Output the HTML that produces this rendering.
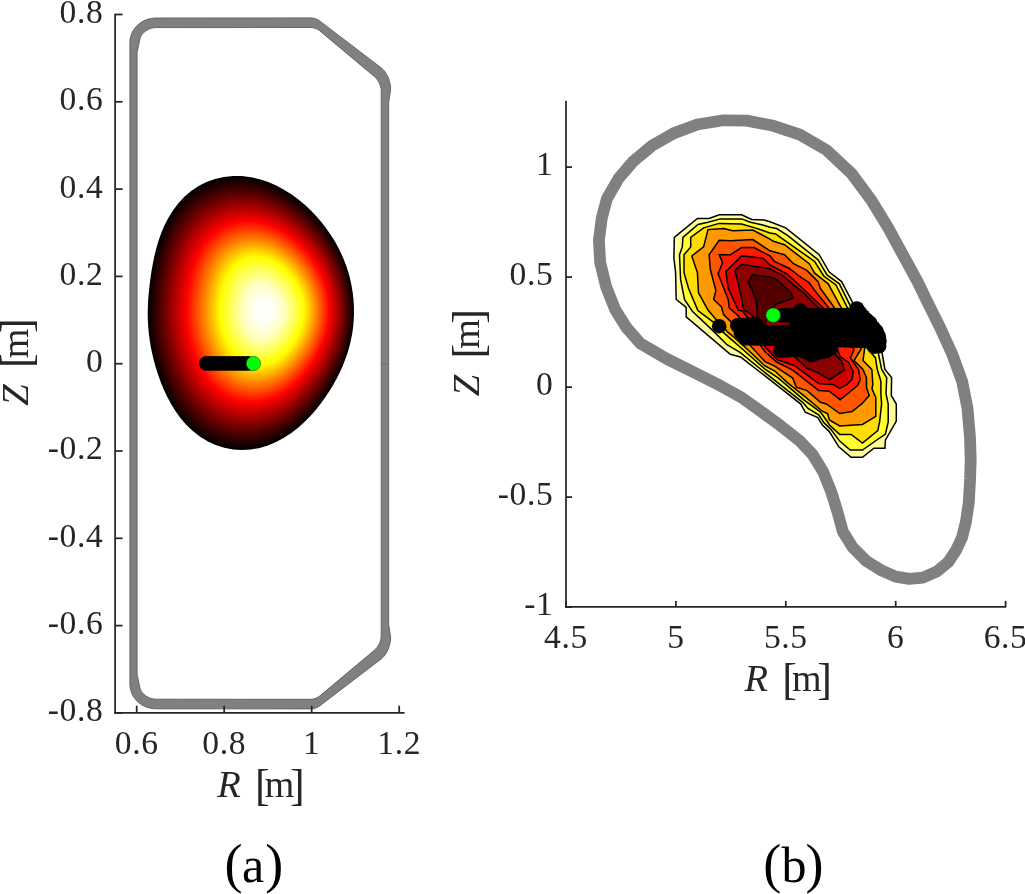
<!DOCTYPE html>
<html><head><meta charset="utf-8"><title>figure</title>
<style>
html,body{margin:0;padding:0;background:#fff;}
svg{display:block}
text{font-family:"Liberation Serif",serif;fill:#262626}
.tk{font-size:33.6px;letter-spacing:0.6px}
.lb{font-size:37px}
.it{font-style:italic;font-size:38.5px}
.mm{font-size:38px}
.br{font-size:44px}
.cap{font-size:50px;fill:#000}
.pr{font-size:54px}
</style></head><body>
<svg width="1025" height="894" viewBox="0 0 1025 894">
<rect width="1025" height="894" fill="#fff"/>
<path d="M129.90,363.40 L129.90,43.00 C129.90,29.00 141.38,18.00 156.00,18.00 L311.40,17.90 C314.54,17.96 318.76,19.72 321.00,21.90 L381.80,68.30 C386.56,72.05 390.48,81.16 390.70,89.00 L388.70,102.50 L388.70,624.30 L390.70,637.80 C390.48,645.64 386.56,654.75 381.80,658.50 L321.00,704.90 C318.76,707.08 314.54,708.84 311.40,708.90 L156.00,708.80 C141.38,708.80 129.90,697.80 129.90,683.80 L129.90,363.40 Z M137.10,363.40 L137.10,52.40 L140.00,38.50 C141.68,32.45 148.72,27.66 156.00,27.60 L311.00,27.50 C313.80,27.56 317.58,28.96 319.60,30.70 L374.30,76.50 C378.16,79.58 381.20,85.74 381.20,90.50 L381.20,636.30 C381.20,641.06 378.16,647.22 374.30,650.30 L319.60,696.10 C317.58,697.84 313.80,699.24 311.00,699.30 L156.00,699.20 C148.72,699.14 141.68,694.35 140.00,688.30 L137.10,674.40 L137.10,363.40 Z" fill="#808080" fill-rule="evenodd" stroke="#5e5e5e" stroke-width="0.9"/>
<line x1="381.2" y1="363.6" x2="388.7" y2="363.6" stroke="#6a6a6a" stroke-width="0.8"/>
<path d="M354.0,313.0 353.9,306.3 353.5,299.5 352.7,292.8 351.6,286.0 350.2,279.3 348.4,272.6 346.3,266.0 343.8,259.4 340.9,252.9 337.7,246.5 334.1,240.1 330.1,233.9 325.8,227.7 321.1,221.7 315.9,215.8 310.4,210.1 304.5,204.6 298.1,199.3 291.3,194.3 284.0,189.7 276.3,185.6 268.2,182.0 259.8,179.2 251.0,177.2 242.0,176.1 233.0,175.9 223.9,176.9 215.1,178.9 206.5,182.0 198.5,186.1 190.9,191.2 184.1,197.1 178.0,203.7 172.6,210.9 168.0,218.4 164.1,226.1 160.9,234.0 158.2,241.8 156.0,249.5 154.2,257.1 152.7,264.5 151.4,271.7 150.4,278.8 149.5,285.8 148.8,292.7 148.2,299.5 147.9,306.2 147.7,313.0 147.8,319.8 148.2,326.5 148.8,333.3 149.7,340.1 150.8,347.0 152.3,353.9 154.0,360.9 155.9,367.9 158.2,375.0 160.8,382.2 163.8,389.5 167.2,396.8 171.1,404.1 175.6,411.3 180.6,418.3 186.4,424.9 192.8,431.1 199.8,436.6 207.5,441.3 215.6,445.1 224.2,447.8 233.0,449.5 242.0,450.1 251.0,449.5 259.8,447.9 268.4,445.3 276.6,441.8 284.4,437.6 291.7,432.8 298.4,427.5 304.7,421.8 310.4,415.9 315.7,409.9 320.6,403.7 325.1,397.5 329.3,391.3 333.1,385.0 336.6,378.7 339.8,372.3 342.7,365.9 345.2,359.5 347.5,353.0 349.4,346.4 351.0,339.8 352.3,333.1 353.2,326.4 353.7,319.7Z" fill="#040000"/>
<path d="M353.2,313.0 353.1,306.3 352.7,299.6 351.9,293.0 350.8,286.4 349.4,279.7 347.7,273.1 345.6,266.6 343.1,260.1 340.3,253.7 337.1,247.3 333.5,241.1 329.6,234.9 325.3,228.8 320.6,222.9 315.5,217.1 310.1,211.5 304.2,206.0 297.9,200.8 291.1,195.9 284.0,191.3 276.4,187.3 268.3,183.8 260.0,181.0 251.3,179.0 242.4,177.9 233.4,177.7 224.5,178.7 215.7,180.7 207.3,183.7 199.3,187.8 191.8,192.8 185.1,198.6 179.0,205.2 173.7,212.2 169.2,219.6 165.3,227.2 162.1,235.0 159.4,242.7 157.2,250.3 155.4,257.8 154.0,265.1 152.7,272.3 151.7,279.3 150.8,286.1 150.1,292.9 149.6,299.6 149.2,306.3 149.1,313.0 149.2,319.6 149.5,326.3 150.1,333.0 151.0,339.7 152.2,346.5 153.6,353.3 155.2,360.2 157.2,367.1 159.4,374.1 162.0,381.2 164.9,388.4 168.3,395.7 172.2,402.9 176.6,410.0 181.6,416.8 187.3,423.4 193.7,429.4 200.6,434.9 208.2,439.5 216.3,443.2 224.7,446.0 233.5,447.6 242.4,448.2 251.3,447.6 260.0,446.0 268.5,443.5 276.6,440.0 284.3,435.9 291.5,431.1 298.2,425.9 304.4,420.3 310.1,414.5 315.3,408.5 320.2,402.5 324.6,396.3 328.7,390.2 332.5,384.0 336.0,377.7 339.1,371.5 342.0,365.2 344.5,358.8 346.8,352.4 348.7,345.9 350.2,339.4 351.5,332.8 352.4,326.2 352.9,319.6Z" fill="#0d0000"/>
<path d="M352.4,312.9 352.3,306.3 351.9,299.8 351.1,293.2 350.1,286.7 348.7,280.1 346.9,273.6 344.8,267.2 342.4,260.8 339.6,254.4 336.4,248.2 332.9,242.0 329.0,235.9 324.8,229.9 320.1,224.1 315.1,218.3 309.7,212.8 303.9,207.4 297.7,202.2 291.0,197.4 283.9,192.9 276.4,188.9 268.4,185.5 260.1,182.7 251.5,180.7 242.8,179.6 233.9,179.5 225.0,180.4 216.4,182.4 208.0,185.4 200.1,189.4 192.7,194.4 186.0,200.1 180.1,206.6 174.8,213.5 170.3,220.8 166.5,228.4 163.3,236.0 160.7,243.6 158.5,251.1 156.7,258.5 155.3,265.7 154.0,272.8 153.0,279.7 152.1,286.4 151.4,293.1 150.9,299.7 150.6,306.3 150.4,312.9 150.5,319.5 150.9,326.1 151.5,332.7 152.4,339.3 153.5,346.0 154.9,352.7 156.5,359.5 158.4,366.3 160.7,373.3 163.2,380.3 166.1,387.4 169.5,394.5 173.3,401.6 177.7,408.6 182.6,415.4 188.3,421.8 194.5,427.8 201.4,433.2 208.9,437.7 216.9,441.4 225.3,444.1 233.9,445.8 242.7,446.3 251.5,445.8 260.2,444.2 268.6,441.7 276.6,438.3 284.2,434.2 291.4,429.5 298.0,424.3 304.1,418.8 309.7,413.1 314.9,407.2 319.7,401.2 324.1,395.1 328.2,389.1 331.9,383.0 335.3,376.8 338.5,370.6 341.3,364.4 343.8,358.1 346.0,351.8 347.9,345.4 349.5,339.0 350.7,332.5 351.6,326.0 352.1,319.5Z" fill="#160000"/>
<path d="M351.6,312.9 351.5,306.4 351.1,299.9 350.3,293.4 349.3,287.0 347.9,280.5 346.2,274.1 344.1,267.7 341.7,261.4 338.9,255.2 335.8,249.0 332.3,242.9 328.5,236.9 324.3,231.0 319.7,225.2 314.7,219.6 309.4,214.1 303.6,208.8 297.4,203.7 290.8,198.9 283.8,194.5 276.4,190.5 268.5,187.1 260.3,184.4 251.8,182.5 243.1,181.4 234.3,181.3 225.6,182.2 217.0,184.1 208.7,187.1 200.9,191.1 193.6,195.9 187.0,201.6 181.1,208.0 175.9,214.8 171.4,222.0 167.6,229.4 164.5,237.0 161.9,244.5 159.8,251.9 158.0,259.2 156.6,266.3 155.3,273.3 154.3,280.1 153.5,286.7 152.8,293.3 152.2,299.9 151.9,306.4 151.8,312.9 151.9,319.4 152.2,325.9 152.8,332.4 153.7,338.9 154.8,345.5 156.2,352.1 157.8,358.8 159.7,365.6 161.9,372.4 164.4,379.3 167.3,386.3 170.6,393.4 174.4,400.4 178.7,407.3 183.7,414.0 189.2,420.3 195.4,426.2 202.2,431.5 209.6,436.0 217.5,439.7 225.8,442.3 234.4,443.9 243.1,444.5 251.8,443.9 260.4,442.4 268.7,439.9 276.6,436.6 284.2,432.5 291.2,427.9 297.8,422.8 303.8,417.4 309.4,411.7 314.5,405.9 319.2,400.0 323.6,394.0 327.6,388.0 331.3,382.0 334.7,375.9 337.8,369.8 340.6,363.7 343.1,357.5 345.3,351.2 347.2,344.9 348.7,338.6 349.9,332.2 350.8,325.8 351.3,319.3Z" fill="#1e0000"/>
<path d="M350.8,312.8 350.7,306.4 350.3,300.0 349.5,293.7 348.5,287.3 347.1,280.9 345.4,274.6 343.4,268.3 341.0,262.1 338.3,255.9 335.2,249.8 331.7,243.8 327.9,237.9 323.7,232.0 319.2,226.4 314.3,220.8 309.0,215.4 303.3,210.1 297.2,205.1 290.7,200.4 283.7,196.0 276.4,192.1 268.6,188.8 260.5,186.1 252.1,184.2 243.5,183.1 234.8,183.0 226.1,183.9 217.6,185.8 209.5,188.7 201.7,192.7 194.5,197.5 188.0,203.1 182.1,209.3 177.0,216.1 172.6,223.2 168.8,230.5 165.7,237.9 163.1,245.4 161.0,252.7 159.3,259.9 157.8,266.9 156.6,273.7 155.6,280.5 154.8,287.1 154.1,293.6 153.6,300.0 153.2,306.4 153.1,312.8 153.2,319.2 153.6,325.6 154.1,332.1 155.0,338.5 156.1,345.0 157.5,351.6 159.1,358.2 161.0,364.8 163.1,371.6 165.6,378.4 168.5,385.3 171.7,392.2 175.5,399.1 179.8,406.0 184.6,412.6 190.1,418.8 196.3,424.7 203.0,429.9 210.3,434.3 218.2,437.9 226.4,440.5 234.9,442.1 243.5,442.7 252.1,442.1 260.6,440.6 268.8,438.1 276.6,434.8 284.1,430.9 291.0,426.3 297.5,421.3 303.5,415.9 309.0,410.3 314.1,404.6 318.8,398.7 323.1,392.9 327.1,386.9 330.7,381.0 334.1,375.0 337.1,369.0 339.9,362.9 342.4,356.8 344.5,350.7 346.4,344.5 347.9,338.2 349.1,331.9 350.0,325.6 350.5,319.2Z" fill="#270000"/>
<path d="M349.9,312.8 349.9,306.5 349.5,300.2 348.7,293.9 347.7,287.6 346.4,281.3 344.7,275.1 342.7,268.9 340.3,262.7 337.6,256.6 334.5,250.6 331.1,244.7 327.4,238.8 323.2,233.1 318.7,227.5 313.9,222.0 308.6,216.6 303.0,211.5 297.0,206.5 290.5,201.9 283.7,197.6 276.4,193.7 268.7,190.4 260.7,187.8 252.3,185.9 243.8,184.8 235.2,184.7 226.7,185.6 218.3,187.5 210.2,190.4 202.5,194.2 195.4,199.0 188.9,204.5 183.1,210.7 178.0,217.3 173.7,224.4 170.0,231.6 166.9,238.9 164.4,246.2 162.3,253.4 160.5,260.5 159.1,267.5 157.9,274.2 156.9,280.9 156.1,287.4 155.4,293.8 154.9,300.1 154.6,306.5 154.5,312.8 154.6,319.1 154.9,325.4 155.5,331.8 156.3,338.1 157.4,344.5 158.7,351.0 160.3,357.5 162.2,364.1 164.4,370.7 166.8,377.5 169.6,384.3 172.9,391.1 176.6,397.9 180.8,404.7 185.6,411.2 191.1,417.4 197.1,423.1 203.8,428.2 211.1,432.6 218.8,436.2 226.9,438.8 235.3,440.3 243.8,440.9 252.3,440.3 260.7,438.8 268.8,436.4 276.6,433.2 284.0,429.2 290.9,424.7 297.3,419.8 303.2,414.5 308.7,409.0 313.7,403.3 318.3,397.5 322.6,391.7 326.5,385.9 330.1,380.0 333.5,374.1 336.5,368.2 339.2,362.2 341.7,356.2 343.8,350.1 345.6,344.0 347.1,337.8 348.3,331.6 349.2,325.3 349.7,319.1Z" fill="#300000"/>
<path d="M349.1,312.7 349.0,306.5 348.7,300.3 347.9,294.1 346.9,287.9 345.6,281.7 343.9,275.5 341.9,269.4 339.6,263.3 336.9,257.3 333.9,251.4 330.5,245.5 326.8,239.8 322.7,234.1 318.3,228.6 313.5,223.2 308.3,217.9 302.7,212.8 296.8,207.9 290.4,203.3 283.6,199.1 276.4,195.3 268.8,192.0 260.8,189.4 252.6,187.5 244.2,186.5 235.7,186.4 227.2,187.2 218.9,189.1 210.9,192.0 203.3,195.8 196.3,200.5 189.9,205.9 184.1,212.0 179.1,218.6 174.8,225.5 171.1,232.6 168.1,239.9 165.6,247.1 163.5,254.2 161.8,261.2 160.4,268.0 159.2,274.7 158.2,281.2 157.4,287.7 156.7,294.0 156.2,300.3 155.9,306.5 155.8,312.7 155.9,319.0 156.2,325.2 156.8,331.5 157.6,337.8 158.7,344.1 160.0,350.4 161.6,356.9 163.5,363.3 165.6,369.9 168.0,376.6 170.8,383.3 174.0,390.0 177.7,396.7 181.9,403.4 186.6,409.8 192.0,415.9 198.0,421.6 204.6,426.6 211.8,431.0 219.4,434.5 227.5,437.0 235.7,438.6 244.2,439.1 252.6,438.6 260.9,437.1 268.9,434.7 276.6,431.5 283.9,427.6 290.7,423.2 297.1,418.3 302.9,413.1 308.3,407.6 313.3,402.0 317.9,396.4 322.1,390.6 326.0,384.9 329.5,379.1 332.8,373.3 335.8,367.4 338.5,361.5 340.9,355.6 343.1,349.6 344.9,343.5 346.4,337.4 347.5,331.3 348.4,325.1 348.9,318.9Z" fill="#390000"/>
<path d="M348.3,312.7 348.2,306.6 347.8,300.4 347.1,294.3 346.1,288.2 344.8,282.1 343.2,276.0 341.2,270.0 338.9,264.0 336.2,258.0 333.2,252.2 329.9,246.4 326.2,240.7 322.2,235.1 317.8,229.7 313.0,224.3 307.9,219.1 302.4,214.1 296.5,209.3 290.2,204.8 283.5,200.6 276.4,196.8 268.8,193.6 261.0,191.0 252.9,189.2 244.5,188.1 236.1,188.0 227.8,188.9 219.5,190.7 211.6,193.6 204.1,197.3 197.2,201.9 190.8,207.3 185.2,213.3 180.2,219.8 175.9,226.6 172.3,233.7 169.3,240.8 166.8,247.9 164.8,254.9 163.1,261.8 161.7,268.6 160.5,275.2 159.5,281.6 158.7,288.0 158.1,294.2 157.6,300.4 157.2,306.5 157.1,312.7 157.2,318.8 157.5,325.0 158.1,331.2 158.9,337.4 160.0,343.6 161.3,349.9 162.9,356.2 164.7,362.6 166.8,369.1 169.2,375.6 172.0,382.3 175.1,388.9 178.8,395.6 182.9,402.1 187.6,408.5 192.9,414.5 198.9,420.1 205.4,425.1 212.5,429.3 220.0,432.8 228.0,435.3 236.2,436.8 244.5,437.3 252.9,436.8 261.1,435.4 269.0,433.0 276.6,429.9 283.8,426.0 290.6,421.6 296.8,416.8 302.6,411.7 308.0,406.3 312.9,400.8 317.4,395.2 321.6,389.5 325.4,383.9 328.9,378.1 332.2,372.4 335.2,366.6 337.8,360.8 340.2,355.0 342.3,349.0 344.1,343.1 345.6,337.1 346.7,331.0 347.6,324.9 348.1,318.8Z" fill="#410000"/>
<path d="M347.5,312.6 347.4,306.6 347.0,300.5 346.3,294.5 345.3,288.5 344.0,282.4 342.4,276.4 340.5,270.5 338.2,264.6 335.6,258.7 332.6,253.0 329.3,247.3 325.6,241.7 321.7,236.1 317.3,230.7 312.6,225.5 307.6,220.3 302.1,215.4 296.3,210.6 290.0,206.2 283.4,202.0 276.3,198.3 268.9,195.2 261.1,192.6 253.1,190.8 244.9,189.8 236.6,189.7 228.3,190.5 220.2,192.3 212.3,195.1 204.9,198.8 198.1,203.4 191.8,208.7 186.2,214.6 181.3,221.0 177.0,227.8 173.5,234.7 170.5,241.7 168.0,248.8 166.0,255.7 164.3,262.5 163.0,269.1 161.8,275.6 160.9,282.0 160.0,288.2 159.4,294.4 158.9,300.5 158.6,306.6 158.5,312.6 158.5,318.7 158.9,324.8 159.4,330.9 160.2,337.0 161.3,343.1 162.6,349.3 164.2,355.6 166.0,361.9 168.0,368.3 170.4,374.8 173.1,381.3 176.3,387.9 179.8,394.4 183.9,400.9 188.6,407.1 193.9,413.1 199.7,418.6 206.2,423.5 213.2,427.7 220.7,431.1 228.5,433.6 236.6,435.1 244.9,435.6 253.1,435.1 261.2,433.7 269.1,431.3 276.6,428.2 283.7,424.4 290.4,420.1 296.6,415.4 302.3,410.3 307.6,405.0 312.4,399.6 316.9,394.0 321.0,388.5 324.8,382.9 328.3,377.2 331.5,371.6 334.5,365.9 337.1,360.1 339.5,354.3 341.6,348.5 343.3,342.6 344.8,336.7 345.9,330.7 346.8,324.7 347.3,318.7Z" fill="#4a0000"/>
<path d="M346.7,312.6 346.6,306.6 346.2,300.7 345.5,294.7 344.5,288.7 343.3,282.8 341.6,276.9 339.7,271.0 337.5,265.2 334.9,259.4 331.9,253.7 328.7,248.1 325.1,242.6 321.1,237.1 316.8,231.8 312.2,226.6 307.2,221.5 301.8,216.7 296.0,212.0 289.9,207.6 283.3,203.5 276.3,199.8 269.0,196.7 261.3,194.2 253.4,192.4 245.2,191.4 237.0,191.3 228.8,192.1 220.8,193.9 213.1,196.7 205.7,200.3 198.9,204.8 192.7,210.1 187.2,215.9 182.3,222.2 178.2,228.9 174.6,235.7 171.7,242.6 169.2,249.6 167.2,256.4 165.6,263.1 164.2,269.7 163.1,276.1 162.2,282.4 161.4,288.5 160.7,294.6 160.2,300.6 159.9,306.6 159.8,312.6 159.9,318.6 160.2,324.6 160.7,330.6 161.6,336.6 162.6,342.7 163.9,348.8 165.4,355.0 167.2,361.2 169.2,367.5 171.6,373.9 174.3,380.3 177.4,386.8 180.9,393.3 185.0,399.6 189.6,405.8 194.8,411.7 200.6,417.1 207.0,422.0 213.9,426.1 221.3,429.5 229.1,431.9 237.1,433.4 245.2,433.9 253.4,433.4 261.4,432.0 269.1,429.7 276.6,426.6 283.6,422.9 290.2,418.6 296.3,413.9 302.0,408.9 307.2,403.7 312.0,398.3 316.4,392.9 320.5,387.4 324.3,381.9 327.7,376.3 330.9,370.7 333.8,365.1 336.4,359.4 338.8,353.7 340.8,348.0 342.5,342.2 344.0,336.3 345.1,330.4 345.9,324.5 346.5,318.6Z" fill="#530000"/>
<path d="M345.9,312.6 345.8,306.7 345.4,300.8 344.7,294.9 343.7,289.0 342.5,283.2 340.9,277.3 339.0,271.5 336.7,265.8 334.2,260.1 331.3,254.5 328.1,248.9 324.5,243.5 320.6,238.1 316.4,232.9 311.8,227.7 306.8,222.7 301.5,217.9 295.8,213.3 289.7,208.9 283.2,204.9 276.3,201.3 269.1,198.2 261.5,195.7 253.6,194.0 245.6,193.0 237.4,192.9 229.3,193.7 221.4,195.5 213.8,198.2 206.5,201.8 199.8,206.2 193.7,211.4 188.2,217.2 183.4,223.4 179.3,229.9 175.8,236.7 172.9,243.6 170.5,250.4 168.5,257.1 166.9,263.8 165.5,270.2 164.4,276.5 163.4,282.7 162.7,288.8 162.0,294.8 161.5,300.8 161.2,306.7 161.1,312.6 161.2,318.5 161.5,324.4 162.1,330.3 162.9,336.3 163.9,342.2 165.2,348.3 166.7,354.3 168.4,360.5 170.5,366.7 172.8,373.0 175.5,379.4 178.5,385.8 182.0,392.1 186.0,398.4 190.6,404.5 195.7,410.3 201.4,415.6 207.8,420.4 214.6,424.6 221.9,427.9 229.6,430.3 237.5,431.8 245.6,432.2 253.6,431.8 261.5,430.3 269.2,428.1 276.6,425.0 283.5,421.4 290.0,417.2 296.1,412.5 301.7,407.6 306.8,402.4 311.6,397.1 316.0,391.8 320.0,386.3 323.7,380.9 327.1,375.4 330.3,369.9 333.1,364.4 335.7,358.8 338.0,353.1 340.0,347.5 341.8,341.7 343.2,336.0 344.3,330.1 345.1,324.3 345.6,318.4Z" fill="#5b0000"/>
<path d="M345.0,312.5 344.9,306.7 344.6,300.9 343.9,295.1 342.9,289.3 341.7,283.5 340.1,277.8 338.2,272.1 336.0,266.4 333.5,260.8 330.6,255.2 327.4,249.8 323.9,244.4 320.1,239.1 315.9,233.9 311.3,228.8 306.4,223.9 301.2,219.1 295.6,214.6 289.5,210.3 283.1,206.3 276.3,202.8 269.1,199.7 261.6,197.3 253.9,195.5 245.9,194.6 237.9,194.5 229.9,195.3 222.0,197.0 214.5,199.7 207.3,203.3 200.7,207.6 194.6,212.7 189.2,218.4 184.5,224.6 180.4,231.0 176.9,237.7 174.0,244.4 171.7,251.2 169.7,257.8 168.1,264.4 166.8,270.8 165.7,277.0 164.7,283.1 164.0,289.1 163.3,295.0 162.8,300.9 162.5,306.7 162.4,312.5 162.5,318.3 162.8,324.2 163.4,330.0 164.2,335.9 165.2,341.8 166.4,347.7 167.9,353.7 169.7,359.8 171.7,365.9 174.0,372.1 176.6,378.4 179.6,384.7 183.1,391.0 187.0,397.2 191.6,403.2 196.6,408.9 202.3,414.2 208.5,418.9 215.3,423.0 222.5,426.3 230.1,428.7 237.9,430.1 245.9,430.6 253.9,430.1 261.7,428.7 269.3,426.5 276.5,423.5 283.4,419.8 289.9,415.7 295.8,411.1 301.4,406.3 306.5,401.2 311.2,396.0 315.5,390.7 319.5,385.3 323.1,379.9 326.5,374.5 329.6,369.1 332.5,363.6 335.0,358.1 337.3,352.5 339.3,346.9 341.0,341.3 342.4,335.6 343.5,329.9 344.3,324.1 344.8,318.3Z" fill="#640000"/>
<path d="M344.2,312.5 344.1,306.8 343.7,301.0 343.1,295.3 342.1,289.6 340.9,283.9 339.3,278.2 337.5,272.6 335.3,267.0 332.8,261.4 330.0,256.0 326.8,250.6 323.3,245.3 319.5,240.0 315.4,234.9 310.9,229.9 306.1,225.1 300.9,220.4 295.3,215.9 289.3,211.7 283.0,207.7 276.3,204.2 269.2,201.2 261.8,198.8 254.1,197.1 246.2,196.1 238.3,196.0 230.4,196.8 222.7,198.6 215.2,201.2 208.1,204.7 201.5,209.0 195.6,214.0 190.2,219.7 185.5,225.7 181.5,232.1 178.1,238.7 175.2,245.3 172.9,252.0 171.0,258.5 169.4,265.0 168.1,271.3 167.0,277.4 166.0,283.5 165.3,289.4 164.6,295.2 164.2,301.0 163.9,306.7 163.7,312.5 163.8,318.2 164.1,324.0 164.7,329.8 165.5,335.5 166.5,341.4 167.7,347.2 169.2,353.1 170.9,359.1 172.9,365.2 175.2,371.3 177.8,377.5 180.7,383.7 184.2,389.9 188.1,396.0 192.5,401.9 197.5,407.6 203.1,412.8 209.3,417.5 216.0,421.5 223.1,424.7 230.6,427.0 238.4,428.5 246.2,428.9 254.1,428.5 261.8,427.1 269.3,424.9 276.5,421.9 283.3,418.4 289.7,414.3 295.6,409.7 301.1,404.9 306.1,399.9 310.7,394.8 315.0,389.6 318.9,384.3 322.6,379.0 325.9,373.6 329.0,368.3 331.8,362.9 334.3,357.4 336.6,352.0 338.5,346.4 340.2,340.9 341.6,335.2 342.7,329.6 343.5,323.9 344.0,318.2Z" fill="#6d0000"/>
<path d="M343.4,312.4 343.3,306.8 342.9,301.1 342.3,295.5 341.3,289.9 340.1,284.2 338.6,278.6 336.7,273.1 334.6,267.5 332.1,262.1 329.3,256.7 326.2,251.4 322.8,246.1 319.0,241.0 314.9,235.9 310.5,231.0 305.7,226.2 300.6,221.6 295.1,217.2 289.2,213.0 282.9,209.1 276.2,205.7 269.2,202.7 261.9,200.3 254.3,198.6 246.6,197.7 238.7,197.6 230.9,198.4 223.3,200.1 215.9,202.7 208.9,206.1 202.4,210.4 196.5,215.3 191.2,220.9 186.6,226.9 182.6,233.1 179.2,239.6 176.4,246.2 174.1,252.8 172.2,259.2 170.6,265.6 169.3,271.8 168.2,277.9 167.3,283.8 166.6,289.6 165.9,295.4 165.5,301.1 165.2,306.8 165.1,312.4 165.1,318.1 165.4,323.8 166.0,329.5 166.7,335.2 167.7,340.9 169.0,346.7 170.4,352.5 172.1,358.4 174.1,364.4 176.3,370.5 178.9,376.6 181.9,382.7 185.2,388.8 189.1,394.8 193.5,400.7 198.5,406.2 204.0,411.4 210.1,416.0 216.7,419.9 223.7,423.1 231.1,425.4 238.8,426.8 246.6,427.3 254.3,426.8 262.0,425.5 269.4,423.3 276.5,420.4 283.2,416.9 289.5,412.8 295.3,408.4 300.7,403.6 305.7,398.7 310.3,393.6 314.5,388.5 318.4,383.3 322.0,378.0 325.3,372.8 328.3,367.5 331.1,362.2 333.6,356.8 335.8,351.4 337.8,345.9 339.4,340.4 340.8,334.9 341.9,329.3 342.7,323.7 343.2,318.1Z" fill="#760000"/>
<path d="M342.5,312.4 342.4,306.8 342.1,301.3 341.4,295.7 340.5,290.1 339.3,284.6 337.8,279.1 336.0,273.6 333.8,268.1 331.4,262.7 328.6,257.4 325.6,252.2 322.2,247.0 318.4,241.9 314.4,236.9 310.0,232.1 305.3,227.4 300.2,222.8 294.8,218.4 289.0,214.3 282.8,210.5 276.2,207.1 269.3,204.2 262.1,201.8 254.6,200.1 246.9,199.2 239.2,199.1 231.4,199.9 223.9,201.6 216.6,204.1 209.7,207.6 203.3,211.7 197.4,216.6 192.2,222.1 187.6,228.0 183.7,234.2 180.4,240.6 177.6,247.1 175.3,253.5 173.4,259.9 171.9,266.2 170.6,272.3 169.5,278.3 168.6,284.2 167.9,289.9 167.2,295.6 166.8,301.2 166.5,306.8 166.4,312.4 166.5,318.0 166.8,323.6 167.3,329.2 168.0,334.8 169.0,340.5 170.2,346.2 171.7,352.0 173.4,357.8 175.3,363.7 177.5,369.6 180.0,375.6 183.0,381.7 186.3,387.7 190.1,393.7 194.5,399.4 199.4,404.9 204.8,410.0 210.9,414.5 217.4,418.4 224.3,421.6 231.7,423.9 239.2,425.2 246.9,425.7 254.6,425.2 262.1,423.9 269.4,421.8 276.5,418.9 283.1,415.4 289.3,411.4 295.1,407.0 300.4,402.4 305.3,397.5 309.9,392.5 314.0,387.4 317.9,382.3 321.4,377.1 324.7,371.9 327.7,366.7 330.4,361.4 332.9,356.1 335.1,350.8 337.0,345.4 338.6,340.0 340.0,334.6 341.1,329.1 341.8,323.5 342.3,318.0Z" fill="#7e0000"/>
<path d="M341.7,312.4 341.6,306.9 341.3,301.4 340.6,295.9 339.7,290.4 338.5,284.9 337.0,279.5 335.2,274.1 333.1,268.7 330.7,263.4 328.0,258.1 324.9,252.9 321.6,247.9 317.9,242.8 313.9,237.9 309.6,233.1 304.9,228.5 299.9,224.0 294.5,219.7 288.8,215.6 282.7,211.9 276.2,208.5 269.3,205.6 262.2,203.3 254.8,201.6 247.2,200.7 239.6,200.6 232.0,201.4 224.5,203.0 217.3,205.6 210.5,208.9 204.1,213.1 198.4,217.9 193.2,223.3 188.7,229.1 184.8,235.2 181.5,241.5 178.8,247.9 176.5,254.3 174.6,260.6 173.1,266.8 171.8,272.8 170.8,278.7 169.9,284.5 169.1,290.2 168.5,295.8 168.1,301.3 167.8,306.9 167.7,312.4 167.8,317.9 168.1,323.4 168.6,328.9 169.3,334.5 170.3,340.1 171.5,345.7 172.9,351.4 174.6,357.1 176.5,362.9 178.7,368.8 181.2,374.7 184.1,380.7 187.4,386.7 191.1,392.5 195.4,398.2 200.3,403.6 205.7,408.6 211.6,413.1 218.1,416.9 224.9,420.0 232.2,422.3 239.6,423.7 247.2,424.1 254.8,423.7 262.3,422.3 269.5,420.2 276.4,417.4 283.0,414.0 289.1,410.0 294.8,405.7 300.1,401.1 304.9,396.3 309.4,391.3 313.5,386.3 317.3,381.3 320.8,376.2 324.0,371.0 327.0,365.9 329.7,360.7 332.1,355.5 334.3,350.3 336.2,344.9 337.8,339.6 339.2,334.2 340.2,328.8 341.0,323.3 341.5,317.9Z" fill="#870000"/>
<path d="M340.8,312.3 340.8,306.9 340.4,301.5 339.8,296.1 338.9,290.7 337.7,285.3 336.2,279.9 334.4,274.5 332.4,269.3 330.0,264.0 327.3,258.8 324.3,253.7 321.0,248.7 317.4,243.8 313.4,238.9 309.1,234.2 304.5,229.6 299.6,225.2 294.3,220.9 288.6,216.9 282.6,213.2 276.2,209.9 269.4,207.0 262.3,204.7 255.0,203.1 247.6,202.2 240.0,202.1 232.5,202.9 225.1,204.5 218.0,207.0 211.2,210.3 205.0,214.4 199.3,219.2 194.2,224.5 189.7,230.2 185.9,236.2 182.6,242.5 179.9,248.8 177.7,255.1 175.8,261.3 174.3,267.4 173.1,273.3 172.0,279.2 171.2,284.9 170.4,290.5 169.8,296.0 169.4,301.4 169.1,306.9 169.0,312.3 169.1,317.8 169.4,323.2 169.9,328.7 170.6,334.2 171.6,339.7 172.8,345.2 174.2,350.8 175.8,356.5 177.7,362.2 179.9,368.0 182.3,373.8 185.2,379.7 188.4,385.6 192.2,391.4 196.4,397.0 201.2,402.3 206.5,407.3 212.4,411.7 218.7,415.5 225.5,418.5 232.7,420.7 240.1,422.1 247.5,422.5 255.0,422.1 262.4,420.8 269.5,418.7 276.4,415.9 282.9,412.5 288.9,408.6 294.6,404.4 299.8,399.8 304.6,395.1 309.0,390.2 313.0,385.3 316.8,380.3 320.2,375.2 323.4,370.2 326.3,365.1 329.0,360.0 331.4,354.9 333.6,349.7 335.4,344.5 337.0,339.2 338.4,333.9 339.4,328.5 340.2,323.1 340.6,317.7Z" fill="#900000"/>
<path d="M340.0,312.3 339.9,306.9 339.6,301.6 339.0,296.2 338.1,290.9 336.9,285.6 335.4,280.3 333.7,275.0 331.6,269.8 329.3,264.6 326.6,259.5 323.7,254.5 320.4,249.5 316.8,244.7 312.9,239.9 308.7,235.2 304.1,230.7 299.3,226.3 294.0,222.1 288.4,218.2 282.4,214.5 276.1,211.3 269.4,208.5 262.5,206.2 255.3,204.6 247.9,203.7 240.4,203.6 233.0,204.3 225.7,206.0 218.7,208.4 212.0,211.7 205.8,215.7 200.2,220.4 195.2,225.6 190.8,231.3 187.0,237.3 183.8,243.4 181.1,249.6 178.9,255.8 177.1,261.9 175.6,268.0 174.3,273.8 173.3,279.6 172.4,285.2 171.7,290.7 171.1,296.2 170.7,301.6 170.4,306.9 170.3,312.3 170.4,317.7 170.7,323.0 171.2,328.4 171.9,333.8 172.8,339.2 174.0,344.7 175.4,350.2 177.0,355.8 178.9,361.5 181.0,367.2 183.5,373.0 186.3,378.8 189.5,384.6 193.2,390.3 197.4,395.8 202.1,401.0 207.3,405.9 213.1,410.3 219.4,414.0 226.1,417.0 233.2,419.2 240.5,420.5 247.9,421.0 255.3,420.5 262.5,419.3 269.6,417.2 276.3,414.4 282.7,411.1 288.7,407.3 294.3,403.1 299.4,398.6 304.2,393.9 308.5,389.1 312.5,384.2 316.2,379.3 319.7,374.3 322.8,369.4 325.7,364.4 328.3,359.3 330.7,354.3 332.8,349.1 334.7,344.0 336.2,338.8 337.6,333.5 338.6,328.3 339.3,323.0 339.8,317.6Z" fill="#980000"/>
<path d="M339.2,312.3 339.1,307.0 338.7,301.7 338.1,296.4 337.2,291.2 336.1,285.9 334.6,280.7 332.9,275.5 330.9,270.4 328.6,265.3 325.9,260.2 323.0,255.3 319.8,250.4 316.2,245.6 312.4,240.9 308.2,236.3 303.8,231.8 298.9,227.5 293.8,223.3 288.2,219.4 282.3,215.8 276.1,212.6 269.5,209.9 262.6,207.6 255.5,206.0 248.2,205.2 240.8,205.1 233.5,205.8 226.3,207.4 219.4,209.8 212.8,213.1 206.7,217.0 201.1,221.6 196.2,226.8 191.8,232.4 188.1,238.3 184.9,244.3 182.3,250.4 180.1,256.6 178.3,262.6 176.8,268.5 175.6,274.3 174.6,280.0 173.7,285.5 173.0,291.0 172.4,296.4 172.0,301.7 171.7,307.0 171.6,312.3 171.7,317.5 172.0,322.8 172.5,328.1 173.2,333.5 174.1,338.8 175.3,344.2 176.6,349.7 178.2,355.2 180.1,360.7 182.2,366.4 184.6,372.1 187.4,377.8 190.6,383.5 194.2,389.1 198.3,394.6 203.0,399.8 208.2,404.6 213.9,408.9 220.1,412.6 226.7,415.5 233.7,417.7 240.9,419.0 248.2,419.4 255.5,419.0 262.7,417.7 269.6,415.7 276.3,413.0 282.6,409.7 288.5,405.9 294.0,401.8 299.1,397.4 303.8,392.7 308.1,388.0 312.0,383.2 315.7,378.3 319.1,373.4 322.2,368.5 325.0,363.6 327.6,358.6 330.0,353.6 332.1,348.6 333.9,343.5 335.4,338.4 336.7,333.2 337.8,328.0 338.5,322.8 339.0,317.5Z" fill="#a10000"/>
<path d="M338.3,312.2 338.2,307.0 337.9,301.8 337.3,296.6 336.4,291.4 335.3,286.3 333.8,281.1 332.1,276.0 330.1,270.9 327.8,265.9 325.3,260.9 322.4,256.0 319.2,251.2 315.7,246.5 311.9,241.8 307.8,237.3 303.4,232.9 298.6,228.6 293.5,224.5 288.0,220.7 282.2,217.2 276.0,214.0 269.5,211.2 262.7,209.0 255.7,207.5 248.5,206.6 241.2,206.5 234.0,207.3 226.9,208.8 220.0,211.2 213.6,214.4 207.5,218.3 202.1,222.9 197.1,228.0 192.8,233.5 189.1,239.3 186.0,245.2 183.4,251.3 181.3,257.3 179.5,263.3 178.0,269.1 176.8,274.8 175.8,280.4 175.0,285.9 174.3,291.2 173.7,296.5 173.3,301.8 173.0,307.0 172.9,312.2 173.0,317.4 173.2,322.7 173.7,327.9 174.5,333.1 175.4,338.4 176.5,343.7 177.9,349.1 179.4,354.5 181.3,360.0 183.3,365.6 185.7,371.2 188.5,376.9 191.6,382.5 195.2,388.0 199.3,393.4 203.9,398.5 209.0,403.3 214.7,407.5 220.8,411.1 227.3,414.0 234.2,416.2 241.3,417.5 248.5,417.9 255.7,417.5 262.8,416.2 269.7,414.2 276.3,411.6 282.5,408.3 288.3,404.6 293.7,400.5 298.8,396.1 303.4,391.6 307.6,386.9 311.5,382.2 315.1,377.4 318.5,372.6 321.5,367.7 324.3,362.8 326.9,358.0 329.2,353.0 331.3,348.0 333.1,343.0 334.6,338.0 335.9,332.9 336.9,327.7 337.6,322.6 338.1,317.4Z" fill="#aa0000"/>
<path d="M337.4,312.2 337.4,307.1 337.0,301.9 336.4,296.8 335.6,291.7 334.5,286.6 333.0,281.5 331.4,276.5 329.4,271.4 327.1,266.5 324.6,261.6 321.7,256.8 318.6,252.0 315.1,247.3 311.4,242.8 307.3,238.3 303.0,234.0 298.3,229.8 293.2,225.7 287.8,221.9 282.1,218.4 276.0,215.3 269.6,212.6 262.9,210.5 255.9,208.9 248.8,208.1 241.6,208.0 234.5,208.7 227.5,210.2 220.7,212.6 214.3,215.7 208.4,219.6 203.0,224.1 198.1,229.1 193.9,234.5 190.2,240.2 187.1,246.1 184.6,252.1 182.4,258.0 180.7,263.9 179.3,269.7 178.1,275.3 177.1,280.8 176.3,286.2 175.6,291.5 175.0,296.7 174.6,301.9 174.3,307.0 174.2,312.2 174.3,317.3 174.5,322.5 175.0,327.6 175.7,332.8 176.6,338.0 177.8,343.3 179.1,348.6 180.7,353.9 182.4,359.3 184.5,364.8 186.9,370.3 189.6,375.9 192.7,381.5 196.2,386.9 200.2,392.2 204.8,397.3 209.8,401.9 215.4,406.1 221.5,409.7 227.9,412.6 234.7,414.7 241.7,416.0 248.8,416.4 255.9,416.0 262.9,414.7 269.7,412.8 276.2,410.1 282.4,406.9 288.1,403.3 293.5,399.2 298.4,394.9 303.0,390.4 307.2,385.8 311.0,381.1 314.6,376.4 317.9,371.7 320.9,366.9 323.7,362.1 326.2,357.3 328.5,352.4 330.5,347.5 332.3,342.6 333.8,337.6 335.1,332.6 336.1,327.5 336.8,322.4 337.3,317.3Z" fill="#b30000"/>
<path d="M336.6,312.1 336.5,307.1 336.2,302.0 335.6,297.0 334.8,291.9 333.6,286.9 332.3,281.9 330.6,276.9 328.6,272.0 326.4,267.1 323.9,262.3 321.1,257.5 318.0,252.8 314.6,248.2 310.9,243.7 306.9,239.3 302.6,235.0 297.9,230.9 292.9,226.9 287.6,223.2 282.0,219.7 275.9,216.6 269.6,214.0 263.0,211.9 256.1,210.3 249.1,209.5 242.0,209.4 235.0,210.1 228.1,211.6 221.4,214.0 215.1,217.1 209.2,220.9 203.9,225.3 199.1,230.2 194.9,235.6 191.3,241.2 188.3,247.0 185.7,252.9 183.6,258.8 181.9,264.6 180.5,270.2 179.3,275.8 178.3,281.2 177.5,286.5 176.8,291.8 176.3,296.9 175.8,302.0 175.6,307.1 175.5,312.1 175.5,317.2 175.8,322.3 176.3,327.4 177.0,332.5 177.9,337.6 179.0,342.8 180.3,348.0 181.9,353.3 183.6,358.6 185.7,364.0 188.0,369.5 190.6,375.0 193.7,380.5 197.2,385.8 201.2,391.1 205.7,396.0 210.7,400.6 216.2,404.8 222.1,408.3 228.5,411.1 235.2,413.2 242.1,414.5 249.1,414.9 256.1,414.5 263.1,413.3 269.8,411.3 276.2,408.7 282.2,405.5 287.9,401.9 293.2,398.0 298.1,393.7 302.6,389.3 306.7,384.8 310.5,380.1 314.0,375.5 317.3,370.8 320.3,366.1 323.0,361.4 325.5,356.6 327.8,351.8 329.8,347.0 331.5,342.1 333.0,337.2 334.3,332.2 335.2,327.2 336.0,322.2 336.4,317.2Z" fill="#bb0000"/>
<path d="M335.7,312.1 335.7,307.1 335.3,302.1 334.8,297.2 333.9,292.2 332.8,287.2 331.4,282.3 329.8,277.4 327.9,272.5 325.7,267.7 323.2,262.9 320.4,258.2 317.4,253.6 314.0,249.1 310.4,244.6 306.4,240.3 302.1,236.1 297.6,232.0 292.7,228.1 287.4,224.4 281.8,221.0 275.9,218.0 269.6,215.3 263.1,213.2 256.4,211.7 249.4,210.9 242.4,210.8 235.5,211.5 228.7,213.0 222.1,215.3 215.9,218.4 210.1,222.1 204.8,226.5 200.1,231.4 195.9,236.6 192.4,242.2 189.4,247.9 186.9,253.7 184.8,259.5 183.1,265.2 181.7,270.8 180.6,276.3 179.6,281.6 178.8,286.9 178.1,292.0 177.5,297.1 177.1,302.1 176.9,307.1 176.8,312.1 176.8,317.1 177.1,322.1 177.6,327.1 178.3,332.2 179.2,337.2 180.3,342.3 181.6,347.5 183.1,352.7 184.8,357.9 186.8,363.3 189.1,368.6 191.7,374.1 194.8,379.4 198.2,384.8 202.1,389.9 206.5,394.8 211.5,399.4 216.9,403.4 222.8,406.9 229.1,409.7 235.7,411.7 242.5,413.0 249.4,413.4 256.4,413.0 263.2,411.8 269.8,409.9 276.1,407.3 282.1,404.2 287.7,400.6 292.9,396.7 297.7,392.5 302.2,388.2 306.3,383.7 310.0,379.1 313.5,374.6 316.7,369.9 319.6,365.3 322.3,360.6 324.8,355.9 327.0,351.2 329.0,346.4 330.7,341.6 332.2,336.8 333.4,331.9 334.4,327.0 335.1,322.0 335.5,317.1Z" fill="#c40000"/>
<path d="M334.9,312.1 334.8,307.2 334.5,302.2 333.9,297.3 333.1,292.4 332.0,287.5 330.6,282.7 329.0,277.8 327.1,273.0 325.0,268.3 322.5,263.6 319.8,259.0 316.7,254.4 313.4,250.0 309.8,245.6 305.9,241.3 301.7,237.1 297.2,233.1 292.4,229.2 287.2,225.6 281.7,222.3 275.8,219.3 269.7,216.7 263.2,214.6 256.6,213.1 249.7,212.3 242.8,212.2 236.0,212.9 229.2,214.4 222.8,216.7 216.6,219.7 210.9,223.4 205.7,227.7 201.0,232.5 197.0,237.7 193.5,243.1 190.5,248.8 188.0,254.5 186.0,260.2 184.3,265.8 182.9,271.3 181.8,276.7 180.8,282.0 180.0,287.2 179.4,292.3 178.8,297.3 178.4,302.2 178.1,307.1 178.0,312.1 178.1,317.0 178.4,321.9 178.9,326.9 179.5,331.8 180.4,336.8 181.5,341.9 182.8,346.9 184.3,352.1 186.0,357.2 188.0,362.5 190.2,367.8 192.8,373.1 195.8,378.5 199.2,383.7 203.1,388.8 207.4,393.6 212.3,398.1 217.6,402.1 223.5,405.5 229.7,408.3 236.2,410.3 242.9,411.5 249.7,411.9 256.6,411.5 263.3,410.3 269.8,408.4 276.1,405.9 282.0,402.8 287.5,399.3 292.6,395.5 297.4,391.4 301.8,387.1 305.8,382.6 309.5,378.2 312.9,373.6 316.1,369.1 319.0,364.5 321.6,359.9 324.1,355.3 326.3,350.6 328.2,345.9 329.9,341.2 331.4,336.4 332.6,331.6 333.6,326.7 334.3,321.9 334.7,317.0Z" fill="#cd0000"/>
<path d="M334.0,312.0 333.9,307.2 333.6,302.4 333.1,297.5 332.2,292.7 331.2,287.9 329.8,283.1 328.2,278.3 326.4,273.6 324.2,268.9 321.8,264.3 319.1,259.7 316.1,255.2 312.9,250.8 309.3,246.5 305.5,242.3 301.3,238.2 296.9,234.2 292.1,230.4 287.0,226.8 281.6,223.5 275.8,220.6 269.7,218.0 263.4,216.0 256.8,214.5 250.0,213.7 243.2,213.6 236.5,214.3 229.8,215.8 223.4,218.0 217.4,221.0 211.7,224.6 206.6,228.8 202.0,233.6 198.0,238.7 194.5,244.1 191.6,249.7 189.2,255.3 187.2,260.9 185.5,266.5 184.2,271.9 183.0,277.2 182.1,282.4 181.3,287.5 180.6,292.5 180.1,297.4 179.7,302.3 179.4,307.2 179.3,312.0 179.4,316.9 179.7,321.8 180.1,326.6 180.8,331.5 181.7,336.4 182.7,341.4 184.0,346.4 185.5,351.4 187.2,356.6 189.1,361.7 191.3,367.0 193.9,372.2 196.8,377.5 200.2,382.6 204.0,387.6 208.3,392.4 213.1,396.8 218.4,400.8 224.1,404.1 230.2,406.9 236.7,408.8 243.3,410.0 250.0,410.5 256.8,410.1 263.4,408.9 269.8,407.0 276.0,404.5 281.8,401.5 287.3,398.0 292.3,394.2 297.0,390.2 301.3,385.9 305.3,381.6 309.0,377.2 312.4,372.7 315.5,368.2 318.3,363.7 321.0,359.2 323.4,354.6 325.5,350.0 327.5,345.4 329.1,340.7 330.6,336.0 331.8,331.3 332.7,326.5 333.4,321.7 333.8,316.9Z" fill="#d50000"/>
<path d="M333.1,312.0 333.1,307.2 332.8,302.5 332.2,297.7 331.4,292.9 330.3,288.2 329.0,283.5 327.5,278.8 325.6,274.1 323.5,269.5 321.1,264.9 318.4,260.4 315.5,256.0 312.3,251.7 308.8,247.4 305.0,243.2 300.9,239.2 296.5,235.3 291.8,231.5 286.8,228.0 281.4,224.8 275.7,221.8 269.7,219.3 263.5,217.3 257.0,215.9 250.3,215.1 243.6,215.0 237.0,215.7 230.4,217.1 224.1,219.3 218.1,222.2 212.6,225.8 207.5,230.0 203.0,234.7 199.0,239.7 195.6,245.0 192.7,250.5 190.3,256.1 188.3,261.6 186.7,267.1 185.4,272.4 184.3,277.7 183.3,282.8 182.5,287.8 181.9,292.8 181.4,297.6 181.0,302.4 180.7,307.2 180.6,312.0 180.7,316.8 180.9,321.6 181.4,326.4 182.1,331.2 182.9,336.1 184.0,340.9 185.2,345.9 186.7,350.8 188.3,355.9 190.3,361.0 192.5,366.1 195.0,371.3 197.9,376.5 201.2,381.6 204.9,386.5 209.2,391.2 213.9,395.5 219.1,399.4 224.8,402.8 230.8,405.4 237.1,407.4 243.7,408.6 250.3,409.0 257.0,408.6 263.5,407.5 269.9,405.6 275.9,403.2 281.7,400.2 287.1,396.8 292.1,393.0 296.7,389.0 300.9,384.8 304.9,380.6 308.5,376.2 311.8,371.8 314.9,367.4 317.7,362.9 320.3,358.5 322.6,354.0 324.8,349.4 326.7,344.9 328.3,340.3 329.8,335.6 330.9,331.0 331.9,326.3 332.5,321.5 333.0,316.8Z" fill="#de0000"/>
<path d="M332.3,312.0 332.2,307.3 331.9,302.6 331.3,297.9 330.5,293.2 329.5,288.5 328.2,283.8 326.7,279.2 324.8,274.6 322.8,270.1 320.4,265.6 317.8,261.1 314.9,256.8 311.7,252.5 308.3,248.3 304.5,244.2 300.5,240.2 296.2,236.4 291.5,232.7 286.6,229.2 281.3,226.0 275.7,223.1 269.8,220.7 263.6,218.7 257.2,217.3 250.6,216.5 244.0,216.4 237.4,217.1 231.0,218.5 224.8,220.6 218.9,223.5 213.4,227.1 208.4,231.2 203.9,235.8 200.0,240.8 196.7,246.0 193.8,251.4 191.5,256.9 189.5,262.3 187.9,267.7 186.6,273.0 185.5,278.2 184.6,283.2 183.8,288.1 183.2,293.0 182.6,297.8 182.2,302.5 182.0,307.3 181.9,312.0 182.0,316.7 182.2,321.4 182.7,326.1 183.3,330.9 184.2,335.7 185.2,340.5 186.4,345.3 187.9,350.2 189.5,355.2 191.4,360.2 193.6,365.3 196.1,370.4 198.9,375.5 202.2,380.5 205.9,385.4 210.1,390.0 214.7,394.3 219.9,398.1 225.4,401.4 231.4,404.1 237.6,406.0 244.1,407.2 250.6,407.5 257.2,407.2 263.6,406.0 269.9,404.2 275.9,401.8 281.5,398.9 286.8,395.5 291.8,391.8 296.3,387.9 300.5,383.7 304.4,379.5 307.9,375.2 311.2,370.9 314.2,366.5 317.0,362.2 319.6,357.8 321.9,353.3 324.0,348.9 325.9,344.4 327.5,339.8 328.9,335.3 330.1,330.7 331.0,326.0 331.7,321.3 332.1,316.7Z" fill="#e70000"/>
<path d="M331.4,311.9 331.3,307.3 331.0,302.7 330.5,298.0 329.7,293.4 328.7,288.8 327.4,284.2 325.9,279.7 324.1,275.1 322.0,270.6 319.7,266.2 317.1,261.9 314.3,257.6 311.1,253.4 307.7,249.2 304.0,245.2 300.1,241.2 295.8,237.5 291.2,233.8 286.3,230.4 281.1,227.2 275.6,224.4 269.8,222.0 263.7,220.0 257.4,218.6 250.9,217.8 244.4,217.8 237.9,218.4 231.6,219.8 225.4,221.9 219.6,224.8 214.2,228.3 209.3,232.3 204.9,236.9 201.1,241.8 197.7,246.9 194.9,252.2 192.6,257.6 190.7,263.0 189.1,268.3 187.8,273.5 186.7,278.6 185.8,283.6 185.0,288.5 184.4,293.2 183.9,298.0 183.5,302.6 183.3,307.3 183.2,311.9 183.2,316.6 183.5,321.2 183.9,325.9 184.6,330.6 185.4,335.3 186.4,340.0 187.6,344.8 189.0,349.7 190.7,354.5 192.5,359.5 194.7,364.5 197.1,369.5 199.9,374.5 203.2,379.5 206.8,384.3 210.9,388.8 215.5,393.1 220.6,396.8 226.1,400.1 231.9,402.7 238.1,404.6 244.5,405.7 250.9,406.1 257.4,405.7 263.7,404.6 269.9,402.8 275.8,400.4 281.4,397.5 286.6,394.2 291.5,390.6 296.0,386.7 300.1,382.7 303.9,378.5 307.4,374.3 310.6,370.0 313.6,365.7 316.4,361.4 318.9,357.0 321.2,352.7 323.3,348.3 325.1,343.9 326.7,339.4 328.1,334.9 329.3,330.3 330.2,325.8 330.8,321.2 331.2,316.6Z" fill="#ef0000"/>
<path d="M330.5,311.9 330.5,307.3 330.2,302.8 329.6,298.2 328.8,293.7 327.8,289.1 326.6,284.6 325.1,280.1 323.3,275.6 321.3,271.2 319.0,266.9 316.4,262.6 313.6,258.3 310.5,254.2 307.2,250.1 303.6,246.1 299.7,242.3 295.4,238.5 290.9,234.9 286.1,231.6 281.0,228.5 275.5,225.7 269.8,223.3 263.8,221.3 257.6,220.0 251.2,219.2 244.8,219.1 238.4,219.8 232.1,221.1 226.1,223.2 220.4,226.0 215.0,229.5 210.2,233.5 205.9,237.9 202.1,242.8 198.8,247.9 196.0,253.1 193.7,258.4 191.8,263.7 190.3,268.9 189.0,274.1 187.9,279.1 187.0,284.0 186.3,288.8 185.7,293.5 185.2,298.1 184.8,302.7 184.5,307.3 184.4,311.9 184.5,316.5 184.8,321.1 185.2,325.7 185.8,330.3 186.6,334.9 187.6,339.6 188.8,344.3 190.2,349.1 191.8,353.9 193.7,358.8 195.8,363.7 198.2,368.6 201.0,373.6 204.1,378.5 207.7,383.2 211.8,387.7 216.3,391.8 221.3,395.5 226.7,398.7 232.5,401.3 238.6,403.2 244.8,404.3 251.2,404.7 257.6,404.3 263.8,403.2 269.9,401.5 275.7,399.1 281.2,396.2 286.4,393.0 291.2,389.4 295.6,385.6 299.7,381.6 303.4,377.5 306.9,373.3 310.1,369.1 313.0,364.9 315.7,360.6 318.2,356.3 320.5,352.1 322.5,347.7 324.3,343.4 325.9,339.0 327.3,334.5 328.4,330.0 329.3,325.5 329.9,321.0 330.3,316.5Z" fill="#f80000"/>
<path d="M329.6,311.9 329.6,307.4 329.3,302.9 328.8,298.4 328.0,293.9 327.0,289.4 325.8,285.0 324.3,280.5 322.5,276.2 320.5,271.8 318.3,267.5 315.8,263.3 313.0,259.1 310.0,255.0 306.7,251.0 303.1,247.1 299.2,243.3 295.1,239.6 290.6,236.1 285.9,232.7 280.8,229.7 275.5,226.9 269.8,224.6 263.9,222.7 257.8,221.3 251.5,220.6 245.2,220.5 238.9,221.1 232.7,222.5 226.7,224.5 221.1,227.3 215.9,230.7 211.1,234.6 206.8,239.0 203.1,243.8 199.9,248.8 197.1,253.9 194.9,259.2 193.0,264.4 191.5,269.5 190.2,274.6 189.1,279.5 188.3,284.4 187.5,289.1 186.9,293.7 186.4,298.3 186.0,302.9 185.8,307.4 185.7,311.9 185.8,316.4 186.0,320.9 186.5,325.4 187.1,330.0 187.9,334.5 188.9,339.1 190.0,343.8 191.4,348.5 193.0,353.2 194.8,358.0 196.9,362.9 199.3,367.8 202.0,372.6 205.1,377.4 208.7,382.1 212.7,386.5 217.1,390.6 222.0,394.3 227.4,397.4 233.1,399.9 239.1,401.8 245.2,402.9 251.5,403.3 257.8,402.9 263.9,401.8 269.9,400.1 275.7,397.8 281.1,395.0 286.1,391.7 290.9,388.2 295.2,384.4 299.2,380.5 302.9,376.5 306.4,372.4 309.5,368.2 312.4,364.0 315.0,359.9 317.5,355.7 319.7,351.4 321.7,347.2 323.5,342.9 325.1,338.5 326.5,334.1 327.6,329.7 328.4,325.3 329.1,320.8 329.5,316.4Z" fill="#ff0200"/>
<path d="M328.8,311.8 328.7,307.4 328.4,303.0 327.9,298.6 327.1,294.1 326.2,289.7 324.9,285.3 323.5,281.0 321.8,276.7 319.8,272.4 317.6,268.1 315.1,264.0 312.4,259.9 309.4,255.8 306.1,251.9 302.6,248.0 298.8,244.3 294.7,240.6 290.3,237.2 285.7,233.9 280.7,230.9 275.4,228.2 269.8,225.8 264.0,224.0 258.0,222.6 251.8,221.9 245.6,221.8 239.3,222.5 233.3,223.8 227.4,225.8 221.8,228.5 216.7,231.9 212.0,235.8 207.8,240.1 204.1,244.8 200.9,249.7 198.2,254.8 196.0,259.9 194.1,265.1 192.6,270.1 191.4,275.1 190.4,280.0 189.5,284.8 188.8,289.4 188.2,294.0 187.7,298.5 187.3,303.0 187.1,307.4 187.0,311.8 187.0,316.3 187.3,320.7 187.7,325.2 188.3,329.7 189.1,334.2 190.1,338.7 191.2,343.3 192.6,347.9 194.2,352.6 195.9,357.3 198.0,362.1 200.3,366.9 203.0,371.7 206.1,376.4 209.6,381.0 213.5,385.3 217.9,389.4 222.8,393.0 228.0,396.1 233.6,398.6 239.5,400.4 245.6,401.5 251.8,401.8 258.0,401.5 264.0,400.4 269.9,398.7 275.6,396.4 280.9,393.7 285.9,390.5 290.6,387.0 294.9,383.3 298.8,379.4 302.5,375.5 305.8,371.4 308.9,367.3 311.8,363.2 314.4,359.1 316.8,355.0 319.0,350.8 321.0,346.6 322.7,342.4 324.3,338.1 325.6,333.8 326.7,329.4 327.6,325.1 328.2,320.7 328.6,316.3Z" fill="#ff0b00"/>
<path d="M327.9,311.8 327.8,307.4 327.5,303.1 327.0,298.7 326.3,294.4 325.3,290.0 324.1,285.7 322.7,281.4 321.0,277.2 319.0,272.9 316.9,268.8 314.4,264.7 311.7,260.6 308.8,256.7 305.6,252.8 302.1,249.0 298.4,245.3 294.3,241.7 290.0,238.3 285.4,235.1 280.5,232.1 275.3,229.4 269.8,227.1 264.1,225.3 258.1,224.0 252.1,223.3 245.9,223.2 239.8,223.8 233.8,225.1 228.0,227.1 222.6,229.8 217.5,233.1 212.9,236.9 208.7,241.1 205.1,245.8 202.0,250.6 199.3,255.6 197.1,260.7 195.3,265.8 193.8,270.8 192.6,275.7 191.6,280.5 190.7,285.1 190.0,289.7 189.4,294.2 188.9,298.7 188.6,303.1 188.3,307.4 188.2,311.8 188.3,316.2 188.5,320.6 189.0,325.0 189.6,329.4 190.3,333.8 191.3,338.3 192.4,342.8 193.8,347.3 195.3,351.9 197.1,356.6 199.1,361.3 201.4,366.0 204.0,370.7 207.1,375.4 210.5,379.9 214.4,384.2 218.7,388.2 223.5,391.7 228.7,394.8 234.2,397.2 240.0,399.0 246.0,400.1 252.1,400.4 258.1,400.1 264.1,399.0 269.9,397.4 275.5,395.1 280.8,392.4 285.7,389.3 290.3,385.8 294.5,382.2 298.4,378.4 302.0,374.5 305.3,370.5 308.3,366.5 311.1,362.4 313.7,358.3 316.1,354.3 318.3,350.2 320.2,346.0 322.0,341.9 323.5,337.7 324.8,333.4 325.9,329.1 326.7,324.8 327.3,320.5 327.7,316.2Z" fill="#ff1400"/>
<path d="M327.0,311.8 326.9,307.5 326.6,303.2 326.1,298.9 325.4,294.6 324.5,290.3 323.3,286.1 321.9,281.9 320.2,277.7 318.3,273.5 316.1,269.4 313.7,265.4 311.1,261.4 308.2,257.5 305.0,253.7 301.6,249.9 297.9,246.3 294.0,242.8 289.7,239.4 285.2,236.2 280.4,233.3 275.2,230.7 269.8,228.4 264.2,226.6 258.3,225.3 252.3,224.6 246.3,224.5 240.3,225.1 234.4,226.4 228.7,228.4 223.3,231.0 218.3,234.2 213.7,238.0 209.7,242.2 206.1,246.8 203.0,251.5 200.4,256.5 198.2,261.5 196.5,266.4 195.0,271.4 193.8,276.2 192.8,280.9 191.9,285.5 191.2,290.0 190.7,294.5 190.2,298.8 189.8,303.2 189.6,307.5 189.5,311.8 189.6,316.1 189.8,320.4 190.2,324.7 190.8,329.1 191.6,333.4 192.5,337.8 193.6,342.2 194.9,346.7 196.5,351.3 198.2,355.9 200.2,360.5 202.4,365.2 205.1,369.8 208.0,374.4 211.4,378.8 215.3,383.0 219.5,386.9 224.2,390.4 229.3,393.4 234.7,395.9 240.5,397.6 246.4,398.7 252.3,399.0 258.3,398.7 264.2,397.7 269.9,396.0 275.4,393.8 280.6,391.1 285.4,388.0 289.9,384.7 294.1,381.1 298.0,377.3 301.5,373.5 304.7,369.5 307.7,365.6 310.5,361.6 313.0,357.6 315.4,353.6 317.5,349.5 319.4,345.5 321.2,341.4 322.7,337.2 323.9,333.0 325.0,328.8 325.8,324.6 326.4,320.3 326.8,316.1Z" fill="#ff1d00"/>
<path d="M326.1,311.7 326.0,307.5 325.8,303.3 325.3,299.1 324.5,294.9 323.6,290.6 322.4,286.5 321.0,282.3 319.4,278.2 317.5,274.1 315.4,270.0 313.1,266.1 310.4,262.2 307.6,258.3 304.5,254.5 301.1,250.8 297.5,247.3 293.6,243.8 289.4,240.5 285.0,237.4 280.2,234.5 275.1,231.9 269.8,229.7 264.3,227.9 258.5,226.6 252.6,225.9 246.7,225.8 240.7,226.4 234.9,227.7 229.3,229.6 224.0,232.2 219.1,235.4 214.6,239.1 210.6,243.3 207.1,247.7 204.1,252.4 201.5,257.3 199.4,262.2 197.6,267.1 196.2,272.0 195.0,276.7 194.0,281.4 193.2,285.9 192.5,290.3 191.9,294.7 191.4,299.0 191.1,303.3 190.8,307.5 190.7,311.7 190.8,316.0 191.0,320.2 191.5,324.5 192.0,328.8 192.8,333.1 193.7,337.4 194.8,341.7 196.1,346.2 197.6,350.6 199.3,355.1 201.3,359.7 203.5,364.3 206.1,368.9 209.0,373.4 212.3,377.7 216.1,381.9 220.3,385.7 224.9,389.2 229.9,392.1 235.3,394.5 240.9,396.3 246.7,397.3 252.6,397.7 258.5,397.3 264.3,396.3 269.9,394.7 275.3,392.5 280.4,389.8 285.2,386.8 289.6,383.5 293.7,380.0 297.5,376.3 301.0,372.5 304.2,368.6 307.1,364.7 309.9,360.8 312.4,356.9 314.7,352.9 316.8,348.9 318.7,344.9 320.4,340.9 321.8,336.8 323.1,332.7 324.1,328.5 325.0,324.4 325.6,320.2 325.9,316.0Z" fill="#ff2700"/>
<path d="M325.2,311.7 325.1,307.6 324.9,303.4 324.4,299.2 323.7,295.1 322.8,290.9 321.6,286.8 320.2,282.7 318.6,278.7 316.8,274.6 314.7,270.7 312.4,266.8 309.8,262.9 307.0,259.1 303.9,255.4 300.6,251.8 297.1,248.2 293.2,244.8 289.1,241.6 284.7,238.5 280.0,235.7 275.1,233.1 269.8,230.9 264.4,229.2 258.7,227.9 252.9,227.2 247.0,227.2 241.2,227.7 235.5,229.0 230.0,230.9 224.8,233.5 219.9,236.6 215.5,240.2 211.5,244.3 208.1,248.7 205.1,253.3 202.6,258.1 200.5,263.0 198.7,267.8 197.3,272.6 196.2,277.2 195.2,281.8 194.4,286.3 193.7,290.6 193.1,294.9 192.7,299.2 192.3,303.4 192.1,307.5 192.0,311.7 192.1,315.9 192.3,320.1 192.7,324.3 193.3,328.5 194.0,332.7 194.9,336.9 196.0,341.2 197.3,345.6 198.8,350.0 200.4,354.4 202.3,358.9 204.6,363.4 207.1,367.9 210.0,372.4 213.3,376.7 217.0,380.8 221.1,384.5 225.6,387.9 230.6,390.8 235.8,393.2 241.4,394.9 247.1,395.9 252.9,396.3 258.7,395.9 264.4,394.9 269.9,393.3 275.2,391.2 280.3,388.6 285.0,385.6 289.3,382.3 293.4,378.9 297.1,375.2 300.5,371.5 303.7,367.7 306.6,363.8 309.2,360.0 311.7,356.1 314.0,352.2 316.0,348.3 317.9,344.4 319.6,340.4 321.0,336.4 322.3,332.3 323.3,328.2 324.1,324.1 324.7,320.0 325.0,315.9Z" fill="#ff3000"/>
<path d="M324.3,311.7 324.2,307.6 324.0,303.5 323.5,299.4 322.8,295.3 321.9,291.2 320.8,287.2 319.4,283.2 317.8,279.2 316.0,275.2 314.0,271.3 311.7,267.4 309.2,263.7 306.4,259.9 303.4,256.3 300.1,252.7 296.6,249.2 292.8,245.9 288.8,242.7 284.5,239.6 279.9,236.9 275.0,234.3 269.8,232.2 264.4,230.5 258.9,229.2 253.2,228.6 247.4,228.5 241.7,229.1 236.0,230.3 230.6,232.2 225.5,234.7 220.7,237.8 216.4,241.4 212.5,245.4 209.1,249.7 206.1,254.2 203.7,258.9 201.6,263.7 199.9,268.5 198.5,273.1 197.3,277.8 196.4,282.3 195.6,286.6 194.9,291.0 194.4,295.2 193.9,299.3 193.6,303.5 193.3,307.6 193.3,311.7 193.3,315.8 193.5,319.9 193.9,324.0 194.5,328.2 195.2,332.3 196.1,336.5 197.2,340.7 198.5,345.0 199.9,349.3 201.5,353.7 203.4,358.1 205.6,362.6 208.1,367.0 210.9,371.4 214.2,375.6 217.8,379.6 221.9,383.4 226.3,386.7 231.2,389.5 236.4,391.9 241.8,393.5 247.5,394.6 253.2,394.9 258.9,394.6 264.5,393.6 269.9,392.0 275.2,389.9 280.1,387.3 284.7,384.4 289.0,381.2 293.0,377.8 296.6,374.2 300.0,370.5 303.1,366.8 306.0,363.0 308.6,359.2 311.0,355.4 313.2,351.5 315.3,347.7 317.1,343.8 318.7,339.9 320.2,335.9 321.4,332.0 322.4,328.0 323.2,323.9 323.8,319.9 324.1,315.8Z" fill="#ff3900"/>
<path d="M323.4,311.7 323.3,307.6 323.1,303.6 322.6,299.6 321.9,295.6 321.0,291.6 319.9,287.6 318.6,283.6 317.0,279.7 315.3,275.8 313.2,271.9 311.0,268.1 308.5,264.4 305.8,260.7 302.8,257.1 299.6,253.6 296.2,250.2 292.5,246.9 288.5,243.8 284.2,240.8 279.7,238.0 274.9,235.6 269.8,233.5 264.5,231.8 259.0,230.5 253.4,229.9 247.8,229.8 242.1,230.4 236.6,231.6 231.3,233.4 226.2,235.9 221.5,238.9 217.2,242.5 213.4,246.4 210.1,250.7 207.2,255.1 204.7,259.8 202.7,264.5 201.0,269.1 199.7,273.7 198.5,278.3 197.6,282.7 196.8,287.0 196.1,291.3 195.6,295.4 195.1,299.5 194.8,303.6 194.6,307.6 194.5,311.7 194.6,315.7 194.8,319.7 195.2,323.8 195.7,327.9 196.4,332.0 197.3,336.1 198.4,340.2 199.6,344.4 201.0,348.7 202.7,353.0 204.5,357.4 206.6,361.7 209.1,366.1 211.9,370.4 215.1,374.5 218.7,378.5 222.7,382.2 227.1,385.5 231.8,388.3 236.9,390.5 242.3,392.2 247.8,393.2 253.4,393.5 259.0,393.2 264.6,392.2 269.9,390.7 275.1,388.6 279.9,386.1 284.5,383.2 288.7,380.0 292.6,376.7 296.2,373.1 299.5,369.5 302.6,365.8 305.4,362.1 308.0,358.4 310.3,354.6 312.5,350.9 314.5,347.1 316.3,343.3 317.9,339.4 319.4,335.5 320.6,331.6 321.5,327.7 322.3,323.7 322.9,319.7 323.3,315.7Z" fill="#ff4200"/>
<path d="M322.5,311.6 322.4,307.7 322.2,303.7 321.7,299.7 321.1,295.8 320.2,291.9 319.1,287.9 317.8,284.0 316.2,280.2 314.5,276.3 312.5,272.5 310.3,268.8 307.8,265.1 305.2,261.5 302.3,258.0 299.1,254.6 295.7,251.2 292.1,247.9 288.2,244.8 284.0,241.9 279.5,239.2 274.8,236.8 269.8,234.7 264.6,233.0 259.2,231.8 253.7,231.2 248.1,231.1 242.6,231.7 237.1,232.9 231.9,234.7 226.9,237.1 222.3,240.1 218.1,243.6 214.3,247.4 211.0,251.6 208.2,256.0 205.8,260.6 203.8,265.2 202.2,269.8 200.8,274.3 199.7,278.8 198.8,283.1 198.0,287.4 197.4,291.6 196.8,295.7 196.4,299.7 196.0,303.7 195.8,307.7 195.8,311.6 195.8,315.6 196.0,319.6 196.4,323.6 197.0,327.6 197.7,331.6 198.5,335.7 199.6,339.7 200.8,343.9 202.2,348.1 203.8,352.3 205.6,356.6 207.7,360.9 210.1,365.2 212.8,369.4 216.0,373.5 219.5,377.4 223.4,381.0 227.8,384.2 232.5,387.0 237.5,389.2 242.7,390.8 248.2,391.8 253.7,392.1 259.2,391.8 264.6,390.9 269.9,389.3 275.0,387.3 279.7,384.8 284.2,382.0 288.4,378.9 292.2,375.6 295.7,372.1 299.0,368.5 302.0,364.9 304.8,361.3 307.3,357.6 309.7,353.9 311.8,350.2 313.8,346.5 315.5,342.7 317.1,338.9 318.5,335.1 319.7,331.3 320.7,327.4 321.4,323.5 322.0,319.5 322.4,315.6Z" fill="#ff4b00"/>
<path d="M321.6,311.6 321.5,307.7 321.3,303.8 320.8,299.9 320.2,296.0 319.3,292.2 318.2,288.3 317.0,284.5 315.4,280.7 313.7,276.9 311.8,273.2 309.6,269.5 307.2,265.9 304.6,262.3 301.7,258.9 298.6,255.5 295.3,252.2 291.7,249.0 287.8,245.9 283.7,243.0 279.3,240.4 274.7,238.0 269.8,236.0 264.7,234.3 259.4,233.1 254.0,232.5 248.5,232.4 243.0,233.0 237.7,234.1 232.5,235.9 227.6,238.3 223.1,241.3 219.0,244.7 215.3,248.5 212.0,252.6 209.2,256.9 206.9,261.4 204.9,265.9 203.3,270.5 202.0,274.9 200.9,279.3 200.0,283.6 199.2,287.8 198.6,291.9 198.0,295.9 197.6,299.9 197.3,303.8 197.1,307.7 197.0,311.6 197.1,315.5 197.3,319.4 197.6,323.3 198.2,327.3 198.9,331.2 199.7,335.2 200.8,339.2 201.9,343.3 203.3,347.4 204.9,351.6 206.7,355.8 208.7,360.0 211.1,364.2 213.8,368.4 216.9,372.4 220.3,376.3 224.2,379.8 228.5,383.0 233.1,385.7 238.0,387.9 243.2,389.5 248.5,390.5 254.0,390.8 259.4,390.5 264.7,389.5 269.9,388.0 274.9,386.0 279.6,383.6 283.9,380.8 288.0,377.7 291.8,374.5 295.3,371.1 298.5,367.6 301.4,364.0 304.2,360.4 306.7,356.8 309.0,353.2 311.1,349.5 313.0,345.9 314.8,342.2 316.3,338.4 317.7,334.7 318.8,330.9 319.8,327.1 320.6,323.2 321.1,319.4 321.4,315.5Z" fill="#ff5400"/>
<path d="M320.7,311.6 320.6,307.7 320.4,303.9 319.9,300.1 319.3,296.3 318.4,292.5 317.4,288.7 316.1,284.9 314.6,281.1 312.9,277.4 311.0,273.8 308.9,270.2 306.5,266.6 303.9,263.1 301.1,259.7 298.1,256.4 294.8,253.1 291.3,250.0 287.5,247.0 283.5,244.2 279.2,241.6 274.6,239.2 269.8,237.2 264.8,235.6 259.5,234.4 254.2,233.8 248.8,233.7 243.5,234.3 238.2,235.4 233.1,237.2 228.3,239.5 223.9,242.4 219.8,245.8 216.2,249.5 213.0,253.6 210.3,257.8 208.0,262.2 206.0,266.7 204.4,271.1 203.1,275.5 202.1,279.8 201.2,284.0 200.4,288.1 199.8,292.2 199.3,296.1 198.8,300.0 198.5,303.9 198.3,307.7 198.2,311.6 198.3,315.4 198.5,319.3 198.9,323.1 199.4,327.0 200.1,330.9 200.9,334.8 201.9,338.8 203.1,342.8 204.4,346.8 206.0,350.9 207.7,355.0 209.8,359.2 212.1,363.3 214.7,367.4 217.8,371.4 221.2,375.1 225.0,378.6 229.2,381.7 233.7,384.4 238.5,386.6 243.6,388.2 248.9,389.1 254.2,389.4 259.5,389.1 264.8,388.2 269.9,386.7 274.8,384.7 279.4,382.3 283.7,379.6 287.7,376.6 291.4,373.4 294.8,370.0 298.0,366.6 300.9,363.1 303.5,359.6 306.0,356.0 308.3,352.5 310.4,348.9 312.3,345.3 314.0,341.6 315.5,338.0 316.8,334.3 318.0,330.5 318.9,326.8 319.7,323.0 320.2,319.2 320.5,315.4Z" fill="#ff5e00"/>
<path d="M319.8,311.5 319.7,307.8 319.5,304.0 319.0,300.3 318.4,296.5 317.6,292.8 316.5,289.0 315.3,285.3 313.8,281.6 312.2,278.0 310.3,274.4 308.2,270.9 305.9,267.4 303.3,263.9 300.6,260.6 297.6,257.3 294.4,254.1 290.9,251.0 287.2,248.1 283.2,245.3 279.0,242.7 274.5,240.4 269.8,238.4 264.8,236.9 259.7,235.7 254.5,235.1 249.2,235.0 243.9,235.6 238.7,236.7 233.8,238.4 229.1,240.7 224.7,243.6 220.7,246.9 217.1,250.6 214.0,254.5 211.3,258.7 209.0,263.0 207.1,267.4 205.6,271.8 204.3,276.1 203.2,280.3 202.3,284.5 201.6,288.5 201.0,292.5 200.5,296.4 200.1,300.2 199.8,304.0 199.6,307.8 199.5,311.5 199.5,315.3 199.7,319.1 200.1,322.9 200.6,326.7 201.3,330.5 202.1,334.4 203.1,338.3 204.2,342.2 205.6,346.2 207.1,350.2 208.8,354.3 210.8,358.3 213.1,362.4 215.7,366.4 218.7,370.3 222.0,374.0 225.7,377.5 229.9,380.5 234.3,383.2 239.1,385.3 244.1,386.8 249.2,387.8 254.5,388.1 259.7,387.8 264.9,386.9 269.9,385.4 274.7,383.5 279.2,381.1 283.4,378.4 287.4,375.5 291.0,372.3 294.4,369.0 297.5,365.6 300.3,362.2 302.9,358.7 305.4,355.2 307.6,351.7 309.6,348.2 311.5,344.7 313.2,341.1 314.7,337.5 316.0,333.9 317.1,330.2 318.0,326.5 318.8,322.8 319.3,319.1 319.6,315.3Z" fill="#ff6700"/>
<path d="M318.9,311.5 318.8,307.8 318.6,304.1 318.1,300.4 317.5,296.7 316.7,293.1 315.7,289.4 314.5,285.7 313.0,282.1 311.4,278.6 309.5,275.0 307.5,271.5 305.2,268.1 302.7,264.7 300.0,261.4 297.1,258.2 293.9,255.1 290.5,252.1 286.9,249.2 282.9,246.4 278.8,243.9 274.4,241.6 269.7,239.7 264.9,238.1 259.9,237.0 254.7,236.4 249.5,236.3 244.4,236.9 239.3,238.0 234.4,239.7 229.8,241.9 225.5,244.7 221.5,248.0 218.0,251.6 215.0,255.5 212.3,259.6 210.1,263.9 208.2,268.2 206.7,272.5 205.4,276.7 204.4,280.9 203.5,284.9 202.8,288.9 202.2,292.8 201.7,296.6 201.3,300.4 201.0,304.1 200.8,307.8 200.7,311.5 200.8,315.2 201.0,318.9 201.3,322.7 201.8,326.4 202.5,330.2 203.3,334.0 204.3,337.8 205.4,341.6 206.7,345.5 208.2,349.5 209.9,353.5 211.8,357.5 214.1,361.5 216.6,365.5 219.6,369.3 222.8,372.9 226.5,376.3 230.5,379.3 234.9,381.9 239.6,384.0 244.5,385.5 249.6,386.4 254.7,386.7 259.9,386.4 264.9,385.5 269.8,384.1 274.5,382.2 279.0,379.9 283.2,377.2 287.0,374.3 290.6,371.2 293.9,368.0 297.0,364.7 299.7,361.3 302.3,357.9 304.7,354.4 306.9,351.0 308.9,347.5 310.7,344.1 312.4,340.5 313.9,337.0 315.1,333.4 316.3,329.8 317.2,326.2 317.9,322.6 318.4,318.9 318.7,315.2Z" fill="#ff7000"/>
<path d="M317.9,311.5 317.9,307.9 317.7,304.2 317.2,300.6 316.6,297.0 315.8,293.4 314.8,289.8 313.6,286.2 312.2,282.6 310.6,279.1 308.8,275.6 306.8,272.2 304.5,268.9 302.1,265.5 299.4,262.3 296.5,259.1 293.4,256.1 290.1,253.1 286.5,250.2 282.7,247.5 278.6,245.1 274.3,242.8 269.7,240.9 265.0,239.4 260.0,238.3 255.0,237.7 249.9,237.6 244.8,238.1 239.8,239.2 235.0,240.9 230.5,243.1 226.2,245.9 222.4,249.1 219.0,252.6 215.9,256.5 213.3,260.5 211.2,264.7 209.3,268.9 207.8,273.1 206.6,277.3 205.6,281.4 204.7,285.4 204.0,289.3 203.4,293.1 202.9,296.8 202.5,300.5 202.2,304.2 202.0,307.9 201.9,311.5 202.0,315.1 202.2,318.8 202.5,322.4 203.0,326.1 203.7,329.8 204.5,333.5 205.4,337.3 206.5,341.1 207.8,344.9 209.3,348.8 210.9,352.7 212.9,356.7 215.1,360.6 217.6,364.5 220.4,368.2 223.7,371.8 227.3,375.1 231.2,378.1 235.5,380.6 240.1,382.7 244.9,384.2 249.9,385.1 255.0,385.4 260.0,385.1 265.0,384.2 269.8,382.8 274.4,380.9 278.8,378.6 282.9,376.0 286.7,373.2 290.2,370.1 293.5,367.0 296.4,363.7 299.2,360.4 301.7,357.0 304.0,353.7 306.2,350.3 308.2,346.9 310.0,343.5 311.6,340.0 313.0,336.5 314.3,333.0 315.4,329.5 316.3,325.9 317.0,322.3 317.5,318.7 317.8,315.1Z" fill="#ff7900"/>
<path d="M317.0,311.5 317.0,307.9 316.7,304.3 316.3,300.8 315.7,297.2 314.9,293.7 314.0,290.1 312.8,286.6 311.4,283.1 309.8,279.7 308.0,276.3 306.1,272.9 303.9,269.6 301.5,266.3 298.9,263.2 296.0,260.0 293.0,257.0 289.7,254.1 286.2,251.3 282.4,248.7 278.4,246.2 274.2,244.0 269.7,242.2 265.0,240.7 260.2,239.6 255.2,239.0 250.2,238.9 245.2,239.4 240.3,240.5 235.6,242.2 231.2,244.3 227.0,247.0 223.2,250.2 219.9,253.6 216.9,257.4 214.4,261.4 212.2,265.5 210.4,269.6 208.9,273.8 207.7,277.9 206.7,281.9 205.9,285.8 205.2,289.6 204.6,293.4 204.1,297.1 203.7,300.7 203.4,304.3 203.2,307.9 203.2,311.5 203.2,315.0 203.4,318.6 203.8,322.2 204.2,325.8 204.9,329.5 205.7,333.1 206.6,336.8 207.7,340.5 208.9,344.3 210.4,348.1 212.0,352.0 213.9,355.8 216.1,359.7 218.5,363.5 221.3,367.2 224.5,370.7 228.0,374.0 231.9,376.9 236.1,379.4 240.6,381.4 245.4,382.8 250.3,383.7 255.2,384.0 260.2,383.7 265.1,382.9 269.8,381.5 274.3,379.6 278.6,377.4 282.6,374.9 286.4,372.1 289.8,369.1 293.0,365.9 295.9,362.7 298.6,359.5 301.1,356.2 303.4,352.9 305.5,349.6 307.4,346.2 309.2,342.9 310.8,339.5 312.2,336.1 313.4,332.6 314.5,329.1 315.4,325.7 316.1,322.1 316.6,318.6 316.9,315.0Z" fill="#ff8200"/>
<path d="M316.1,311.4 316.1,307.9 315.8,304.4 315.4,300.9 314.8,297.4 314.1,294.0 313.1,290.5 311.9,287.0 310.6,283.6 309.0,280.2 307.3,276.9 305.3,273.6 303.2,270.3 300.8,267.1 298.3,264.0 295.5,261.0 292.5,258.0 289.3,255.1 285.8,252.4 282.2,249.8 278.2,247.4 274.1,245.2 269.7,243.4 265.1,241.9 260.3,240.9 255.5,240.3 250.6,240.2 245.7,240.7 240.9,241.8 236.2,243.4 231.9,245.5 227.8,248.2 224.1,251.2 220.8,254.7 217.9,258.4 215.4,262.3 213.3,266.3 211.5,270.4 210.1,274.4 208.9,278.5 207.9,282.4 207.1,286.3 206.4,290.0 205.8,293.7 205.3,297.3 204.9,300.9 204.7,304.4 204.5,307.9 204.4,311.4 204.4,315.0 204.6,318.5 205.0,322.0 205.5,325.5 206.1,329.1 206.8,332.7 207.8,336.3 208.8,340.0 210.1,343.7 211.5,347.4 213.1,351.2 214.9,355.0 217.0,358.8 219.5,362.5 222.2,366.2 225.3,369.6 228.8,372.8 232.6,375.6 236.7,378.1 241.2,380.1 245.8,381.5 250.6,382.4 255.5,382.7 260.3,382.4 265.1,381.5 269.8,380.2 274.2,378.4 278.4,376.2 282.4,373.7 286.0,370.9 289.4,368.0 292.5,364.9 295.4,361.8 298.0,358.6 300.5,355.3 302.7,352.1 304.8,348.8 306.7,345.6 308.4,342.3 310.0,338.9 311.4,335.6 312.6,332.2 313.6,328.8 314.5,325.4 315.2,321.9 315.7,318.4 316.0,314.9Z" fill="#ff8b00"/>
<path d="M315.2,311.4 315.1,308.0 314.9,304.5 314.5,301.1 313.9,297.7 313.2,294.3 312.2,290.8 311.1,287.5 309.8,284.1 308.3,280.8 306.5,277.5 304.6,274.3 302.5,271.1 300.2,267.9 297.7,264.9 295.0,261.9 292.0,259.0 288.9,256.1 285.5,253.4 281.9,250.9 278.0,248.6 273.9,246.5 269.6,244.6 265.1,243.2 260.5,242.2 255.7,241.6 250.9,241.5 246.1,242.0 241.4,243.0 236.9,244.6 232.6,246.7 228.6,249.3 224.9,252.3 221.7,255.7 218.8,259.3 216.4,263.2 214.3,267.1 212.6,271.1 211.2,275.1 210.0,279.0 209.0,282.9 208.2,286.7 207.6,290.4 207.0,294.0 206.5,297.5 206.2,301.1 205.9,304.5 205.7,308.0 205.6,311.4 205.7,314.9 205.9,318.3 206.2,321.8 206.7,325.3 207.3,328.8 208.0,332.3 208.9,335.8 210.0,339.4 211.2,343.0 212.5,346.7 214.1,350.4 215.9,354.2 218.0,357.9 220.4,361.6 223.1,365.1 226.1,368.5 229.5,371.6 233.3,374.4 237.3,376.8 241.7,378.8 246.2,380.2 250.9,381.0 255.7,381.3 260.5,381.0 265.2,380.2 269.7,378.9 274.1,377.1 278.2,375.0 282.1,372.5 285.7,369.8 289.0,366.9 292.0,363.9 294.9,360.8 297.5,357.7 299.8,354.5 302.0,351.3 304.1,348.1 305.9,344.9 307.6,341.7 309.2,338.4 310.5,335.1 311.7,331.8 312.8,328.5 313.6,325.1 314.3,321.7 314.7,318.3 315.1,314.9Z" fill="#ff9500"/>
<path d="M314.3,311.4 314.2,308.0 314.0,304.6 313.6,301.3 313.0,297.9 312.3,294.6 311.4,291.2 310.2,287.9 309.0,284.6 307.5,281.3 305.8,278.1 303.9,274.9 301.8,271.8 299.6,268.7 297.1,265.7 294.4,262.8 291.6,259.9 288.5,257.2 285.1,254.5 281.6,252.0 277.8,249.7 273.8,247.7 269.6,245.9 265.2,244.5 260.6,243.4 255.9,242.9 251.2,242.8 246.5,243.3 241.9,244.3 237.5,245.9 233.3,247.9 229.3,250.5 225.8,253.4 222.6,256.7 219.8,260.3 217.4,264.1 215.4,267.9 213.7,271.9 212.3,275.8 211.1,279.6 210.2,283.4 209.4,287.1 208.8,290.8 208.2,294.3 207.7,297.8 207.4,301.2 207.1,304.6 206.9,308.0 206.8,311.4 206.9,314.8 207.1,318.2 207.4,321.6 207.9,325.0 208.5,328.4 209.2,331.9 210.1,335.3 211.1,338.9 212.3,342.4 213.6,346.0 215.2,349.7 217.0,353.3 219.0,357.0 221.3,360.6 224.0,364.1 227.0,367.4 230.3,370.5 234.0,373.2 237.9,375.6 242.2,377.5 246.7,378.9 251.3,379.7 255.9,380.0 260.6,379.7 265.2,378.9 269.7,377.6 274.0,375.8 278.0,373.7 281.8,371.3 285.3,368.7 288.6,365.8 291.6,362.9 294.3,359.9 296.9,356.8 299.2,353.7 301.4,350.5 303.4,347.4 305.2,344.2 306.9,341.1 308.4,337.9 309.7,334.6 310.9,331.4 311.9,328.1 312.7,324.8 313.4,321.5 313.8,318.1 314.1,314.8Z" fill="#ff9e00"/>
<path d="M313.3,311.4 313.3,308.1 313.1,304.8 312.7,301.4 312.1,298.1 311.4,294.9 310.5,291.6 309.4,288.3 308.1,285.1 306.7,281.9 305.0,278.7 303.2,275.6 301.2,272.5 298.9,269.5 296.5,266.6 293.9,263.7 291.1,260.9 288.1,258.2 284.8,255.6 281.3,253.1 277.6,250.9 273.7,248.9 269.6,247.1 265.2,245.7 260.8,244.7 256.2,244.2 251.6,244.1 246.9,244.6 242.4,245.6 238.1,247.1 233.9,249.1 230.1,251.6 226.6,254.5 223.5,257.8 220.8,261.3 218.4,264.9 216.4,268.7 214.8,272.6 213.4,276.4 212.3,280.2 211.3,283.9 210.6,287.6 209.9,291.1 209.4,294.6 208.9,298.0 208.6,301.4 208.3,304.7 208.1,308.1 208.1,311.4 208.1,314.7 208.3,318.0 208.6,321.3 209.1,324.7 209.6,328.1 210.4,331.4 211.2,334.9 212.2,338.3 213.4,341.8 214.7,345.3 216.2,348.9 218.0,352.5 220.0,356.1 222.3,359.6 224.8,363.0 227.8,366.3 231.0,369.3 234.6,372.0 238.5,374.3 242.7,376.2 247.1,377.5 251.6,378.4 256.2,378.6 260.8,378.4 265.3,377.6 269.7,376.3 273.8,374.6 277.8,372.5 281.5,370.1 285.0,367.5 288.2,364.8 291.1,361.9 293.8,358.9 296.3,355.9 298.6,352.8 300.7,349.8 302.7,346.7 304.4,343.6 306.1,340.5 307.5,337.3 308.9,334.2 310.0,331.0 311.0,327.8 311.8,324.5 312.4,321.3 312.9,318.0 313.2,314.7Z" fill="#ffa700"/>
<path d="M312.4,311.4 312.3,308.1 312.1,304.9 311.8,301.6 311.2,298.4 310.5,295.2 309.6,291.9 308.5,288.7 307.3,285.6 305.9,282.4 304.3,279.3 302.5,276.3 300.5,273.3 298.3,270.3 295.9,267.4 293.4,264.6 290.6,261.9 287.6,259.2 284.4,256.7 281.0,254.3 277.4,252.0 273.6,250.1 269.5,248.4 265.3,247.0 260.9,246.0 256.4,245.5 251.9,245.4 247.4,245.9 242.9,246.8 238.7,248.3 234.6,250.3 230.9,252.8 227.5,255.6 224.4,258.8 221.7,262.2 219.4,265.8 217.5,269.6 215.8,273.3 214.5,277.1 213.4,280.8 212.5,284.5 211.7,288.0 211.1,291.5 210.6,294.9 210.1,298.3 209.8,301.6 209.5,304.8 209.3,308.1 209.3,311.4 209.3,314.6 209.5,317.9 209.8,321.1 210.2,324.4 210.8,327.7 211.5,331.0 212.4,334.4 213.4,337.8 214.5,341.2 215.8,344.6 217.3,348.2 219.0,351.7 220.9,355.2 223.2,358.6 225.7,362.0 228.6,365.2 231.8,368.1 235.3,370.8 239.1,373.1 243.2,374.9 247.5,376.2 251.9,377.0 256.4,377.3 260.9,377.0 265.3,376.2 269.6,375.0 273.7,373.3 277.6,371.3 281.2,369.0 284.6,366.4 287.7,363.7 290.6,360.9 293.3,357.9 295.7,355.0 298.0,352.0 300.0,349.0 301.9,346.0 303.7,342.9 305.3,339.9 306.7,336.8 308.0,333.7 309.1,330.6 310.1,327.4 310.9,324.2 311.5,321.0 312.0,317.8 312.3,314.6Z" fill="#ffb000"/>
<path d="M311.4,311.3 311.4,308.1 311.2,305.0 310.8,301.8 310.3,298.6 309.6,295.5 308.7,292.3 307.7,289.2 306.5,286.1 305.1,283.0 303.5,280.0 301.7,277.0 299.8,274.0 297.6,271.1 295.3,268.3 292.8,265.5 290.1,262.8 287.2,260.2 284.1,257.7 280.8,255.4 277.2,253.2 273.4,251.3 269.5,249.6 265.3,248.3 261.0,247.3 256.6,246.8 252.2,246.7 247.8,247.2 243.4,248.1 239.3,249.6 235.3,251.5 231.6,253.9 228.3,256.7 225.3,259.8 222.7,263.2 220.4,266.7 218.5,270.4 216.9,274.1 215.6,277.8 214.5,281.4 213.6,285.0 212.9,288.5 212.3,291.9 211.8,295.2 211.3,298.5 211.0,301.7 210.7,304.9 210.5,308.1 210.5,311.3 210.5,314.5 210.7,317.7 211.0,320.9 211.4,324.1 212.0,327.4 212.7,330.6 213.5,333.9 214.5,337.2 215.6,340.6 216.9,344.0 218.3,347.4 220.0,350.8 221.9,354.3 224.1,357.7 226.6,361.0 229.4,364.1 232.5,367.0 236.0,369.6 239.7,371.8 243.7,373.6 247.9,374.9 252.2,375.7 256.6,375.9 261.0,375.7 265.4,374.9 269.6,373.7 273.6,372.1 277.4,370.1 280.9,367.8 284.3,365.3 287.3,362.6 290.1,359.9 292.7,357.0 295.1,354.1 297.3,351.2 299.3,348.2 301.2,345.3 302.9,342.3 304.5,339.3 305.9,336.3 307.2,333.2 308.3,330.2 309.2,327.1 310.0,324.0 310.6,320.8 311.1,317.7 311.3,314.5Z" fill="#ffb900"/>
<path d="M310.5,311.3 310.5,308.2 310.3,305.1 309.9,302.0 309.4,298.9 308.7,295.8 307.8,292.7 306.8,289.6 305.6,286.6 304.3,283.6 302.7,280.6 301.0,277.6 299.1,274.8 297.0,271.9 294.7,269.2 292.3,266.4 289.6,263.8 286.8,261.2 283.7,258.8 280.5,256.5 277.0,254.4 273.3,252.5 269.4,250.8 265.4,249.5 261.2,248.6 256.9,248.1 252.5,248.0 248.2,248.4 244.0,249.4 239.9,250.8 236.0,252.7 232.4,255.1 229.1,257.8 226.2,260.8 223.6,264.1 221.4,267.6 219.5,271.2 218.0,274.8 216.7,278.4 215.6,282.0 214.8,285.5 214.1,288.9 213.4,292.3 212.9,295.5 212.5,298.7 212.2,301.9 211.9,305.1 211.8,308.2 211.7,311.3 211.7,314.4 211.9,317.6 212.2,320.7 212.6,323.8 213.2,327.0 213.9,330.2 214.7,333.4 215.6,336.7 216.7,339.9 217.9,343.3 219.4,346.6 221.0,350.0 222.9,353.4 225.0,356.7 227.5,359.9 230.2,363.0 233.3,365.8 236.6,368.4 240.3,370.5 244.2,372.3 248.3,373.6 252.6,374.3 256.9,374.6 261.2,374.3 265.4,373.6 269.5,372.4 273.4,370.8 277.2,368.8 280.7,366.6 283.9,364.2 286.9,361.6 289.6,358.8 292.2,356.0 294.5,353.2 296.7,350.3 298.7,347.4 300.5,344.5 302.2,341.6 303.7,338.7 305.1,335.7 306.3,332.8 307.4,329.8 308.3,326.7 309.1,323.7 309.7,320.6 310.1,317.5 310.4,314.4Z" fill="#ffc200"/>
<path d="M309.6,311.3 309.5,308.2 309.3,305.2 309.0,302.1 308.5,299.1 307.8,296.1 307.0,293.0 306.0,290.0 304.8,287.1 303.5,284.1 301.9,281.2 300.3,278.3 298.4,275.5 296.4,272.7 294.1,270.0 291.7,267.3 289.1,264.8 286.4,262.3 283.4,259.9 280.2,257.6 276.8,255.5 273.2,253.7 269.4,252.1 265.4,250.8 261.3,249.9 257.1,249.4 252.8,249.3 248.6,249.7 244.5,250.7 240.5,252.1 236.7,253.9 233.1,256.2 229.9,258.9 227.1,261.9 224.6,265.1 222.4,268.5 220.6,272.0 219.0,275.5 217.8,279.1 216.8,282.6 215.9,286.0 215.2,289.4 214.6,292.6 214.1,295.8 213.7,299.0 213.4,302.1 213.1,305.2 213.0,308.2 212.9,311.3 212.9,314.3 213.1,317.4 213.4,320.5 213.8,323.6 214.4,326.7 215.0,329.8 215.8,332.9 216.7,336.1 217.8,339.3 219.0,342.6 220.4,345.9 222.0,349.2 223.8,352.5 225.9,355.7 228.3,358.9 231.0,361.9 234.0,364.7 237.3,367.2 240.9,369.3 244.7,371.0 248.7,372.2 252.9,373.0 257.1,373.3 261.3,373.0 265.4,372.3 269.5,371.1 273.3,369.5 277.0,367.6 280.4,365.4 283.5,363.0 286.5,360.5 289.2,357.8 291.6,355.1 293.9,352.3 296.0,349.5 298.0,346.7 299.8,343.8 301.4,341.0 302.9,338.1 304.3,335.2 305.5,332.3 306.5,329.4 307.4,326.4 308.2,323.4 308.8,320.4 309.2,317.4 309.5,314.3Z" fill="#ffcc00"/>
<path d="M308.6,311.3 308.6,308.3 308.4,305.3 308.0,302.3 307.5,299.3 306.9,296.4 306.1,293.4 305.1,290.5 304.0,287.6 302.6,284.7 301.2,281.8 299.5,279.0 297.7,276.2 295.7,273.5 293.5,270.9 291.2,268.3 288.7,265.7 285.9,263.3 283.0,260.9 279.9,258.7 276.6,256.7 273.0,254.9 269.3,253.3 265.4,252.1 261.4,251.2 257.3,250.7 253.2,250.6 249.0,251.0 245.0,251.9 241.0,253.3 237.3,255.1 233.9,257.4 230.8,260.0 228.0,262.9 225.5,266.1 223.4,269.4 221.6,272.8 220.1,276.3 218.9,279.7 217.9,283.2 217.0,286.5 216.4,289.8 215.8,293.0 215.3,296.1 214.9,299.2 214.6,302.3 214.3,305.3 214.2,308.3 214.1,311.3 214.1,314.3 214.3,317.3 214.6,320.3 215.0,323.3 215.5,326.3 216.2,329.4 216.9,332.4 217.8,335.6 218.9,338.7 220.1,341.9 221.4,345.1 223.0,348.4 224.8,351.6 226.8,354.8 229.2,357.9 231.8,360.8 234.7,363.5 238.0,365.9 241.5,368.0 245.2,369.7 249.1,370.9 253.2,371.7 257.3,371.9 261.4,371.7 265.5,371.0 269.4,369.8 273.2,368.3 276.7,366.4 280.1,364.3 283.2,361.9 286.0,359.4 288.7,356.8 291.1,354.1 293.3,351.4 295.4,348.7 297.3,345.9 299.0,343.1 300.6,340.3 302.1,337.5 303.4,334.7 304.6,331.8 305.7,328.9 306.5,326.0 307.3,323.1 307.8,320.2 308.3,317.2 308.5,314.2Z" fill="#ffd500"/>
<path d="M307.7,311.2 307.6,308.3 307.4,305.4 307.1,302.5 306.6,299.6 306.0,296.7 305.2,293.8 304.2,290.9 303.1,288.1 301.8,285.2 300.4,282.4 298.8,279.7 297.0,277.0 295.0,274.3 292.9,271.7 290.6,269.2 288.2,266.7 285.5,264.3 282.6,262.0 279.6,259.9 276.3,257.9 272.9,256.1 269.3,254.6 265.5,253.3 261.6,252.4 257.5,252.0 253.5,251.9 249.4,252.3 245.5,253.2 241.6,254.5 238.0,256.3 234.7,258.5 231.6,261.1 228.8,263.9 226.4,267.0 224.4,270.3 222.6,273.6 221.2,277.0 220.0,280.4 219.0,283.8 218.2,287.0 217.5,290.3 216.9,293.4 216.5,296.5 216.1,299.5 215.8,302.4 215.5,305.4 215.4,308.3 215.3,311.2 215.3,314.2 215.5,317.1 215.8,320.0 216.2,323.0 216.7,326.0 217.3,328.9 218.1,332.0 219.0,335.0 220.0,338.1 221.1,341.2 222.5,344.4 224.0,347.5 225.8,350.7 227.8,353.8 230.0,356.8 232.6,359.7 235.5,362.3 238.6,364.7 242.0,366.8 245.7,368.4 249.5,369.6 253.5,370.3 257.5,370.6 261.6,370.3 265.5,369.6 269.4,368.5 273.0,367.0 276.5,365.2 279.8,363.1 282.8,360.8 285.6,358.4 288.2,355.8 290.5,353.2 292.7,350.5 294.7,347.8 296.6,345.1 298.3,342.4 299.9,339.7 301.3,336.9 302.6,334.1 303.8,331.4 304.8,328.5 305.6,325.7 306.3,322.8 306.9,320.0 307.3,317.1 307.6,314.2Z" fill="#ffde00"/>
<path d="M306.7,311.2 306.7,308.4 306.5,305.5 306.2,302.7 305.7,299.8 305.1,297.0 304.3,294.1 303.4,291.3 302.3,288.5 301.0,285.8 299.6,283.1 298.0,280.4 296.3,277.7 294.4,275.1 292.3,272.6 290.1,270.1 287.7,267.7 285.1,265.3 282.3,263.1 279.3,261.0 276.1,259.0 272.8,257.3 269.2,255.8 265.5,254.6 261.7,253.7 257.7,253.3 253.8,253.2 249.8,253.6 246.0,254.5 242.2,255.8 238.7,257.5 235.4,259.7 232.4,262.2 229.7,265.0 227.4,268.0 225.4,271.2 223.7,274.5 222.2,277.8 221.1,281.1 220.1,284.4 219.3,287.6 218.7,290.7 218.1,293.8 217.6,296.8 217.3,299.7 216.9,302.6 216.7,305.5 216.6,308.4 216.5,311.2 216.5,314.1 216.7,316.9 217.0,319.8 217.4,322.7 217.9,325.6 218.5,328.5 219.2,331.5 220.1,334.5 221.1,337.5 222.2,340.5 223.5,343.6 225.0,346.7 226.7,349.8 228.7,352.8 230.9,355.8 233.4,358.6 236.2,361.2 239.3,363.5 242.6,365.5 246.2,367.1 249.9,368.3 253.8,369.0 257.7,369.2 261.7,369.0 265.5,368.3 269.3,367.2 272.9,365.7 276.3,364.0 279.5,361.9 282.4,359.7 285.2,357.3 287.7,354.8 290.0,352.2 292.1,349.6 294.1,347.0 295.9,344.3 297.6,341.7 299.1,339.0 300.5,336.3 301.8,333.6 302.9,330.9 303.9,328.1 304.7,325.4 305.4,322.6 306.0,319.7 306.4,316.9 306.6,314.1Z" fill="#ffe700"/>
<path d="M305.8,311.2 305.7,308.4 305.6,305.6 305.2,302.8 304.8,300.1 304.2,297.3 303.4,294.5 302.5,291.8 301.4,289.0 300.2,286.4 298.8,283.7 297.3,281.1 295.6,278.5 293.7,275.9 291.7,273.4 289.5,271.0 287.2,268.7 284.6,266.4 281.9,264.2 279.0,262.1 275.9,260.2 272.6,258.5 269.2,257.0 265.5,255.9 261.8,255.0 258.0,254.6 254.1,254.5 250.2,254.9 246.4,255.7 242.8,257.0 239.4,258.7 236.1,260.8 233.2,263.3 230.6,266.0 228.3,269.0 226.4,272.1 224.7,275.3 223.3,278.5 222.2,281.7 221.2,284.9 220.4,288.1 219.8,291.1 219.3,294.1 218.8,297.1 218.4,300.0 218.1,302.8 217.9,305.6 217.7,308.4 217.7,311.2 217.7,314.0 217.9,316.8 218.1,319.6 218.5,322.4 219.0,325.3 219.6,328.1 220.3,331.0 221.2,333.9 222.2,336.8 223.3,339.8 224.5,342.8 226.0,345.9 227.7,348.9 229.6,351.9 231.7,354.7 234.2,357.5 236.9,360.0 239.9,362.3 243.2,364.2 246.7,365.8 250.3,367.0 254.1,367.7 258.0,367.9 261.8,367.7 265.6,367.0 269.2,365.9 272.7,364.5 276.1,362.7 279.2,360.7 282.0,358.5 284.7,356.2 287.2,353.8 289.4,351.3 291.5,348.7 293.4,346.1 295.2,343.6 296.8,341.0 298.3,338.4 299.7,335.7 300.9,333.1 302.0,330.4 303.0,327.7 303.8,325.0 304.5,322.3 305.0,319.5 305.4,316.8 305.7,314.0Z" fill="#fff000"/>
<path d="M304.8,311.2 304.8,308.5 304.6,305.7 304.3,303.0 303.8,300.3 303.2,297.6 302.5,294.9 301.6,292.2 300.6,289.5 299.4,286.9 298.0,284.3 296.5,281.7 294.9,279.2 293.1,276.7 291.1,274.3 289.0,271.9 286.7,269.6 284.2,267.4 281.5,265.3 278.7,263.2 275.7,261.4 272.5,259.7 269.1,258.3 265.6,257.1 261.9,256.3 258.2,255.9 254.4,255.8 250.6,256.2 246.9,257.0 243.4,258.3 240.0,260.0 236.9,262.0 234.0,264.4 231.5,267.1 229.3,269.9 227.3,273.0 225.7,276.1 224.4,279.3 223.2,282.4 222.3,285.5 221.6,288.6 220.9,291.6 220.4,294.5 220.0,297.4 219.6,300.2 219.3,303.0 219.1,305.7 218.9,308.5 218.9,311.2 218.9,313.9 219.1,316.6 219.3,319.4 219.7,322.1 220.2,324.9 220.8,327.7 221.5,330.5 222.3,333.4 223.2,336.2 224.3,339.1 225.6,342.1 227.0,345.0 228.6,348.0 230.5,350.9 232.6,353.7 235.0,356.4 237.6,358.9 240.6,361.1 243.8,363.0 247.2,364.5 250.7,365.6 254.4,366.3 258.2,366.5 261.9,366.3 265.6,365.7 269.2,364.6 272.6,363.2 275.8,361.5 278.9,359.6 281.7,357.4 284.3,355.1 286.7,352.8 288.9,350.3 290.9,347.8 292.8,345.3 294.5,342.8 296.1,340.2 297.6,337.7 298.9,335.1 300.1,332.6 301.2,329.9 302.1,327.3 302.9,324.7 303.6,322.0 304.1,319.3 304.5,316.6 304.7,313.9Z" fill="#fff900"/>
<path d="M303.9,311.2 303.8,308.5 303.6,305.8 303.3,303.2 302.9,300.5 302.3,297.9 301.6,295.3 300.7,292.6 299.7,290.0 298.6,287.5 297.2,284.9 295.8,282.4 294.2,280.0 292.4,277.6 290.5,275.2 288.4,272.9 286.2,270.6 283.7,268.4 281.2,266.3 278.4,264.4 275.4,262.6 272.3,260.9 269.0,259.5 265.6,258.4 262.0,257.6 258.4,257.2 254.7,257.1 251.0,257.5 247.4,258.3 244.0,259.5 240.7,261.2 237.6,263.2 234.8,265.5 232.4,268.1 230.2,270.9 228.3,273.9 226.7,276.9 225.4,280.0 224.3,283.1 223.4,286.1 222.7,289.1 222.1,292.0 221.6,294.9 221.1,297.7 220.8,300.4 220.5,303.1 220.3,305.8 220.1,308.5 220.1,311.2 220.1,313.8 220.3,316.5 220.5,319.2 220.9,321.9 221.3,324.6 221.9,327.3 222.6,330.0 223.4,332.8 224.3,335.6 225.4,338.4 226.6,341.3 228.0,344.2 229.6,347.1 231.4,349.9 233.4,352.7 235.8,355.3 238.4,357.7 241.2,359.9 244.3,361.7 247.6,363.2 251.1,364.3 254.7,365.0 258.4,365.2 262.0,365.0 265.6,364.3 269.1,363.3 272.4,361.9 275.6,360.3 278.5,358.4 281.3,356.3 283.8,354.1 286.2,351.7 288.3,349.3 290.3,346.9 292.1,344.5 293.8,342.0 295.4,339.5 296.8,337.0 298.1,334.5 299.3,332.0 300.3,329.5 301.2,326.9 302.0,324.3 302.6,321.7 303.2,319.1 303.5,316.5 303.8,313.8Z" fill="#ffff04"/>
<path d="M302.9,311.1 302.9,308.6 302.7,306.0 302.4,303.4 302.0,300.8 301.4,298.2 300.7,295.6 299.8,293.1 298.9,290.5 297.7,288.0 296.5,285.6 295.0,283.1 293.5,280.7 291.7,278.4 289.9,276.0 287.8,273.8 285.6,271.6 283.3,269.5 280.8,267.4 278.1,265.5 275.2,263.7 272.2,262.2 269.0,260.8 265.6,259.7 262.1,258.9 258.6,258.5 255.0,258.4 251.4,258.8 247.9,259.6 244.5,260.8 241.3,262.4 238.4,264.3 235.7,266.6 233.2,269.1 231.1,271.9 229.3,274.8 227.7,277.7 226.5,280.8 225.4,283.8 224.5,286.7 223.8,289.7 223.2,292.5 222.7,295.3 222.3,298.0 221.9,300.7 221.7,303.3 221.4,305.9 221.3,308.5 221.3,311.1 221.3,313.7 221.4,316.3 221.7,319.0 222.0,321.6 222.5,324.2 223.1,326.9 223.7,329.5 224.5,332.2 225.4,335.0 226.4,337.8 227.6,340.6 228.9,343.4 230.5,346.2 232.3,348.9 234.3,351.6 236.6,354.2 239.1,356.5 241.9,358.6 244.9,360.5 248.1,361.9 251.5,363.0 255.0,363.6 258.6,363.8 262.1,363.6 265.6,363.0 269.0,362.0 272.3,360.7 275.3,359.1 278.2,357.2 280.9,355.2 283.4,353.0 285.7,350.7 287.8,348.4 289.7,346.0 291.5,343.6 293.1,341.2 294.6,338.8 296.0,336.4 297.3,333.9 298.4,331.5 299.4,329.0 300.3,326.5 301.1,324.0 301.7,321.4 302.2,318.9 302.6,316.3 302.8,313.7Z" fill="#ffff0e"/>
<path d="M301.9,311.1 301.9,308.6 301.7,306.1 301.4,303.5 301.0,301.0 300.5,298.5 299.8,296.0 299.0,293.5 298.0,291.1 296.9,288.6 295.7,286.2 294.3,283.8 292.7,281.5 291.1,279.2 289.2,276.9 287.3,274.7 285.1,272.6 282.8,270.5 280.4,268.5 277.8,266.7 275.0,264.9 272.0,263.4 268.9,262.1 265.6,261.0 262.2,260.2 258.8,259.8 255.3,259.8 251.8,260.1 248.4,260.9 245.1,262.0 242.0,263.6 239.1,265.5 236.5,267.7 234.1,270.2 232.0,272.9 230.3,275.7 228.8,278.6 227.5,281.5 226.5,284.4 225.6,287.3 224.9,290.2 224.3,293.0 223.9,295.7 223.4,298.3 223.1,300.9 222.8,303.5 222.6,306.1 222.5,308.6 222.4,311.1 222.5,313.7 222.6,316.2 222.9,318.7 223.2,321.3 223.6,323.9 224.2,326.5 224.8,329.1 225.6,331.7 226.5,334.4 227.5,337.1 228.6,339.8 229.9,342.5 231.4,345.3 233.2,348.0 235.1,350.6 237.3,353.1 239.8,355.4 242.5,357.4 245.5,359.2 248.6,360.6 251.9,361.7 255.3,362.3 258.8,362.5 262.2,362.3 265.6,361.7 269.0,360.7 272.1,359.4 275.1,357.8 277.9,356.0 280.5,354.0 282.9,351.9 285.1,349.7 287.2,347.4 289.1,345.1 290.8,342.8 292.4,340.4 293.9,338.1 295.2,335.7 296.5,333.4 297.6,331.0 298.6,328.5 299.4,326.1 300.2,323.6 300.8,321.2 301.3,318.7 301.6,316.2 301.8,313.7Z" fill="#ffff17"/>
<path d="M301.0,311.1 300.9,308.6 300.8,306.2 300.5,303.7 300.1,301.3 299.5,298.8 298.9,296.4 298.1,294.0 297.1,291.6 296.1,289.2 294.9,286.8 293.5,284.5 292.0,282.2 290.4,280.0 288.6,277.8 286.7,275.6 284.6,273.6 282.4,271.5 280.0,269.6 277.5,267.8 274.7,266.1 271.8,264.6 268.8,263.3 265.6,262.3 262.3,261.5 259.0,261.1 255.6,261.1 252.2,261.4 248.9,262.2 245.7,263.3 242.6,264.8 239.8,266.7 237.3,268.8 235.0,271.2 233.0,273.8 231.2,276.6 229.8,279.4 228.5,282.3 227.5,285.1 226.7,287.9 226.0,290.7 225.5,293.4 225.0,296.1 224.6,298.6 224.3,301.2 224.0,303.7 223.8,306.2 223.7,308.6 223.6,311.1 223.7,313.6 223.8,316.0 224.0,318.5 224.4,321.0 224.8,323.5 225.3,326.0 226.0,328.6 226.7,331.1 227.5,333.7 228.5,336.4 229.6,339.0 230.9,341.7 232.4,344.4 234.1,347.0 236.0,349.5 238.1,352.0 240.5,354.2 243.2,356.2 246.0,357.9 249.1,359.3 252.3,360.3 255.6,360.9 259.0,361.1 262.3,360.9 265.7,360.3 268.9,359.4 272.0,358.1 274.9,356.6 277.6,354.8 280.1,352.9 282.5,350.8 284.6,348.7 286.6,346.5 288.4,344.2 290.1,342.0 291.7,339.7 293.1,337.4 294.4,335.1 295.6,332.8 296.7,330.4 297.7,328.1 298.5,325.7 299.2,323.3 299.8,320.9 300.3,318.5 300.7,316.0 300.9,313.6Z" fill="#ffff21"/>
<path d="M300.0,311.1 300.0,308.7 299.8,306.3 299.5,303.9 299.1,301.5 298.6,299.1 298.0,296.8 297.2,294.4 296.3,292.1 295.2,289.7 294.1,287.5 292.7,285.2 291.3,283.0 289.7,280.8 288.0,278.7 286.1,276.6 284.1,274.5 281.9,272.6 279.6,270.7 277.1,268.9 274.5,267.3 271.7,265.8 268.7,264.6 265.6,263.6 262.4,262.8 259.2,262.4 255.9,262.4 252.6,262.7 249.3,263.5 246.2,264.6 243.3,266.0 240.6,267.8 238.1,269.9 235.8,272.3 233.9,274.8 232.2,277.5 230.8,280.2 229.6,283.0 228.6,285.8 227.8,288.5 227.1,291.2 226.6,293.9 226.1,296.4 225.8,299.0 225.4,301.4 225.2,303.9 225.0,306.3 224.8,308.7 224.8,311.1 224.8,313.5 225.0,315.9 225.2,318.3 225.5,320.7 225.9,323.2 226.4,325.6 227.1,328.1 227.8,330.6 228.6,333.1 229.6,335.7 230.6,338.3 231.9,340.9 233.3,343.5 234.9,346.0 236.8,348.5 238.9,350.9 241.2,353.0 243.8,355.0 246.6,356.7 249.5,358.0 252.7,359.0 255.9,359.6 259.2,359.8 262.4,359.6 265.7,359.0 268.8,358.1 271.8,356.9 274.6,355.4 277.3,353.6 279.7,351.8 282.0,349.8 284.1,347.7 286.0,345.5 287.8,343.3 289.5,341.1 291.0,338.9 292.4,336.7 293.6,334.4 294.8,332.2 295.9,329.9 296.8,327.6 297.6,325.3 298.3,323.0 298.9,320.6 299.4,318.2 299.7,315.9 299.9,313.5Z" fill="#ffff2b"/>
<path d="M299.0,311.1 299.0,308.7 298.8,306.4 298.6,304.1 298.2,301.8 297.7,299.4 297.0,297.1 296.3,294.8 295.4,292.6 294.4,290.3 293.3,288.1 292.0,285.9 290.6,283.7 289.0,281.6 287.4,279.5 285.5,277.5 283.6,275.5 281.5,273.6 279.2,271.8 276.8,270.1 274.2,268.5 271.5,267.1 268.7,265.8 265.7,264.9 262.5,264.2 259.4,263.8 256.2,263.7 253.0,264.1 249.8,264.8 246.8,265.8 243.9,267.3 241.3,269.0 238.9,271.0 236.7,273.3 234.8,275.8 233.2,278.4 231.8,281.1 230.6,283.8 229.7,286.5 228.9,289.1 228.2,291.8 227.7,294.3 227.3,296.8 226.9,299.3 226.6,301.7 226.3,304.1 226.1,306.4 226.0,308.7 226.0,311.1 226.0,313.4 226.1,315.8 226.4,318.1 226.7,320.5 227.1,322.8 227.6,325.2 228.2,327.6 228.9,330.0 229.7,332.5 230.6,335.0 231.6,337.5 232.9,340.0 234.2,342.6 235.8,345.0 237.6,347.5 239.7,349.7 241.9,351.9 244.4,353.8 247.1,355.4 250.0,356.7 253.0,357.7 256.2,358.2 259.4,358.4 262.5,358.2 265.7,357.7 268.7,356.8 271.6,355.6 274.4,354.1 276.9,352.5 279.3,350.6 281.6,348.7 283.6,346.6 285.5,344.5 287.2,342.4 288.8,340.3 290.3,338.1 291.6,335.9 292.9,333.8 294.0,331.6 295.0,329.4 295.9,327.1 296.7,324.9 297.4,322.6 298.0,320.3 298.4,318.0 298.7,315.7 298.9,313.4Z" fill="#ffff35"/>
<path d="M298.0,311.1 298.0,308.8 297.9,306.5 297.6,304.3 297.2,302.0 296.7,299.8 296.1,297.5 295.4,295.3 294.5,293.1 293.6,290.9 292.4,288.7 291.2,286.6 289.8,284.5 288.3,282.4 286.7,280.4 285.0,278.4 283.1,276.5 281.0,274.7 278.8,272.9 276.5,271.2 274.0,269.7 271.4,268.3 268.6,267.1 265.7,266.2 262.6,265.5 259.6,265.1 256.4,265.1 253.3,265.4 250.3,266.0 247.4,267.1 244.6,268.5 242.0,270.2 239.6,272.2 237.5,274.4 235.7,276.8 234.1,279.3 232.8,281.9 231.7,284.5 230.7,287.2 230.0,289.7 229.4,292.3 228.8,294.8 228.4,297.2 228.0,299.6 227.7,301.9 227.5,304.2 227.3,306.5 227.2,308.8 227.1,311.1 227.2,313.3 227.3,315.6 227.5,317.9 227.8,320.2 228.2,322.5 228.7,324.8 229.3,327.1 230.0,329.5 230.7,331.9 231.6,334.3 232.7,336.7 233.8,339.2 235.2,341.6 236.7,344.1 238.5,346.4 240.4,348.6 242.6,350.7 245.0,352.5 247.7,354.1 250.5,355.4 253.4,356.3 256.5,356.9 259.6,357.1 262.6,356.9 265.7,356.3 268.6,355.5 271.4,354.3 274.1,352.9 276.6,351.3 278.9,349.5 281.1,347.6 283.1,345.6 284.9,343.6 286.6,341.5 288.1,339.4 289.5,337.3 290.9,335.2 292.1,333.1 293.2,331.0 294.1,328.8 295.0,326.7 295.8,324.5 296.5,322.3 297.0,320.1 297.4,317.8 297.8,315.6 298.0,313.3Z" fill="#ffff3f"/>
<path d="M297.1,311.0 297.0,308.8 296.9,306.6 296.6,304.5 296.3,302.3 295.8,300.1 295.2,297.9 294.5,295.7 293.7,293.6 292.7,291.5 291.6,289.4 290.4,287.3 289.1,285.3 287.7,283.3 286.1,281.3 284.4,279.4 282.5,277.5 280.6,275.7 278.4,274.0 276.2,272.4 273.7,270.9 271.2,269.5 268.5,268.4 265.7,267.4 262.7,266.8 259.7,266.4 256.7,266.4 253.7,266.7 250.8,267.4 247.9,268.4 245.2,269.7 242.7,271.4 240.4,273.3 238.4,275.4 236.6,277.8 235.1,280.2 233.8,282.7 232.7,285.3 231.8,287.8 231.1,290.4 230.5,292.8 230.0,295.2 229.5,297.6 229.2,299.9 228.9,302.2 228.7,304.4 228.5,306.6 228.4,308.8 228.3,311.0 228.3,313.2 228.5,315.5 228.7,317.7 229.0,319.9 229.3,322.1 229.8,324.4 230.4,326.6 231.0,328.9 231.8,331.3 232.7,333.6 233.7,336.0 234.8,338.4 236.1,340.7 237.6,343.1 239.3,345.4 241.2,347.5 243.3,349.5 245.7,351.3 248.2,352.8 250.9,354.1 253.8,355.0 256.7,355.5 259.7,355.7 262.7,355.5 265.7,355.0 268.5,354.2 271.3,353.0 273.9,351.6 276.3,350.1 278.5,348.3 280.6,346.5 282.5,344.6 284.3,342.6 285.9,340.6 287.4,338.6 288.8,336.5 290.1,334.5 291.3,332.4 292.3,330.4 293.3,328.3 294.1,326.2 294.9,324.1 295.5,321.9 296.1,319.8 296.5,317.6 296.8,315.4 297.0,313.2Z" fill="#ffff49"/>
<path d="M296.1,311.0 296.0,308.9 295.9,306.8 295.7,304.6 295.3,302.5 294.9,300.4 294.3,298.3 293.6,296.2 292.8,294.1 291.9,292.0 290.8,290.0 289.7,288.0 288.4,286.0 287.0,284.1 285.4,282.2 283.8,280.3 282.0,278.5 280.1,276.8 278.0,275.1 275.8,273.5 273.5,272.1 271.0,270.8 268.4,269.6 265.7,268.8 262.8,268.1 259.9,267.8 257.0,267.7 254.1,268.0 251.2,268.7 248.5,269.6 245.9,270.9 243.4,272.5 241.2,274.4 239.2,276.5 237.5,278.8 236.0,281.1 234.8,283.6 233.7,286.1 232.9,288.5 232.1,291.0 231.6,293.4 231.1,295.7 230.7,298.0 230.3,300.2 230.0,302.4 229.8,304.6 229.6,306.8 229.5,308.9 229.5,311.0 229.5,313.2 229.6,315.3 229.8,317.5 230.1,319.6 230.5,321.8 230.9,324.0 231.5,326.2 232.1,328.4 232.9,330.6 233.7,332.9 234.7,335.2 235.8,337.5 237.0,339.8 238.5,342.1 240.1,344.3 242.0,346.4 244.0,348.3 246.3,350.1 248.8,351.6 251.4,352.8 254.2,353.6 257.0,354.2 259.9,354.3 262.8,354.2 265.7,353.7 268.4,352.8 271.1,351.7 273.6,350.4 276.0,348.9 278.1,347.2 280.2,345.4 282.0,343.6 283.7,341.6 285.3,339.7 286.8,337.7 288.1,335.8 289.3,333.8 290.5,331.8 291.5,329.8 292.4,327.8 293.3,325.7 294.0,323.7 294.6,321.6 295.1,319.5 295.5,317.4 295.8,315.3 296.0,313.2Z" fill="#ffff53"/>
<path d="M295.1,311.0 295.1,309.0 294.9,306.9 294.7,304.8 294.4,302.8 293.9,300.7 293.4,298.7 292.7,296.6 291.9,294.6 291.0,292.6 290.0,290.6 288.9,288.7 287.6,286.8 286.3,284.9 284.8,283.1 283.2,281.3 281.5,279.5 279.6,277.8 277.6,276.2 275.5,274.7 273.2,273.3 270.8,272.0 268.3,270.9 265.7,270.1 262.9,269.4 260.1,269.1 257.3,269.1 254.4,269.3 251.7,270.0 249.0,270.9 246.5,272.2 244.1,273.7 242.0,275.5 240.1,277.6 238.4,279.7 237.0,282.0 235.8,284.4 234.7,286.8 233.9,289.2 233.2,291.6 232.7,293.9 232.2,296.2 231.8,298.4 231.5,300.6 231.2,302.7 231.0,304.8 230.8,306.9 230.7,308.9 230.6,311.0 230.7,313.1 230.8,315.2 231.0,317.2 231.3,319.3 231.6,321.4 232.1,323.5 232.6,325.7 233.2,327.8 233.9,330.0 234.7,332.2 235.6,334.4 236.7,336.7 237.9,338.9 239.3,341.1 240.9,343.3 242.7,345.3 244.7,347.2 246.9,348.8 249.3,350.3 251.9,351.4 254.5,352.3 257.3,352.8 260.1,353.0 262.9,352.8 265.7,352.3 268.4,351.5 270.9,350.5 273.3,349.2 275.6,347.7 277.7,346.1 279.7,344.3 281.5,342.5 283.1,340.7 284.7,338.8 286.1,336.9 287.4,335.0 288.6,333.0 289.7,331.1 290.7,329.2 291.6,327.2 292.4,325.2 293.1,323.3 293.7,321.2 294.2,319.2 294.6,317.2 294.8,315.1 295.0,313.1Z" fill="#ffff5c"/>
<path d="M294.1,311.0 294.1,309.0 293.9,307.0 293.7,305.0 293.4,303.0 293.0,301.0 292.4,299.0 291.8,297.1 291.0,295.1 290.2,293.2 289.2,291.3 288.1,289.4 286.9,287.6 285.6,285.7 284.2,284.0 282.6,282.2 280.9,280.5 279.1,278.9 277.2,277.3 275.2,275.8 273.0,274.5 270.7,273.3 268.2,272.2 265.6,271.4 263.0,270.8 260.3,270.4 257.5,270.4 254.8,270.7 252.1,271.3 249.6,272.2 247.1,273.4 244.9,274.9 242.8,276.7 240.9,278.6 239.3,280.7 237.9,283.0 236.7,285.3 235.8,287.6 235.0,289.9 234.3,292.2 233.7,294.4 233.3,296.6 232.9,298.8 232.6,300.9 232.3,302.9 232.1,305.0 231.9,307.0 231.8,309.0 231.8,311.0 231.8,313.0 231.9,315.0 232.1,317.0 232.4,319.0 232.7,321.1 233.2,323.1 233.7,325.2 234.3,327.3 235.0,329.4 235.7,331.5 236.6,333.7 237.7,335.8 238.9,338.0 240.2,340.1 241.7,342.2 243.5,344.2 245.4,346.0 247.5,347.6 249.8,349.0 252.3,350.1 254.9,350.9 257.6,351.4 260.3,351.6 263.0,351.4 265.7,351.0 268.3,350.2 270.7,349.2 273.1,347.9 275.3,346.5 277.3,344.9 279.2,343.2 280.9,341.5 282.5,339.7 284.0,337.9 285.4,336.0 286.6,334.2 287.8,332.3 288.8,330.5 289.8,328.6 290.7,326.7 291.5,324.8 292.1,322.8 292.7,320.9 293.2,318.9 293.6,317.0 293.9,315.0 294.0,313.0Z" fill="#ffff66"/>
<path d="M293.1,311.0 293.1,309.1 293.0,307.1 292.7,305.2 292.4,303.3 292.0,301.3 291.5,299.4 290.9,297.5 290.1,295.6 289.3,293.8 288.4,291.9 287.3,290.1 286.2,288.3 284.9,286.6 283.5,284.8 282.0,283.2 280.4,281.5 278.7,279.9 276.8,278.4 274.8,277.0 272.7,275.7 270.5,274.5 268.1,273.5 265.6,272.7 263.1,272.1 260.5,271.8 257.8,271.7 255.2,272.0 252.6,272.6 250.1,273.5 247.8,274.7 245.6,276.1 243.6,277.8 241.8,279.7 240.2,281.7 238.9,283.9 237.7,286.1 236.8,288.4 236.0,290.6 235.4,292.8 234.8,295.0 234.4,297.1 234.0,299.2 233.7,301.2 233.5,303.2 233.3,305.2 233.1,307.1 233.0,309.1 233.0,311.0 233.0,312.9 233.1,314.9 233.3,316.8 233.5,318.8 233.9,320.7 234.3,322.7 234.8,324.7 235.3,326.7 236.0,328.7 236.8,330.8 237.6,332.9 238.6,335.0 239.8,337.1 241.1,339.1 242.6,341.1 244.2,343.0 246.1,344.8 248.1,346.4 250.4,347.7 252.8,348.8 255.3,349.6 257.8,350.1 260.5,350.2 263.1,350.1 265.7,349.6 268.2,348.9 270.6,347.9 272.8,346.7 274.9,345.3 276.9,343.8 278.7,342.1 280.4,340.5 282.0,338.7 283.4,337.0 284.7,335.2 285.9,333.4 287.0,331.6 288.0,329.8 289.0,328.0 289.8,326.1 290.6,324.3 291.2,322.4 291.8,320.6 292.2,318.7 292.6,316.8 292.9,314.8 293.0,312.9Z" fill="#ffff70"/>
<path d="M292.1,311.0 292.1,309.1 292.0,307.2 291.8,305.4 291.5,303.5 291.1,301.7 290.6,299.8 290.0,298.0 289.3,296.2 288.5,294.4 287.5,292.6 286.5,290.8 285.4,289.1 284.2,287.4 282.9,285.7 281.4,284.1 279.9,282.5 278.2,281.0 276.4,279.5 274.5,278.2 272.4,276.9 270.3,275.8 268.0,274.8 265.6,274.0 263.2,273.4 260.6,273.1 258.1,273.1 255.5,273.3 253.1,273.9 250.6,274.8 248.4,275.9 246.3,277.3 244.3,278.9 242.6,280.8 241.1,282.7 239.8,284.8 238.7,287.0 237.8,289.1 237.1,291.3 236.4,293.4 235.9,295.5 235.5,297.6 235.1,299.6 234.8,301.5 234.6,303.5 234.4,305.4 234.2,307.2 234.2,309.1 234.1,311.0 234.1,312.8 234.2,314.7 234.4,316.6 234.7,318.5 235.0,320.4 235.4,322.3 235.9,324.2 236.4,326.1 237.1,328.1 237.8,330.1 238.6,332.1 239.6,334.1 240.7,336.2 241.9,338.2 243.4,340.1 245.0,341.9 246.8,343.6 248.8,345.1 250.9,346.4 253.2,347.5 255.6,348.2 258.1,348.7 260.6,348.9 263.2,348.7 265.6,348.3 268.1,347.5 270.4,346.6 272.5,345.4 274.6,344.1 276.5,342.6 278.3,341.1 279.9,339.4 281.4,337.8 282.7,336.0 284.0,334.3 285.2,332.6 286.2,330.9 287.2,329.1 288.1,327.4 288.9,325.6 289.7,323.8 290.3,322.0 290.8,320.2 291.3,318.4 291.6,316.5 291.9,314.7 292.0,312.8Z" fill="#ffff7a"/>
<path d="M291.1,311.0 291.1,309.2 291.0,307.4 290.8,305.6 290.5,303.8 290.1,302.0 289.6,300.2 289.0,298.4 288.4,296.7 287.6,294.9 286.7,293.2 285.7,291.5 284.7,289.9 283.5,288.2 282.2,286.6 280.8,285.1 279.3,283.5 277.7,282.1 276.0,280.7 274.1,279.3 272.2,278.1 270.1,277.0 267.9,276.1 265.6,275.3 263.2,274.8 260.8,274.5 258.3,274.4 255.9,274.7 253.5,275.2 251.2,276.1 249.0,277.2 247.0,278.5 245.1,280.1 243.5,281.8 242.0,283.7 240.8,285.7 239.7,287.8 238.8,289.9 238.1,292.0 237.5,294.0 237.0,296.1 236.6,298.0 236.3,300.0 236.0,301.9 235.7,303.7 235.5,305.5 235.4,307.4 235.3,309.2 235.3,311.0 235.3,312.8 235.4,314.6 235.6,316.4 235.8,318.2 236.1,320.0 236.5,321.9 236.9,323.7 237.5,325.6 238.1,327.5 238.8,329.4 239.6,331.3 240.5,333.3 241.6,335.2 242.8,337.2 244.2,339.0 245.7,340.8 247.5,342.4 249.4,343.9 251.4,345.1 253.6,346.1 256.0,346.9 258.4,347.3 260.8,347.5 263.2,347.3 265.6,346.9 267.9,346.2 270.2,345.3 272.3,344.2 274.2,342.9 276.1,341.5 277.8,340.0 279.3,338.4 280.8,336.8 282.1,335.1 283.3,333.5 284.4,331.8 285.5,330.1 286.4,328.5 287.3,326.8 288.1,325.1 288.8,323.3 289.4,321.6 289.9,319.9 290.3,318.1 290.7,316.3 290.9,314.5 291.1,312.8Z" fill="#ffff84"/>
<path d="M290.1,310.9 290.1,309.2 290.0,307.5 289.8,305.8 289.5,304.0 289.1,302.3 288.7,300.6 288.1,298.9 287.5,297.2 286.7,295.5 285.9,293.9 284.9,292.3 283.9,290.7 282.8,289.1 281.5,287.5 280.2,286.0 278.8,284.6 277.2,283.1 275.6,281.8 273.8,280.5 271.9,279.3 269.9,278.3 267.8,277.4 265.6,276.6 263.3,276.1 261.0,275.8 258.6,275.8 256.3,276.0 253.9,276.6 251.7,277.4 249.6,278.4 247.7,279.7 245.9,281.2 244.3,282.9 242.9,284.8 241.7,286.7 240.7,288.7 239.8,290.7 239.1,292.7 238.6,294.7 238.1,296.6 237.7,298.5 237.4,300.4 237.1,302.2 236.9,304.0 236.7,305.7 236.5,307.5 236.4,309.2 236.4,310.9 236.4,312.7 236.5,314.4 236.7,316.2 236.9,317.9 237.2,319.7 237.6,321.4 238.0,323.2 238.5,325.0 239.1,326.9 239.8,328.7 240.6,330.6 241.5,332.4 242.5,334.3 243.7,336.2 245.0,338.0 246.5,339.7 248.1,341.2 250.0,342.6 252.0,343.8 254.1,344.8 256.3,345.5 258.6,346.0 261.0,346.1 263.3,346.0 265.6,345.5 267.8,344.9 270.0,344.0 272.0,342.9 273.9,341.7 275.7,340.3 277.3,338.9 278.8,337.3 280.2,335.8 281.4,334.2 282.6,332.6 283.7,331.0 284.7,329.4 285.6,327.8 286.4,326.2 287.2,324.5 287.8,322.9 288.4,321.2 288.9,319.5 289.3,317.8 289.7,316.1 289.9,314.4 290.1,312.7Z" fill="#ffff8e"/>
<path d="M289.1,310.9 289.1,309.3 289.0,307.6 288.8,306.0 288.5,304.3 288.2,302.6 287.7,301.0 287.2,299.4 286.6,297.7 285.9,296.1 285.1,294.5 284.2,293.0 283.2,291.4 282.1,289.9 280.9,288.4 279.6,287.0 278.2,285.6 276.7,284.2 275.1,282.9 273.4,281.7 271.6,280.6 269.7,279.5 267.7,278.7 265.6,278.0 263.4,277.5 261.1,277.2 258.9,277.2 256.6,277.4 254.4,277.9 252.3,278.7 250.2,279.7 248.4,280.9 246.7,282.4 245.1,284.0 243.8,285.8 242.6,287.6 241.7,289.5 240.8,291.5 240.2,293.4 239.6,295.3 239.2,297.2 238.8,299.0 238.5,300.8 238.2,302.5 238.0,304.2 237.8,305.9 237.7,307.6 237.6,309.3 237.6,310.9 237.6,312.6 237.7,314.3 237.8,315.9 238.0,317.6 238.3,319.3 238.7,321.0 239.1,322.7 239.6,324.5 240.2,326.2 240.8,328.0 241.6,329.8 242.4,331.6 243.4,333.4 244.5,335.2 245.8,336.9 247.2,338.5 248.8,340.0 250.6,341.4 252.5,342.5 254.5,343.5 256.7,344.2 258.9,344.6 261.1,344.7 263.4,344.6 265.6,344.2 267.7,343.5 269.8,342.7 271.7,341.6 273.5,340.5 275.2,339.2 276.8,337.8 278.2,336.3 279.6,334.8 280.8,333.3 281.9,331.8 282.9,330.2 283.9,328.7 284.8,327.1 285.6,325.6 286.3,324.0 286.9,322.4 287.5,320.8 288.0,319.2 288.4,317.5 288.7,315.9 288.9,314.3 289.1,312.6Z" fill="#ffff97"/>
<path d="M288.1,310.9 288.1,309.3 288.0,307.7 287.8,306.1 287.5,304.6 287.2,303.0 286.8,301.4 286.3,299.8 285.7,298.3 285.0,296.7 284.2,295.2 283.4,293.7 282.4,292.2 281.4,290.8 280.2,289.3 279.0,288.0 277.7,286.6 276.3,285.3 274.7,284.0 273.1,282.9 271.4,281.8 269.5,280.8 267.6,280.0 265.5,279.3 263.4,278.8 261.3,278.6 259.1,278.5 257.0,278.7 254.8,279.2 252.8,280.0 250.9,280.9 249.1,282.1 247.4,283.5 245.9,285.1 244.7,286.8 243.6,288.6 242.6,290.4 241.8,292.2 241.2,294.1 240.7,295.9 240.2,297.7 239.9,299.5 239.6,301.2 239.3,302.8 239.1,304.5 238.9,306.1 238.8,307.7 238.7,309.3 238.7,310.9 238.7,312.5 238.8,314.1 239.0,315.7 239.2,317.3 239.4,319.0 239.8,320.6 240.2,322.2 240.7,323.9 241.2,325.6 241.8,327.3 242.5,329.0 243.4,330.7 244.3,332.5 245.4,334.2 246.6,335.8 248.0,337.4 249.5,338.8 251.2,340.1 253.0,341.3 255.0,342.1 257.0,342.8 259.1,343.2 261.3,343.3 263.4,343.2 265.6,342.8 267.6,342.2 269.6,341.4 271.4,340.4 273.2,339.2 274.8,338.0 276.3,336.7 277.7,335.3 279.0,333.8 280.1,332.4 281.2,330.9 282.2,329.4 283.1,327.9 283.9,326.4 284.7,324.9 285.4,323.4 286.0,321.9 286.6,320.4 287.0,318.8 287.4,317.3 287.7,315.7 287.9,314.1 288.1,312.5Z" fill="#ffffa1"/>
<path d="M287.1,310.9 287.1,309.4 287.0,307.9 286.8,306.3 286.6,304.8 286.2,303.3 285.8,301.8 285.3,300.3 284.8,298.8 284.1,297.3 283.4,295.9 282.6,294.4 281.6,293.0 280.6,291.6 279.6,290.3 278.4,288.9 277.1,287.6 275.8,286.4 274.3,285.2 272.7,284.1 271.1,283.0 269.3,282.1 267.5,281.3 265.5,280.6 263.5,280.2 261.4,279.9 259.4,279.9 257.3,280.1 255.3,280.6 253.3,281.3 251.5,282.2 249.7,283.4 248.2,284.7 246.8,286.2 245.5,287.8 244.5,289.5 243.6,291.2 242.9,293.0 242.2,294.8 241.7,296.5 241.3,298.3 241.0,299.9 240.7,301.6 240.4,303.2 240.2,304.8 240.1,306.3 240.0,307.9 239.9,309.4 239.8,310.9 239.9,312.4 239.9,314.0 240.1,315.5 240.3,317.1 240.6,318.6 240.9,320.2 241.3,321.7 241.7,323.3 242.2,325.0 242.8,326.6 243.5,328.2 244.3,329.9 245.2,331.5 246.2,333.2 247.4,334.8 248.7,336.3 250.2,337.6 251.8,338.9 253.5,339.9 255.4,340.8 257.4,341.4 259.4,341.8 261.4,341.9 263.5,341.8 265.5,341.5 267.5,340.9 269.4,340.1 271.2,339.1 272.8,338.0 274.4,336.8 275.8,335.6 277.1,334.2 278.3,332.8 279.5,331.4 280.5,330.0 281.4,328.6 282.3,327.2 283.1,325.8 283.8,324.3 284.5,322.9 285.1,321.4 285.6,320.0 286.1,318.5 286.4,317.0 286.7,315.5 286.9,314.0 287.0,312.4Z" fill="#ffffab"/>
<path d="M286.1,310.9 286.1,309.4 286.0,308.0 285.8,306.5 285.6,305.1 285.3,303.6 284.9,302.2 284.4,300.7 283.9,299.3 283.2,297.9 282.5,296.5 281.7,295.1 280.9,293.8 279.9,292.5 278.9,291.2 277.8,289.9 276.6,288.7 275.3,287.5 273.9,286.3 272.4,285.2 270.8,284.2 269.1,283.3 267.3,282.6 265.5,282.0 263.6,281.5 261.6,281.3 259.6,281.3 257.6,281.5 255.7,281.9 253.8,282.6 252.1,283.5 250.4,284.6 248.9,285.8 247.6,287.3 246.4,288.8 245.4,290.4 244.6,292.1 243.9,293.8 243.3,295.5 242.8,297.2 242.4,298.8 242.1,300.4 241.8,302.0 241.6,303.5 241.4,305.0 241.2,306.5 241.1,308.0 241.0,309.4 241.0,310.9 241.0,312.4 241.1,313.8 241.2,315.3 241.4,316.8 241.7,318.3 242.0,319.7 242.3,321.3 242.8,322.8 243.3,324.3 243.8,325.9 244.5,327.5 245.2,329.0 246.1,330.6 247.1,332.2 248.2,333.7 249.4,335.1 250.8,336.4 252.4,337.6 254.0,338.6 255.8,339.5 257.7,340.1 259.6,340.4 261.6,340.5 263.6,340.4 265.5,340.1 267.4,339.5 269.2,338.8 270.9,337.9 272.5,336.8 273.9,335.7 275.3,334.4 276.6,333.2 277.7,331.9 278.8,330.5 279.8,329.2 280.7,327.8 281.5,326.5 282.3,325.1 283.0,323.7 283.6,322.4 284.2,321.0 284.7,319.5 285.1,318.1 285.4,316.7 285.7,315.3 285.9,313.8 286.0,312.4Z" fill="#ffffb5"/>
<path d="M285.1,310.9 285.1,309.5 285.0,308.1 284.8,306.7 284.6,305.3 284.3,304.0 283.9,302.6 283.5,301.2 283.0,299.9 282.4,298.5 281.7,297.2 280.9,295.9 280.1,294.6 279.2,293.3 278.2,292.1 277.2,290.9 276.0,289.7 274.8,288.5 273.4,287.5 272.0,286.4 270.5,285.5 268.9,284.6 267.2,283.9 265.5,283.3 263.6,282.9 261.8,282.7 259.9,282.6 258.0,282.8 256.1,283.2 254.4,283.9 252.7,284.7 251.1,285.8 249.7,287.0 248.4,288.4 247.3,289.8 246.3,291.4 245.5,293.0 244.8,294.6 244.3,296.2 243.8,297.8 243.5,299.4 243.1,300.9 242.9,302.4 242.7,303.9 242.5,305.3 242.3,306.7 242.2,308.1 242.1,309.5 242.1,310.9 242.1,312.3 242.2,313.7 242.3,315.1 242.5,316.5 242.8,317.9 243.1,319.3 243.4,320.8 243.8,322.2 244.3,323.7 244.8,325.2 245.5,326.7 246.2,328.2 247.0,329.7 247.9,331.2 249.0,332.6 250.2,334.0 251.5,335.2 253.0,336.4 254.6,337.3 256.3,338.1 258.0,338.7 259.9,339.0 261.8,339.2 263.6,339.0 265.5,338.7 267.3,338.2 269.0,337.5 270.6,336.6 272.1,335.6 273.5,334.5 274.8,333.3 276.0,332.1 277.1,330.9 278.1,329.6 279.1,328.3 279.9,327.0 280.7,325.7 281.5,324.4 282.1,323.1 282.7,321.8 283.3,320.5 283.7,319.1 284.1,317.8 284.5,316.4 284.7,315.0 284.9,313.7 285.0,312.3Z" fill="#ffffbf"/>
<path d="M284.1,310.9 284.0,309.6 284.0,308.2 283.8,306.9 283.6,305.6 283.3,304.3 283.0,303.0 282.5,301.7 282.0,300.4 281.5,299.1 280.8,297.8 280.1,296.6 279.3,295.4 278.5,294.2 277.5,293.0 276.5,291.8 275.4,290.7 274.3,289.6 273.0,288.6 271.7,287.6 270.2,286.7 268.7,285.9 267.1,285.2 265.4,284.7 263.7,284.3 261.9,284.0 260.1,284.0 258.3,284.2 256.6,284.6 254.9,285.2 253.3,286.0 251.8,287.0 250.4,288.2 249.2,289.5 248.2,290.9 247.3,292.3 246.5,293.9 245.8,295.4 245.3,296.9 244.9,298.4 244.5,299.9 244.2,301.4 244.0,302.8 243.8,304.2 243.6,305.6 243.4,306.9 243.3,308.2 243.3,309.6 243.2,310.9 243.3,312.2 243.3,313.5 243.5,314.9 243.6,316.2 243.9,317.6 244.1,318.9 244.5,320.3 244.9,321.6 245.3,323.0 245.8,324.5 246.4,325.9 247.1,327.3 247.9,328.8 248.8,330.2 249.8,331.5 250.9,332.8 252.2,334.0 253.6,335.1 255.1,336.0 256.7,336.8 258.4,337.3 260.1,337.6 261.9,337.8 263.7,337.6 265.4,337.3 267.1,336.8 268.8,336.1 270.3,335.3 271.7,334.4 273.1,333.3 274.3,332.2 275.4,331.1 276.5,329.9 277.5,328.7 278.4,327.5 279.2,326.2 279.9,325.0 280.6,323.8 281.3,322.5 281.8,321.3 282.3,320.0 282.8,318.7 283.2,317.4 283.5,316.1 283.7,314.8 283.9,313.5 284.0,312.2Z" fill="#ffffc5"/>
<path d="M283.0,310.9 283.0,309.6 282.9,308.4 282.8,307.1 282.6,305.9 282.3,304.6 282.0,303.4 281.6,302.1 281.1,300.9 280.6,299.7 280.0,298.5 279.3,297.3 278.6,296.2 277.8,295.0 276.9,293.9 275.9,292.8 274.9,291.8 273.8,290.7 272.6,289.7 271.3,288.8 269.9,288.0 268.5,287.2 267.0,286.5 265.4,286.0 263.7,285.6 262.1,285.4 260.4,285.4 258.7,285.6 257.0,286.0 255.4,286.5 253.9,287.3 252.5,288.2 251.2,289.3 250.0,290.6 249.0,291.9 248.2,293.3 247.4,294.7 246.8,296.2 246.3,297.6 245.9,299.1 245.6,300.5 245.3,301.9 245.1,303.2 244.9,304.5 244.7,305.8 244.6,307.1 244.5,308.4 244.4,309.6 244.4,310.9 244.4,312.1 244.5,313.4 244.6,314.7 244.7,315.9 245.0,317.2 245.2,318.5 245.5,319.8 245.9,321.1 246.3,322.4 246.8,323.7 247.4,325.1 248.0,326.5 248.8,327.8 249.6,329.2 250.5,330.5 251.6,331.7 252.8,332.8 254.1,333.8 255.6,334.7 257.1,335.4 258.7,335.9 260.4,336.3 262.1,336.4 263.7,336.3 265.4,336.0 267.0,335.5 268.5,334.8 270.0,334.0 271.4,333.1 272.6,332.2 273.8,331.1 274.9,330.0 275.9,328.9 276.8,327.7 277.6,326.6 278.4,325.4 279.1,324.3 279.8,323.1 280.4,321.9 280.9,320.7 281.4,319.5 281.8,318.3 282.2,317.1 282.5,315.9 282.7,314.6 282.9,313.4 283.0,312.1Z" fill="#ffffca"/>
<path d="M282.0,310.9 282.0,309.7 281.9,308.5 281.8,307.3 281.6,306.1 281.4,305.0 281.0,303.8 280.7,302.6 280.2,301.5 279.7,300.3 279.1,299.2 278.5,298.1 277.8,297.0 277.0,295.9 276.2,294.8 275.3,293.8 274.3,292.8 273.3,291.8 272.1,290.9 270.9,290.0 269.6,289.2 268.3,288.5 266.8,287.9 265.3,287.4 263.8,287.0 262.2,286.8 260.6,286.8 259.0,287.0 257.4,287.3 255.9,287.9 254.5,288.6 253.2,289.5 251.9,290.5 250.9,291.7 249.9,292.9 249.1,294.2 248.4,295.6 247.8,297.0 247.3,298.4 247.0,299.7 246.6,301.0 246.4,302.3 246.2,303.6 246.0,304.9 245.8,306.1 245.7,307.3 245.6,308.5 245.5,309.7 245.5,310.9 245.5,312.1 245.6,313.2 245.7,314.4 245.8,315.6 246.1,316.8 246.3,318.1 246.6,319.3 246.9,320.5 247.4,321.8 247.8,323.0 248.3,324.3 248.9,325.6 249.6,326.9 250.4,328.1 251.3,329.4 252.3,330.5 253.5,331.6 254.7,332.6 256.1,333.4 257.5,334.1 259.0,334.6 260.6,334.9 262.2,335.0 263.8,334.9 265.4,334.6 266.9,334.1 268.3,333.5 269.7,332.8 271.0,331.9 272.2,331.0 273.3,330.0 274.3,329.0 275.2,327.9 276.1,326.8 276.9,325.7 277.6,324.6 278.3,323.5 278.9,322.4 279.5,321.3 280.0,320.2 280.5,319.0 280.9,317.9 281.2,316.7 281.5,315.6 281.7,314.4 281.9,313.2 282.0,312.1Z" fill="#ffffcf"/>
<path d="M281.0,310.9 281.0,309.7 280.9,308.6 280.8,307.5 280.6,306.4 280.4,305.3 280.1,304.2 279.7,303.1 279.3,302.0 278.8,300.9 278.3,299.8 277.7,298.8 277.0,297.8 276.3,296.7 275.5,295.8 274.7,294.8 273.7,293.8 272.7,292.9 271.7,292.0 270.5,291.2 269.3,290.5 268.1,289.8 266.7,289.2 265.3,288.7 263.8,288.4 262.3,288.2 260.8,288.2 259.3,288.3 257.8,288.7 256.4,289.2 255.1,289.9 253.8,290.7 252.7,291.7 251.7,292.8 250.8,294.0 250.0,295.2 249.4,296.5 248.8,297.8 248.4,299.1 248.0,300.4 247.7,301.6 247.4,302.8 247.2,304.0 247.1,305.2 246.9,306.4 246.8,307.5 246.7,308.6 246.6,309.7 246.6,310.9 246.6,312.0 246.7,313.1 246.8,314.2 246.9,315.4 247.1,316.5 247.4,317.6 247.7,318.8 248.0,319.9 248.4,321.1 248.8,322.3 249.3,323.5 249.9,324.7 250.5,325.9 251.3,327.1 252.1,328.3 253.1,329.4 254.1,330.4 255.3,331.3 256.6,332.1 257.9,332.7 259.4,333.2 260.8,333.5 262.3,333.5 263.8,333.5 265.3,333.2 266.7,332.8 268.1,332.2 269.4,331.5 270.6,330.7 271.7,329.8 272.8,328.9 273.7,327.9 274.6,326.9 275.4,325.9 276.2,324.8 276.9,323.8 277.5,322.8 278.1,321.7 278.6,320.7 279.1,319.6 279.5,318.6 279.9,317.5 280.2,316.4 280.5,315.3 280.7,314.2 280.9,313.1 281.0,312.0Z" fill="#ffffd4"/>
<path d="M280.0,310.9 280.0,309.8 279.9,308.8 279.8,307.7 279.6,306.7 279.4,305.6 279.1,304.6 278.8,303.6 278.4,302.5 277.9,301.5 277.4,300.5 276.9,299.5 276.2,298.6 275.6,297.6 274.8,296.7 274.0,295.8 273.2,294.9 272.2,294.0 271.2,293.2 270.2,292.4 269.0,291.7 267.8,291.1 266.6,290.5 265.2,290.1 263.9,289.8 262.5,289.6 261.1,289.6 259.6,289.7 258.3,290.0 256.9,290.5 255.7,291.2 254.5,291.9 253.4,292.9 252.5,293.9 251.6,295.0 250.9,296.2 250.3,297.4 249.8,298.6 249.4,299.8 249.0,301.0 248.7,302.2 248.5,303.3 248.3,304.4 248.2,305.5 248.0,306.6 247.9,307.7 247.8,308.8 247.8,309.8 247.7,310.9 247.8,311.9 247.8,313.0 247.9,314.0 248.0,315.1 248.2,316.1 248.5,317.2 248.7,318.3 249.0,319.4 249.4,320.5 249.8,321.6 250.2,322.7 250.8,323.9 251.4,325.0 252.1,326.1 252.9,327.2 253.8,328.2 254.8,329.2 255.9,330.0 257.1,330.8 258.3,331.4 259.7,331.8 261.1,332.1 262.5,332.1 263.9,332.1 265.3,331.8 266.6,331.4 267.9,330.9 269.1,330.2 270.2,329.5 271.3,328.6 272.3,327.8 273.2,326.8 274.0,325.9 274.8,324.9 275.5,324.0 276.1,323.0 276.7,322.0 277.2,321.0 277.7,320.1 278.2,319.1 278.6,318.1 279.0,317.1 279.3,316.0 279.5,315.0 279.7,314.0 279.8,312.9 279.9,311.9Z" fill="#ffffd9"/>
<path d="M278.9,310.8 278.9,309.9 278.9,308.9 278.8,307.9 278.6,306.9 278.4,306.0 278.1,305.0 277.8,304.0 277.5,303.1 277.0,302.1 276.6,301.2 276.0,300.3 275.5,299.4 274.8,298.5 274.1,297.6 273.4,296.8 272.6,295.9 271.7,295.1 270.8,294.4 269.8,293.6 268.7,293.0 267.6,292.4 266.4,291.9 265.2,291.4 263.9,291.1 262.6,291.0 261.3,291.0 260.0,291.1 258.7,291.4 257.4,291.8 256.3,292.4 255.2,293.2 254.2,294.0 253.3,295.0 252.5,296.0 251.8,297.1 251.2,298.2 250.8,299.4 250.4,300.5 250.1,301.6 249.8,302.7 249.6,303.8 249.4,304.9 249.2,305.9 249.1,306.9 249.0,307.9 248.9,308.9 248.9,309.9 248.9,310.8 248.9,311.8 248.9,312.8 249.0,313.8 249.1,314.8 249.3,315.8 249.5,316.8 249.8,317.8 250.1,318.8 250.4,319.8 250.8,320.9 251.2,321.9 251.7,323.0 252.3,324.1 252.9,325.1 253.7,326.1 254.5,327.1 255.4,328.0 256.5,328.8 257.6,329.4 258.8,330.0 260.0,330.4 261.3,330.6 262.6,330.7 263.9,330.6 265.2,330.4 266.5,330.0 267.7,329.5 268.8,328.9 269.8,328.2 270.8,327.5 271.7,326.6 272.6,325.8 273.4,324.9 274.1,324.0 274.7,323.1 275.3,322.2 275.9,321.3 276.4,320.4 276.9,319.4 277.3,318.5 277.7,317.6 278.0,316.6 278.3,315.7 278.5,314.7 278.7,313.8 278.8,312.8 278.9,311.8Z" fill="#ffffde"/>
<path d="M277.9,310.8 277.9,309.9 277.8,309.0 277.7,308.1 277.6,307.2 277.4,306.3 277.1,305.4 276.9,304.5 276.5,303.6 276.1,302.7 275.7,301.9 275.2,301.0 274.7,300.2 274.1,299.3 273.4,298.5 272.8,297.7 272.0,297.0 271.2,296.2 270.3,295.5 269.4,294.8 268.4,294.2 267.4,293.7 266.3,293.2 265.1,292.8 264.0,292.5 262.7,292.4 261.5,292.4 260.3,292.5 259.1,292.8 257.9,293.2 256.8,293.7 255.8,294.4 254.9,295.2 254.1,296.1 253.3,297.1 252.7,298.1 252.2,299.1 251.8,300.2 251.4,301.2 251.1,302.3 250.8,303.3 250.6,304.3 250.5,305.3 250.3,306.2 250.2,307.2 250.1,308.1 250.0,309.0 250.0,309.9 250.0,310.8 250.0,311.8 250.0,312.7 250.1,313.6 250.2,314.5 250.4,315.4 250.6,316.4 250.8,317.3 251.1,318.2 251.4,319.2 251.7,320.2 252.1,321.2 252.6,322.1 253.1,323.1 253.7,324.1 254.4,325.0 255.2,325.9 256.1,326.8 257.0,327.5 258.1,328.1 259.2,328.6 260.3,329.0 261.5,329.2 262.7,329.3 264.0,329.2 265.2,329.0 266.3,328.7 267.4,328.2 268.5,327.6 269.5,327.0 270.4,326.3 271.2,325.5 272.0,324.7 272.7,323.9 273.4,323.1 274.0,322.2 274.6,321.4 275.1,320.5 275.5,319.7 276.0,318.8 276.4,318.0 276.7,317.1 277.0,316.2 277.3,315.3 277.5,314.5 277.7,313.6 277.8,312.7 277.9,311.7Z" fill="#ffffe2"/>
<path d="M276.9,310.8 276.9,310.0 276.8,309.2 276.7,308.3 276.6,307.5 276.4,306.6 276.2,305.8 275.9,305.0 275.6,304.2 275.2,303.4 274.8,302.6 274.4,301.8 273.9,301.0 273.3,300.2 272.8,299.5 272.1,298.7 271.4,298.0 270.7,297.3 269.9,296.7 269.0,296.1 268.1,295.5 267.2,295.0 266.1,294.5 265.1,294.2 264.0,293.9 262.9,293.8 261.7,293.8 260.6,293.9 259.5,294.1 258.4,294.5 257.4,295.0 256.5,295.7 255.6,296.4 254.9,297.2 254.2,298.1 253.6,299.1 253.1,300.0 252.7,301.0 252.4,302.0 252.1,302.9 251.9,303.9 251.7,304.8 251.5,305.7 251.4,306.6 251.3,307.4 251.2,308.3 251.1,309.2 251.1,310.0 251.1,310.8 251.1,311.7 251.1,312.5 251.2,313.4 251.3,314.2 251.5,315.1 251.7,315.9 251.9,316.8 252.1,317.7 252.4,318.6 252.7,319.5 253.1,320.4 253.5,321.3 254.0,322.2 254.6,323.1 255.2,323.9 255.9,324.8 256.7,325.5 257.6,326.2 258.6,326.8 259.6,327.3 260.6,327.6 261.7,327.8 262.9,327.9 264.0,327.8 265.1,327.6 266.2,327.3 267.2,326.9 268.2,326.3 269.1,325.7 269.9,325.1 270.7,324.4 271.4,323.6 272.1,322.9 272.7,322.1 273.3,321.4 273.8,320.6 274.3,319.8 274.7,319.0 275.1,318.2 275.5,317.4 275.8,316.6 276.1,315.8 276.3,315.0 276.5,314.2 276.7,313.3 276.8,312.5 276.8,311.7Z" fill="#ffffe7"/>
<path d="M275.8,310.8 275.8,310.1 275.8,309.3 275.7,308.5 275.6,307.8 275.4,307.0 275.2,306.2 274.9,305.5 274.7,304.7 274.3,304.0 274.0,303.2 273.5,302.5 273.1,301.8 272.6,301.1 272.1,300.4 271.5,299.7 270.8,299.1 270.2,298.4 269.4,297.8 268.6,297.3 267.8,296.8 266.9,296.3 266.0,295.9 265.0,295.6 264.0,295.3 263.0,295.2 262.0,295.2 260.9,295.3 259.9,295.5 258.9,295.9 258.0,296.3 257.1,296.9 256.4,297.6 255.7,298.4 255.0,299.2 254.5,300.0 254.1,300.9 253.7,301.8 253.4,302.7 253.1,303.6 252.9,304.4 252.8,305.3 252.6,306.1 252.5,306.9 252.4,307.7 252.3,308.5 252.2,309.3 252.2,310.1 252.2,310.8 252.2,311.6 252.2,312.4 252.3,313.1 252.4,313.9 252.6,314.7 252.7,315.5 252.9,316.3 253.1,317.1 253.4,317.9 253.7,318.7 254.0,319.6 254.4,320.4 254.9,321.2 255.4,322.1 256.0,322.9 256.6,323.6 257.4,324.3 258.2,324.9 259.0,325.5 260.0,325.9 261.0,326.2 262.0,326.4 263.0,326.5 264.0,326.4 265.0,326.2 266.0,325.9 267.0,325.5 267.9,325.1 268.7,324.5 269.5,323.9 270.2,323.3 270.8,322.6 271.4,321.9 272.0,321.2 272.5,320.5 273.0,319.8 273.4,319.0 273.8,318.3 274.2,317.6 274.5,316.9 274.8,316.1 275.1,315.4 275.3,314.6 275.5,313.9 275.6,313.1 275.7,312.4 275.8,311.6Z" fill="#ffffec"/>
<path d="M274.8,310.8 274.8,310.1 274.7,309.4 274.7,308.7 274.5,308.0 274.4,307.3 274.2,306.6 274.0,305.9 273.7,305.3 273.4,304.6 273.1,303.9 272.7,303.3 272.3,302.6 271.8,302.0 271.4,301.3 270.8,300.7 270.2,300.1 269.6,299.6 269.0,299.0 268.3,298.5 267.5,298.0 266.7,297.6 265.9,297.2 265.0,296.9 264.1,296.7 263.1,296.6 262.2,296.6 261.2,296.7 260.3,296.9 259.4,297.2 258.6,297.6 257.8,298.2 257.1,298.8 256.5,299.5 255.9,300.2 255.4,301.0 255.0,301.8 254.7,302.6 254.4,303.4 254.2,304.2 254.0,305.0 253.8,305.8 253.7,306.5 253.6,307.3 253.5,308.0 253.4,308.7 253.4,309.4 253.3,310.1 253.3,310.8 253.3,311.5 253.3,312.2 253.4,312.9 253.5,313.6 253.6,314.4 253.8,315.1 253.9,315.8 254.2,316.5 254.4,317.3 254.7,318.0 255.0,318.8 255.3,319.5 255.7,320.3 256.2,321.0 256.7,321.8 257.3,322.4 258.0,323.1 258.7,323.7 259.5,324.1 260.4,324.5 261.3,324.8 262.2,325.0 263.1,325.1 264.1,325.0 265.0,324.8 265.9,324.6 266.7,324.2 267.5,323.8 268.3,323.3 269.0,322.7 269.6,322.1 270.2,321.5 270.8,320.9 271.3,320.2 271.8,319.6 272.2,319.0 272.6,318.3 273.0,317.6 273.3,317.0 273.6,316.3 273.9,315.7 274.1,315.0 274.3,314.3 274.5,313.6 274.6,312.9 274.7,312.2 274.8,311.5Z" fill="#fffff1"/>
<path d="M273.7,310.8 273.7,310.2 273.7,309.6 273.6,308.9 273.5,308.3 273.4,307.7 273.2,307.0 273.0,306.4 272.8,305.8 272.5,305.2 272.2,304.6 271.9,304.0 271.5,303.4 271.1,302.8 270.7,302.3 270.2,301.7 269.7,301.2 269.1,300.7 268.5,300.2 267.9,299.7 267.2,299.3 266.5,298.9 265.7,298.6 264.9,298.3 264.1,298.1 263.2,298.0 262.4,298.0 261.5,298.1 260.7,298.3 259.9,298.6 259.2,299.0 258.5,299.4 257.8,300.0 257.2,300.6 256.7,301.3 256.3,302.0 255.9,302.7 255.6,303.4 255.4,304.2 255.2,304.9 255.0,305.6 254.9,306.3 254.7,307.0 254.6,307.6 254.6,308.3 254.5,308.9 254.4,309.6 254.4,310.2 254.4,310.8 254.4,311.5 254.4,312.1 254.5,312.7 254.6,313.4 254.7,314.0 254.8,314.6 255.0,315.3 255.2,316.0 255.4,316.6 255.6,317.3 255.9,318.0 256.2,318.7 256.6,319.3 257.0,320.0 257.5,320.7 258.0,321.3 258.6,321.9 259.3,322.4 260.0,322.8 260.8,323.2 261.6,323.4 262.4,323.6 263.2,323.6 264.1,323.6 264.9,323.4 265.7,323.2 266.5,322.9 267.2,322.5 267.9,322.0 268.5,321.5 269.1,321.0 269.7,320.4 270.2,319.9 270.6,319.3 271.0,318.7 271.4,318.1 271.8,317.6 272.1,317.0 272.4,316.4 272.7,315.8 272.9,315.2 273.1,314.6 273.3,313.9 273.5,313.3 273.6,312.7 273.7,312.1 273.7,311.4Z" fill="#fffff6"/>
<path d="M272.7,310.8 272.7,310.3 272.6,309.7 272.6,309.1 272.5,308.6 272.4,308.0 272.2,307.5 272.0,306.9 271.8,306.4 271.6,305.8 271.3,305.3 271.0,304.8 270.7,304.2 270.3,303.7 269.9,303.2 269.5,302.7 269.1,302.3 268.6,301.8 268.0,301.4 267.5,300.9 266.9,300.6 266.2,300.2 265.5,299.9 264.8,299.7 264.1,299.5 263.4,299.4 262.6,299.4 261.9,299.5 261.1,299.7 260.4,299.9 259.7,300.3 259.1,300.7 258.5,301.2 258.0,301.7 257.6,302.3 257.2,302.9 256.9,303.6 256.6,304.2 256.4,304.9 256.2,305.5 256.0,306.2 255.9,306.8 255.8,307.4 255.7,308.0 255.6,308.6 255.6,309.1 255.5,309.7 255.5,310.3 255.5,310.8 255.5,311.4 255.5,311.9 255.6,312.5 255.7,313.1 255.8,313.6 255.9,314.2 256.0,314.8 256.2,315.4 256.4,316.0 256.6,316.6 256.8,317.2 257.1,317.8 257.4,318.4 257.8,319.0 258.2,319.6 258.7,320.1 259.3,320.6 259.8,321.1 260.5,321.5 261.2,321.8 261.9,322.0 262.6,322.2 263.4,322.2 264.1,322.2 264.8,322.0 265.6,321.8 266.2,321.5 266.9,321.2 267.5,320.8 268.1,320.3 268.6,319.9 269.1,319.4 269.5,318.9 269.9,318.4 270.3,317.8 270.6,317.3 270.9,316.8 271.2,316.3 271.5,315.7 271.7,315.2 272.0,314.7 272.1,314.1 272.3,313.6 272.4,313.0 272.5,312.5 272.6,311.9 272.7,311.4Z" fill="#fffffa"/>
<path d="M271.6,310.8 271.6,310.3 271.6,309.8 271.5,309.3 271.5,308.8 271.4,308.4 271.2,307.9 271.1,307.4 270.9,306.9 270.7,306.4 270.5,306.0 270.2,305.5 269.9,305.1 269.6,304.6 269.2,304.2 268.9,303.7 268.5,303.3 268.0,302.9 267.6,302.5 267.1,302.2 266.5,301.8 266.0,301.5 265.4,301.3 264.8,301.1 264.1,300.9 263.5,300.8 262.8,300.8 262.2,300.9 261.5,301.0 260.9,301.3 260.3,301.6 259.8,301.9 259.3,302.4 258.8,302.9 258.4,303.4 258.1,303.9 257.8,304.5 257.6,305.1 257.4,305.6 257.2,306.2 257.1,306.7 257.0,307.3 256.9,307.8 256.8,308.3 256.7,308.8 256.7,309.3 256.6,309.8 256.6,310.3 256.6,310.8 256.6,311.3 256.6,311.8 256.7,312.3 256.7,312.8 256.8,313.3 256.9,313.8 257.1,314.3 257.2,314.8 257.4,315.3 257.6,315.9 257.8,316.4 258.0,316.9 258.3,317.4 258.6,318.0 259.0,318.5 259.4,319.0 259.9,319.4 260.4,319.8 261.0,320.2 261.5,320.4 262.2,320.6 262.8,320.8 263.5,320.8 264.1,320.8 264.8,320.6 265.4,320.4 266.0,320.2 266.6,319.9 267.1,319.5 267.6,319.1 268.0,318.7 268.5,318.3 268.8,317.9 269.2,317.4 269.5,317.0 269.8,316.5 270.1,316.1 270.4,315.6 270.6,315.1 270.8,314.7 271.0,314.2 271.2,313.7 271.3,313.2 271.4,312.8 271.5,312.3 271.6,311.8 271.6,311.3Z" fill="#fffffb"/>
<path d="M270.6,310.8 270.6,310.4 270.6,310.0 270.5,309.5 270.4,309.1 270.3,308.7 270.2,308.3 270.1,307.9 269.9,307.5 269.8,307.1 269.6,306.7 269.3,306.3 269.1,305.9 268.8,305.5 268.5,305.1 268.2,304.7 267.9,304.4 267.5,304.0 267.1,303.7 266.7,303.4 266.2,303.1 265.7,302.9 265.2,302.6 264.7,302.5 264.1,302.3 263.6,302.3 263.0,302.3 262.5,302.3 261.9,302.4 261.4,302.6 260.9,302.9 260.4,303.2 260.0,303.6 259.6,304.0 259.3,304.4 259.0,304.9 258.7,305.4 258.5,305.9 258.3,306.4 258.2,306.8 258.1,307.3 258.0,307.8 257.9,308.2 257.9,308.7 257.8,309.1 257.8,309.5 257.7,310.0 257.7,310.4 257.7,310.8 257.7,311.2 257.7,311.7 257.8,312.1 257.8,312.5 257.9,312.9 258.0,313.4 258.1,313.8 258.2,314.2 258.3,314.7 258.5,315.1 258.7,315.6 258.9,316.0 259.2,316.5 259.4,316.9 259.8,317.4 260.1,317.8 260.5,318.2 260.9,318.5 261.4,318.8 261.9,319.1 262.5,319.2 263.0,319.3 263.6,319.4 264.1,319.3 264.7,319.2 265.2,319.1 265.8,318.9 266.2,318.6 266.7,318.3 267.1,318.0 267.5,317.6 267.9,317.2 268.2,316.9 268.5,316.5 268.8,316.1 269.0,315.7 269.3,315.3 269.5,314.9 269.7,314.5 269.9,314.1 270.0,313.7 270.2,313.3 270.3,312.9 270.4,312.5 270.5,312.1 270.5,311.6 270.6,311.2Z" fill="#fffffb"/>
<path d="M269.5,310.8 269.5,310.5 269.5,310.1 269.5,309.8 269.4,309.4 269.3,309.1 269.2,308.7 269.1,308.4 269.0,308.0 268.8,307.7 268.7,307.3 268.5,307.0 268.3,306.7 268.1,306.4 267.8,306.1 267.5,305.7 267.3,305.5 266.9,305.2 266.6,304.9 266.3,304.6 265.9,304.4 265.5,304.2 265.1,304.0 264.6,303.8 264.2,303.7 263.7,303.7 263.2,303.7 262.8,303.7 262.3,303.8 261.8,304.0 261.4,304.2 261.0,304.5 260.7,304.8 260.4,305.1 260.1,305.5 259.8,305.9 259.6,306.3 259.5,306.7 259.3,307.1 259.2,307.5 259.1,307.9 259.0,308.3 259.0,308.7 258.9,309.0 258.9,309.4 258.8,309.7 258.8,310.1 258.8,310.5 258.8,310.8 258.8,311.2 258.8,311.5 258.8,311.9 258.9,312.2 258.9,312.6 259.0,312.9 259.1,313.3 259.2,313.7 259.3,314.0 259.5,314.4 259.6,314.8 259.8,315.2 260.0,315.5 260.2,315.9 260.5,316.3 260.8,316.6 261.1,317.0 261.5,317.2 261.9,317.5 262.3,317.7 262.8,317.8 263.2,317.9 263.7,317.9 264.2,317.9 264.6,317.8 265.1,317.7 265.5,317.5 265.9,317.3 266.3,317.0 266.6,316.8 267.0,316.5 267.3,316.2 267.5,315.8 267.8,315.5 268.0,315.2 268.2,314.9 268.4,314.6 268.6,314.2 268.8,313.9 268.9,313.6 269.1,313.2 269.2,312.9 269.3,312.5 269.4,312.2 269.4,311.9 269.5,311.5 269.5,311.2Z" fill="#fffffc"/>
<path d="M268.5,310.8 268.5,310.5 268.4,310.2 268.4,310.0 268.4,309.7 268.3,309.4 268.2,309.1 268.1,308.8 268.0,308.6 267.9,308.3 267.8,308.0 267.6,307.8 267.5,307.5 267.3,307.3 267.1,307.0 266.9,306.8 266.7,306.5 266.4,306.3 266.1,306.1 265.9,305.9 265.6,305.7 265.2,305.5 264.9,305.4 264.5,305.2 264.2,305.1 263.8,305.1 263.4,305.1 263.0,305.1 262.7,305.2 262.3,305.3 262.0,305.5 261.7,305.7 261.4,306.0 261.1,306.3 260.9,306.6 260.7,306.9 260.6,307.2 260.4,307.5 260.3,307.8 260.2,308.2 260.1,308.5 260.1,308.8 260.0,309.1 260.0,309.4 259.9,309.7 259.9,310.0 259.9,310.2 259.9,310.5 259.9,310.8 259.9,311.1 259.9,311.4 259.9,311.7 260.0,311.9 260.0,312.2 260.1,312.5 260.1,312.8 260.2,313.1 260.3,313.4 260.4,313.7 260.5,314.0 260.7,314.3 260.8,314.6 261.0,314.9 261.2,315.2 261.5,315.5 261.8,315.7 262.0,315.9 262.4,316.1 262.7,316.3 263.1,316.4 263.4,316.5 263.8,316.5 264.2,316.5 264.5,316.4 264.9,316.3 265.2,316.2 265.6,316.0 265.9,315.8 266.2,315.6 266.4,315.3 266.7,315.1 266.9,314.8 267.1,314.6 267.3,314.3 267.4,314.1 267.6,313.8 267.7,313.5 267.9,313.3 268.0,313.0 268.1,312.7 268.2,312.5 268.3,312.2 268.3,311.9 268.4,311.6 268.4,311.4 268.5,311.1Z" fill="#fffffd"/>
<path d="M267.4,310.8 267.4,310.6 267.4,310.4 267.4,310.2 267.3,310.0 267.3,309.8 267.2,309.5 267.2,309.3 267.1,309.1 267.0,308.9 266.9,308.7 266.8,308.5 266.7,308.3 266.5,308.1 266.4,308.0 266.2,307.8 266.0,307.6 265.9,307.4 265.7,307.2 265.4,307.1 265.2,307.0 265.0,306.8 264.7,306.7 264.5,306.6 264.2,306.6 263.9,306.5 263.6,306.5 263.3,306.5 263.1,306.6 262.8,306.7 262.5,306.8 262.3,307.0 262.1,307.2 261.9,307.4 261.7,307.6 261.6,307.8 261.5,308.1 261.4,308.3 261.3,308.6 261.2,308.8 261.2,309.1 261.1,309.3 261.1,309.5 261.0,309.7 261.0,310.0 261.0,310.2 261.0,310.4 261.0,310.6 261.0,310.8 261.0,311.0 261.0,311.2 261.0,311.4 261.0,311.7 261.1,311.9 261.1,312.1 261.2,312.3 261.2,312.5 261.3,312.7 261.4,313.0 261.5,313.2 261.6,313.4 261.7,313.6 261.8,313.9 262.0,314.1 262.2,314.3 262.4,314.5 262.6,314.7 262.8,314.8 263.1,314.9 263.3,315.0 263.6,315.1 263.9,315.1 264.2,315.1 264.5,315.0 264.7,314.9 265.0,314.8 265.2,314.7 265.5,314.5 265.7,314.4 265.9,314.2 266.0,314.0 266.2,313.8 266.4,313.6 266.5,313.4 266.6,313.2 266.8,313.1 266.9,312.9 267.0,312.7 267.1,312.5 267.1,312.3 267.2,312.1 267.3,311.8 267.3,311.6 267.4,311.4 267.4,311.2 267.4,311.0Z" fill="#fffffd"/>
<path d="M266.3,310.8 266.3,310.7 266.3,310.5 266.3,310.4 266.3,310.2 266.3,310.1 266.2,310.0 266.2,309.8 266.1,309.7 266.1,309.5 266.0,309.4 265.9,309.3 265.8,309.2 265.8,309.0 265.7,308.9 265.5,308.8 265.4,308.7 265.3,308.5 265.2,308.4 265.0,308.3 264.9,308.2 264.7,308.1 264.6,308.1 264.4,308.0 264.2,308.0 264.0,307.9 263.8,307.9 263.6,308.0 263.4,308.0 263.3,308.1 263.1,308.2 262.9,308.3 262.8,308.4 262.7,308.5 262.6,308.7 262.5,308.8 262.4,309.0 262.3,309.2 262.3,309.3 262.2,309.5 262.2,309.6 262.1,309.8 262.1,309.9 262.1,310.1 262.1,310.2 262.1,310.4 262.1,310.5 262.0,310.7 262.0,310.8 262.0,310.9 262.1,311.1 262.1,311.2 262.1,311.4 262.1,311.5 262.1,311.7 262.2,311.8 262.2,311.9 262.3,312.1 262.3,312.2 262.4,312.4 262.4,312.5 262.5,312.7 262.6,312.8 262.7,313.0 262.8,313.1 263.0,313.3 263.1,313.4 263.3,313.5 263.5,313.6 263.6,313.6 263.8,313.6 264.0,313.7 264.2,313.6 264.4,313.6 264.6,313.6 264.7,313.5 264.9,313.4 265.0,313.3 265.2,313.2 265.3,313.1 265.4,312.9 265.5,312.8 265.6,312.7 265.7,312.6 265.8,312.4 265.9,312.3 266.0,312.2 266.0,312.0 266.1,311.9 266.2,311.8 266.2,311.6 266.2,311.5 266.3,311.4 266.3,311.2 266.3,311.1 266.3,310.9Z" fill="#fffffe"/>
<path d="M265.3,310.8 265.3,310.7 265.3,310.7 265.3,310.6 265.2,310.5 265.2,310.4 265.2,310.4 265.2,310.3 265.2,310.2 265.1,310.2 265.1,310.1 265.1,310.0 265.0,310.0 265.0,309.9 264.9,309.8 264.9,309.8 264.8,309.7 264.8,309.7 264.7,309.6 264.6,309.6 264.5,309.5 264.5,309.5 264.4,309.4 264.3,309.4 264.2,309.4 264.1,309.4 264.0,309.4 263.9,309.4 263.8,309.4 263.7,309.4 263.7,309.5 263.6,309.5 263.5,309.6 263.4,309.7 263.4,309.7 263.3,309.8 263.3,309.9 263.3,310.0 263.2,310.1 263.2,310.1 263.2,310.2 263.2,310.3 263.2,310.4 263.2,310.4 263.1,310.5 263.1,310.6 263.1,310.7 263.1,310.7 263.1,310.8 263.1,310.9 263.1,310.9 263.1,311.0 263.1,311.1 263.2,311.2 263.2,311.2 263.2,311.3 263.2,311.4 263.2,311.4 263.3,311.5 263.3,311.6 263.3,311.7 263.4,311.7 263.4,311.8 263.5,311.9 263.5,312.0 263.6,312.0 263.7,312.1 263.7,312.1 263.8,312.2 263.9,312.2 264.0,312.2 264.1,312.2 264.2,312.2 264.3,312.2 264.4,312.2 264.5,312.1 264.5,312.1 264.6,312.0 264.7,312.0 264.8,311.9 264.8,311.9 264.9,311.8 264.9,311.7 265.0,311.7 265.0,311.6 265.1,311.5 265.1,311.5 265.1,311.4 265.2,311.4 265.2,311.3 265.2,311.2 265.2,311.1 265.2,311.1 265.3,311.0 265.3,310.9 265.3,310.9Z" fill="#ffffff"/>
<circle cx="206.4" cy="363.4" r="7.4" fill="#000"/>
<circle cx="211.0" cy="363.4" r="7.4" fill="#000"/>
<circle cx="215.6" cy="363.4" r="7.4" fill="#000"/>
<circle cx="220.2" cy="363.4" r="7.4" fill="#000"/>
<circle cx="224.8" cy="363.4" r="7.4" fill="#000"/>
<circle cx="229.4" cy="363.4" r="7.4" fill="#000"/>
<circle cx="234.0" cy="363.4" r="7.4" fill="#000"/>
<circle cx="238.6" cy="363.4" r="7.4" fill="#000"/>
<circle cx="243.2" cy="363.4" r="7.4" fill="#000"/>
<circle cx="247.8" cy="363.4" r="7.4" fill="#000"/>
<circle cx="253.4" cy="363.5" r="7.2" fill="#00ff08" stroke="#0a4a0a" stroke-opacity="0.7" stroke-width="0.7"/>
<line x1="115.1" y1="13.7" x2="115.1" y2="713.8" stroke="#262626" stroke-width="1.75"/>
<line x1="114.2" y1="712.9" x2="404.6" y2="712.9" stroke="#262626" stroke-width="1.75"/>
<line x1="115.1" y1="14.5" x2="122.6" y2="14.5" stroke="#262626" stroke-width="1.75"/>
<text class="tk" x="103.3" y="22.9" text-anchor="end">0.8</text>
<line x1="115.1" y1="101.8" x2="122.6" y2="101.8" stroke="#262626" stroke-width="1.75"/>
<text class="tk" x="103.3" y="110.2" text-anchor="end">0.6</text>
<line x1="115.1" y1="189.1" x2="122.6" y2="189.1" stroke="#262626" stroke-width="1.75"/>
<text class="tk" x="103.3" y="197.5" text-anchor="end">0.4</text>
<line x1="115.1" y1="276.4" x2="122.6" y2="276.4" stroke="#262626" stroke-width="1.75"/>
<text class="tk" x="103.3" y="284.8" text-anchor="end">0.2</text>
<line x1="115.1" y1="363.7" x2="122.6" y2="363.7" stroke="#262626" stroke-width="1.75"/>
<text class="tk" x="103.3" y="372.1" text-anchor="end">0</text>
<line x1="115.1" y1="451.0" x2="122.6" y2="451.0" stroke="#262626" stroke-width="1.75"/>
<text class="tk" x="103.3" y="459.4" text-anchor="end">-0.2</text>
<line x1="115.1" y1="538.3" x2="122.6" y2="538.3" stroke="#262626" stroke-width="1.75"/>
<text class="tk" x="103.3" y="546.7" text-anchor="end">-0.4</text>
<line x1="115.1" y1="625.6" x2="122.6" y2="625.6" stroke="#262626" stroke-width="1.75"/>
<text class="tk" x="103.3" y="634.0" text-anchor="end">-0.6</text>
<line x1="115.1" y1="712.9" x2="122.6" y2="712.9" stroke="#262626" stroke-width="1.75"/>
<text class="tk" x="103.3" y="721.3" text-anchor="end">-0.8</text>
<line x1="136.7" y1="712.9" x2="136.7" y2="705.7" stroke="#262626" stroke-width="1.75"/>
<text class="tk" x="136.7" y="753.5" text-anchor="middle">0.6</text>
<line x1="224.2" y1="712.9" x2="224.2" y2="705.7" stroke="#262626" stroke-width="1.75"/>
<text class="tk" x="224.2" y="753.5" text-anchor="middle">0.8</text>
<line x1="311.7" y1="712.9" x2="311.7" y2="705.7" stroke="#262626" stroke-width="1.75"/>
<text class="tk" x="311.7" y="753.5" text-anchor="middle">1</text>
<line x1="399.2" y1="712.9" x2="399.2" y2="705.7" stroke="#262626" stroke-width="1.75"/>
<text class="tk" x="399.2" y="753.5" text-anchor="middle">1.2</text>
<text class="lb" transform="translate(258.35,796.80)"><tspan class="it" x="-41.00">R</tspan><tspan class="br" x="-3.35" dy="3.3">[</tspan><tspan class="mm" x="6.45" dy="-3.3">m</tspan><tspan class="br" x="31.55" dy="3.3">]</tspan></text>
<text class="lb" transform="translate(27.80,364.65) rotate(-90)"><tspan class="it" x="-41.00">Z</tspan><tspan class="br" x="-3.35" dy="3.3">[</tspan><tspan class="mm" x="6.45" dy="-3.3">m</tspan><tspan class="br" x="31.55" dy="3.3">]</tspan></text>
<text class="cap" x="224.6" y="881.6"><tspan class="pr">(</tspan><tspan dx="-0.6">a</tspan><tspan class="pr" dx="1.1">)</tspan></text>
<line x1="566.0" y1="100.8" x2="566.0" y2="607.8" stroke="#262626" stroke-width="1.75"/>
<line x1="565.1" y1="606.9" x2="1006.2" y2="606.9" stroke="#262626" stroke-width="1.75"/>
<line x1="566.0" y1="167.1" x2="572.0" y2="167.1" stroke="#262626" stroke-width="1.75"/>
<text class="tk" x="553.4" y="175.4" text-anchor="end">1</text>
<line x1="566.0" y1="277.1" x2="572.0" y2="277.1" stroke="#262626" stroke-width="1.75"/>
<text class="tk" x="553.4" y="285.4" text-anchor="end">0.5</text>
<line x1="566.0" y1="387.1" x2="572.0" y2="387.1" stroke="#262626" stroke-width="1.75"/>
<text class="tk" x="553.4" y="395.4" text-anchor="end">0</text>
<line x1="566.0" y1="497.1" x2="572.0" y2="497.1" stroke="#262626" stroke-width="1.75"/>
<text class="tk" x="553.4" y="505.4" text-anchor="end">-0.5</text>
<line x1="566.0" y1="607.1" x2="572.0" y2="607.1" stroke="#262626" stroke-width="1.75"/>
<text class="tk" x="553.4" y="615.4" text-anchor="end">-1</text>
<line x1="566.0" y1="606.9" x2="566.0" y2="600.9" stroke="#262626" stroke-width="1.75"/>
<text class="tk" x="566.0" y="647.8" text-anchor="middle">4.5</text>
<line x1="675.9" y1="606.9" x2="675.9" y2="600.9" stroke="#262626" stroke-width="1.75"/>
<text class="tk" x="675.9" y="647.8" text-anchor="middle">5</text>
<line x1="785.8" y1="606.9" x2="785.8" y2="600.9" stroke="#262626" stroke-width="1.75"/>
<text class="tk" x="785.8" y="647.8" text-anchor="middle">5.5</text>
<line x1="895.7" y1="606.9" x2="895.7" y2="600.9" stroke="#262626" stroke-width="1.75"/>
<text class="tk" x="895.7" y="647.8" text-anchor="middle">6</text>
<line x1="1005.6" y1="606.9" x2="1005.6" y2="600.9" stroke="#262626" stroke-width="1.75"/>
<text class="tk" x="1005.6" y="647.8" text-anchor="middle">6.5</text>
<text class="lb" transform="translate(785.60,690.60)"><tspan class="it" x="-41.00">R</tspan><tspan class="br" x="-3.35" dy="3.3">[</tspan><tspan class="mm" x="6.45" dy="-3.3">m</tspan><tspan class="br" x="31.55" dy="3.3">]</tspan></text>
<text class="lb" transform="translate(479.30,355.25) rotate(-90)"><tspan class="it" x="-41.00">Z</tspan><tspan class="br" x="-3.35" dy="3.3">[</tspan><tspan class="mm" x="6.45" dy="-3.3">m</tspan><tspan class="br" x="31.55" dy="3.3">]</tspan></text>
<text class="cap" x="763.2" y="882"><tspan class="pr">(</tspan><tspan dx="0.3">b</tspan><tspan class="pr" dx="-1">)</tspan></text>
<polygon points="723.4,120.3 746.8,120.6 773.4,125.8 799.9,134.7 826.4,150.0 851.4,173.4 871.0,199.7 888.3,228.0 903.0,255.0 917.8,282.1 926.4,300.0 939.9,327.1 952.2,354.1 962.1,381.2 967.5,408.3 970.0,437.8 970.7,459.5 970.1,479.0 968.8,502.4 965.9,522.0 962.0,537.6 956.1,550.2 948.3,562.0 936.6,571.7 922.9,577.6 909.3,578.9 895.6,576.6 882.0,570.7 866.3,561.0 852.7,547.3 842.9,531.7 837.5,512.0 831.3,492.0 823.2,471.9 812.5,454.4 799.1,440.3 780.3,425.6 760.1,410.8 740.4,396.8 720.5,385.8 693.7,372.3 666.8,358.9 640.3,343.3 626.4,327.5 615.2,309.6 606.3,287.3 600.2,262.7 598.9,240.3 601.8,217.9 606.9,198.7 618.6,178.4 633.4,161.2 652.1,145.6 674.0,133.1 697.4,124.5" fill="none" stroke="#808080" stroke-width="11.8" stroke-linejoin="round"/>
<polygon points="686.2,307.3 676.2,299.5 675.6,272.6 673.9,258.1 674.3,237.4 697.4,218.4 709.1,218.4 719.2,214.7 741.6,214.7 751.7,219.5 764.0,220.1 770.0,221.7 785.7,227.9 819.2,254.7 829.3,272.1 841.6,281.6 852.8,302.8 868.0,320.0 880.0,340.0 882.6,356.1 884.9,369.5 891.6,377.6 891.3,395.5 896.3,404.0 896.3,421.1 885.4,440.1 884.9,448.2 873.9,448.2 862.5,457.3 851.1,457.3 838.8,446.8 829.3,431.6 822.3,425.0 817.8,417.5 805.3,412.1 800.8,404.1 765.0,375.9 740.4,357.0 730.3,354.3 686.2,316.8" fill="#ffff99" stroke="#000" stroke-width="1.5" stroke-linejoin="miter"/>
<polygon points="692.3,311.2 684.5,299.5 680.6,279.4 679.5,254.7 682.3,246.9 682.9,237.4 698.0,224.5 708.0,222.3 720.3,218.9 741.6,218.9 750.5,222.3 762.8,225.1 770.0,227.3 776.7,228.5 787.9,235.7 818.1,259.8 827.0,274.9 839.4,283.8 850.5,306.2 866.0,322.0 876.0,342.0 879.1,357.0 881.7,369.5 886.7,377.6 886.0,393.7 888.2,404.0 888.2,422.1 885.4,434.0 873.9,442.0 862.5,450.1 850.2,450.1 839.7,441.1 831.2,429.7 824.1,422.9 818.7,414.8 808.0,408.5 802.6,402.3 765.0,372.7 740.4,352.6 727.0,344.7 711.3,329.1" fill="#ffff33" stroke="#000" stroke-width="1.5" stroke-linejoin="miter"/>
<polygon points="697.9,310.6 688.5,288.3 684.0,272.6 684.0,254.7 690.7,246.9 690.7,237.4 703.6,227.9 719.2,223.4 741.6,224.0 755.0,227.9 770.0,232.9 775.6,234.0 786.8,241.9 814.7,261.5 823.7,276.0 836.0,284.9 847.2,307.3 860.0,324.0 866.5,347.2 875.5,357.9 877.3,369.5 880.9,381.2 880.9,393.7 881.6,404.0 879.7,421.1 877.8,430.6 862.5,443.0 851.1,434.4 839.7,434.4 829.4,425.0 827.6,422.0 820.5,412.1 803.5,399.6 778.4,378.1 765.0,369.2 742.6,349.2 724.7,333.6 713.6,322.4" fill="#ffdd00" stroke="#000" stroke-width="1.5" stroke-linejoin="miter"/>
<polygon points="708.0,310.1 698.5,292.8 697.4,272.6 691.8,255.9 703.6,246.9 708.0,229.6 723.7,228.5 732.6,230.7 752.8,230.1 770.0,239.1 773.4,241.3 784.5,244.7 809.2,263.7 814.7,273.2 828.2,283.8 841.6,308.4 856.0,326.0 864.7,348.1 863.0,360.6 871.9,369.5 872.8,384.7 872.0,388.8 875.8,397.4 875.8,416.4 862.5,424.5 839.7,425.9 829.4,420.0 827.5,413.5 822.3,411.2 805.3,396.9 787.4,382.6 774.8,371.0 765.0,366.0 744.9,347.0 733.7,336.9 728.1,332.4 714.7,317.9" fill="#ff9900" stroke="#000" stroke-width="1.5" stroke-linejoin="miter"/>
<polygon points="721.4,306.7 713.6,299.5 715.9,290.5 710.3,269.3 709.1,254.7 719.2,240.2 730.4,240.8 752.8,239.6 770.0,250.8 784.5,254.7 793.5,263.7 806.9,270.4 818.1,281.6 820.3,288.3 834.9,308.4 850.0,328.0 861.2,348.9 854.0,360.6 863.0,369.5 866.5,377.6 866.5,387.4 869.2,395.5 862.5,403.1 852.1,411.6 839.7,413.5 826.4,404.0 820.5,402.3 807.1,390.6 796.3,387.1 792.7,378.1 773.9,365.6 765.0,361.6 751.6,347.0 730.3,321.3 723.6,314.5" fill="#ff5500" stroke="#000" stroke-width="1.5" stroke-linejoin="miter"/>
<polygon points="729.2,307.8 728.2,299.5 718.1,273.8 722.6,262.6 719.2,254.7 730.4,254.7 741.6,247.5 753.9,247.5 770.0,255.9 774.5,261.5 789.0,268.2 799.1,276.0 809.2,282.7 814.7,290.5 829.3,308.4 844.0,330.0 854.0,349.8 850.4,357.9 858.5,369.5 860.3,379.4 857.6,385.6 840.2,399.7 829.3,391.2 818.7,390.6 792.7,370.1 776.6,362.0 765.0,351.7 738.2,315.7" fill="#ff1a00" stroke="#000" stroke-width="1.5" stroke-linejoin="miter"/>
<polygon points="738.2,310.0 728.2,288.3 725.9,271.5 741.6,255.9 762.8,258.1 770.0,264.8 786.8,273.8 796.8,282.7 823.7,308.4 839.7,356.1 848.6,362.4 853.1,371.3 852.2,379.4 846.4,385.0 839.7,388.3 833.0,384.4 818.7,383.5 805.3,373.6 794.5,365.6 777.5,359.8 765.0,346.8 747.1,316.8 742.6,311.2" fill="#d40000" stroke="#000" stroke-width="1.5" stroke-linejoin="miter"/>
<polygon points="743.8,310.0 740.5,292.8 734.9,270.4 741.6,264.3 770.0,268.7 783.4,276.0 792.4,283.8 803.6,292.8 819.2,308.4 833.4,352.5 841.5,360.6 844.5,370.0 829.4,379.9 817.8,372.7 807.1,368.3 795.4,357.5 770.0,340.0 751.6,314.5" fill="#8b0000" stroke="#000" stroke-width="1.5" stroke-linejoin="miter"/>
<polygon points="757.2,310.0 756.1,299.5 748.3,281.6 752.8,274.9 770.0,277.1 776.7,279.4 791.3,292.8 792.9,298.4 776.7,304.0 770.0,310.0 764.0,326.0 757.0,323.0" fill="#550000" stroke="#000" stroke-width="1.5" stroke-linejoin="miter"/>
<g fill="#000">
<circle cx="719.2" cy="326.2" r="7.3" fill="#000"/>
<circle cx="782.0" cy="315.3" r="7.45"/>
<circle cx="787.1" cy="315.3" r="7.45"/>
<circle cx="792.2" cy="315.3" r="7.45"/>
<circle cx="797.2" cy="315.3" r="7.45"/>
<circle cx="802.3" cy="315.3" r="7.45"/>
<circle cx="807.4" cy="315.3" r="7.45"/>
<circle cx="812.5" cy="315.3" r="7.45"/>
<circle cx="817.5" cy="315.3" r="7.45"/>
<circle cx="822.6" cy="315.3" r="7.45"/>
<circle cx="827.7" cy="315.3" r="7.45"/>
<circle cx="832.8" cy="315.3" r="7.45"/>
<circle cx="837.8" cy="315.3" r="7.45"/>
<circle cx="842.9" cy="315.3" r="7.45"/>
<circle cx="848.0" cy="315.3" r="7.45"/>
<circle cx="797.0" cy="323.0" r="7.45"/>
<circle cx="802.2" cy="323.0" r="7.45"/>
<circle cx="807.4" cy="323.0" r="7.45"/>
<circle cx="812.6" cy="323.0" r="7.45"/>
<circle cx="817.9" cy="323.0" r="7.45"/>
<circle cx="823.1" cy="323.0" r="7.45"/>
<circle cx="828.3" cy="323.0" r="7.45"/>
<circle cx="833.5" cy="323.0" r="7.45"/>
<circle cx="838.7" cy="323.0" r="7.45"/>
<circle cx="843.9" cy="323.0" r="7.45"/>
<circle cx="849.1" cy="323.0" r="7.45"/>
<circle cx="854.4" cy="323.0" r="7.45"/>
<circle cx="859.6" cy="323.0" r="7.45"/>
<circle cx="864.8" cy="323.0" r="7.45"/>
<circle cx="870.0" cy="323.0" r="7.45"/>
<circle cx="737.5" cy="325.5" r="7.45"/>
<circle cx="742.1" cy="325.3" r="7.45"/>
<circle cx="746.8" cy="325.1" r="7.45"/>
<circle cx="751.4" cy="324.8" r="7.45"/>
<circle cx="756.0" cy="324.6" r="7.45"/>
<circle cx="741.0" cy="332.6" r="7.45"/>
<circle cx="746.2" cy="332.5" r="7.45"/>
<circle cx="751.4" cy="332.5" r="7.45"/>
<circle cx="756.6" cy="332.4" r="7.45"/>
<circle cx="761.8" cy="332.4" r="7.45"/>
<circle cx="767.0" cy="332.3" r="7.45"/>
<circle cx="772.2" cy="332.3" r="7.45"/>
<circle cx="777.3" cy="332.2" r="7.45"/>
<circle cx="782.5" cy="332.2" r="7.45"/>
<circle cx="787.7" cy="332.1" r="7.45"/>
<circle cx="792.9" cy="332.1" r="7.45"/>
<circle cx="798.1" cy="332.0" r="7.45"/>
<circle cx="803.3" cy="332.0" r="7.45"/>
<circle cx="808.5" cy="331.9" r="7.45"/>
<circle cx="813.7" cy="331.8" r="7.45"/>
<circle cx="818.9" cy="331.8" r="7.45"/>
<circle cx="824.1" cy="331.7" r="7.45"/>
<circle cx="829.3" cy="331.6" r="7.45"/>
<circle cx="834.5" cy="331.5" r="7.45"/>
<circle cx="839.7" cy="331.5" r="7.45"/>
<circle cx="844.8" cy="331.4" r="7.45"/>
<circle cx="850.0" cy="331.3" r="7.45"/>
<circle cx="855.2" cy="331.3" r="7.45"/>
<circle cx="860.4" cy="331.2" r="7.45"/>
<circle cx="865.6" cy="331.1" r="7.45"/>
<circle cx="870.8" cy="331.1" r="7.45"/>
<circle cx="876.0" cy="331.0" r="7.45"/>
<circle cx="745.0" cy="338.2" r="7.45"/>
<circle cx="750.3" cy="338.3" r="7.45"/>
<circle cx="755.6" cy="338.4" r="7.45"/>
<circle cx="760.9" cy="338.4" r="7.45"/>
<circle cx="766.2" cy="338.5" r="7.45"/>
<circle cx="771.5" cy="338.6" r="7.45"/>
<circle cx="776.8" cy="338.7" r="7.45"/>
<circle cx="782.0" cy="338.7" r="7.45"/>
<circle cx="787.3" cy="338.8" r="7.45"/>
<circle cx="792.6" cy="338.9" r="7.45"/>
<circle cx="797.9" cy="339.0" r="7.45"/>
<circle cx="803.2" cy="339.1" r="7.45"/>
<circle cx="808.5" cy="339.2" r="7.45"/>
<circle cx="813.8" cy="339.4" r="7.45"/>
<circle cx="819.1" cy="339.5" r="7.45"/>
<circle cx="824.4" cy="339.7" r="7.45"/>
<circle cx="829.7" cy="339.8" r="7.45"/>
<circle cx="835.0" cy="340.0" r="7.45"/>
<circle cx="840.3" cy="340.1" r="7.45"/>
<circle cx="845.5" cy="340.3" r="7.45"/>
<circle cx="850.8" cy="340.4" r="7.45"/>
<circle cx="856.1" cy="340.6" r="7.45"/>
<circle cx="861.4" cy="340.7" r="7.45"/>
<circle cx="866.7" cy="340.9" r="7.45"/>
<circle cx="872.0" cy="341.0" r="7.45"/>
<circle cx="856.8" cy="308.6" r="7.45"/>
<circle cx="859.8" cy="312.7" r="7.45"/>
<circle cx="863.1" cy="316.5" r="7.45"/>
<circle cx="866.6" cy="320.1" r="7.45"/>
<circle cx="870.0" cy="323.9" r="7.45"/>
<circle cx="873.3" cy="327.7" r="7.45"/>
<circle cx="876.4" cy="331.7" r="7.45"/>
<circle cx="878.6" cy="336.2" r="7.45"/>
<circle cx="879.3" cy="341.1" r="7.45"/>
<circle cx="879.0" cy="346.0" r="7.45"/>
<circle cx="874.0" cy="346.5" r="7.45"/>
<circle cx="780.5" cy="350.5" r="7.45"/>
<circle cx="785.8" cy="350.2" r="7.45"/>
<circle cx="791.1" cy="350.0" r="7.45"/>
<circle cx="796.5" cy="349.6" r="7.45"/>
<circle cx="801.7" cy="350.3" r="7.45"/>
<circle cx="806.6" cy="352.1" r="7.45"/>
<circle cx="811.1" cy="354.9" r="7.45"/>
<circle cx="816.1" cy="353.2" r="7.45"/>
<circle cx="821.3" cy="351.9" r="7.45"/>
<circle cx="826.4" cy="350.7" r="7.45"/>
<circle cx="831.0" cy="348.0" r="7.45"/>
<circle cx="800.5" cy="310.7" r="7.4"/>
</g>
<circle cx="773.2" cy="315.2" r="7.3" fill="#00ff08" stroke="#0a3a0a" stroke-opacity="0.7" stroke-width="0.7"/>
</svg>
</body></html>
